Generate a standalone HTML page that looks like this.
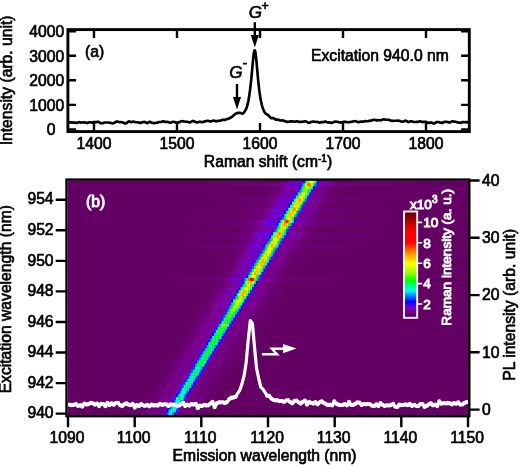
<!DOCTYPE html>
<html><head><meta charset="utf-8"><title>Raman figure</title>
<style>html,body{margin:0;padding:0;background:#fff}svg{display:block}</style></head>
<body><svg width="520" height="466" viewBox="0 0 520 466" font-family="Liberation Sans, Arial, sans-serif" font-size="15.7px">
<rect width="520" height="466" fill="#fff"/>
<polyline points="68.9,122.1 69.4,122.3 69.9,122.3 70.4,122.4 70.9,122.4 71.4,122.4 71.9,122.4 72.4,122.5 72.9,122.6 73.4,122.6 73.9,122.6 74.4,122.6 74.9,122.6 75.4,122.7 75.9,122.8 76.4,122.8 76.9,122.9 77.4,122.7 77.9,122.4 78.4,122.2 78.9,122.2 79.4,122.1 79.9,122.2 80.4,122.4 80.9,122.6 81.4,122.5 81.9,122.5 82.4,122.5 82.9,122.4 83.4,122.3 83.9,122.3 84.4,122.4 84.9,122.5 85.4,122.6 85.9,122.8 86.4,122.9 86.9,122.9 87.4,122.9 87.9,122.7 88.4,122.5 88.9,122.4 89.4,122.3 89.9,122.2 90.4,122.3 90.9,122.4 91.4,122.6 91.9,122.6 92.4,122.6 92.9,122.5 93.4,122.2 93.9,122.0 94.4,122.0 94.9,122.1 95.4,122.1 95.9,122.1 96.4,122.1 96.9,122.0 97.4,121.8 97.9,121.7 98.4,121.9 98.9,122.2 99.4,122.5 99.9,122.8 100.4,123.1 100.9,123.2 101.4,123.2 101.9,123.3 102.4,123.2 102.9,123.2 103.4,123.0 103.9,122.7 104.4,122.5 104.9,122.5 105.4,122.5 105.9,122.5 106.4,122.5 106.9,122.5 107.4,122.5 107.9,122.5 108.4,122.5 108.9,122.6 109.4,122.7 109.9,122.8 110.4,122.8 110.9,122.9 111.4,123.1 111.9,123.2 112.4,123.2 112.9,123.3 113.4,123.3 113.9,123.1 114.4,122.8 114.9,122.5 115.4,122.1 115.9,121.7 116.4,121.6 116.9,121.5 117.4,121.5 117.9,121.7 118.4,121.9 118.9,122.0 119.4,122.1 119.9,122.1 120.4,122.1 120.9,122.1 121.4,122.2 121.9,122.2 122.4,122.3 122.9,122.5 123.4,122.7 123.9,122.9 124.4,123.2 124.9,123.5 125.4,123.5 125.9,123.4 126.4,123.3 126.9,122.9 127.4,122.4 127.9,122.0 128.4,121.7 128.9,121.4 129.4,121.5 129.9,121.7 130.4,121.9 130.9,122.0 131.4,122.1 131.9,122.0 132.4,121.8 132.9,121.6 133.4,121.7 133.9,121.8 134.4,121.9 134.9,122.0 135.4,122.2 135.9,122.2 136.4,122.2 136.9,122.2 137.4,122.3 137.9,122.4 138.4,122.5 138.9,122.6 139.4,122.8 139.9,122.8 140.4,122.8 140.9,122.8 141.4,122.6 141.9,122.5 142.4,122.3 142.9,122.1 143.4,122.0 143.9,122.0 144.4,121.9 144.9,122.1 145.4,122.3 145.9,122.6 146.4,122.8 146.9,123.0 147.4,123.1 147.9,122.7 148.4,122.4 148.9,122.2 149.4,121.9 149.9,121.8 150.4,122.0 150.9,122.2 151.4,122.4 151.9,122.7 152.4,123.0 152.9,123.0 153.4,123.1 153.9,123.1 154.4,123.1 154.9,123.0 155.4,123.0 155.9,122.9 156.4,122.8 156.9,122.7 157.4,122.6 157.9,122.4 158.4,122.2 158.9,122.0 159.4,122.0 159.9,122.0 160.4,122.0 160.9,122.0 161.4,122.0 161.9,121.8 162.4,121.5 162.9,121.3 163.4,121.4 163.9,121.4 164.4,121.5 164.9,121.7 165.4,122.0 165.9,122.0 166.4,122.0 166.9,122.0 167.4,121.9 167.9,121.9 168.4,122.1 168.9,122.3 169.4,122.5 169.9,122.7 170.4,122.8 170.9,122.7 171.4,122.4 171.9,122.1 172.4,121.9 172.9,121.7 173.4,121.7 173.9,121.8 174.4,122.0 174.9,122.2 175.4,122.4 175.9,122.5 176.4,122.5 176.9,122.5 177.4,122.5 177.9,122.5 178.4,122.5 178.9,122.3 179.4,122.2 179.9,122.0 180.4,121.7 180.9,121.4 181.4,121.3 181.9,121.2 182.4,121.1 182.9,121.2 183.4,121.4 183.9,121.5 184.4,121.5 184.9,121.6 185.4,121.6 185.9,121.7 186.4,121.7 186.9,121.8 187.4,121.9 187.9,122.0 188.4,122.1 188.9,122.2 189.4,122.3 189.9,122.3 190.4,122.2 190.9,121.9 191.4,121.7 191.9,121.4 192.4,121.1 192.9,120.9 193.4,121.1 193.9,121.2 194.4,121.5 194.9,121.8 195.4,122.0 195.9,122.2 196.4,122.3 196.9,122.3 197.4,122.3 197.9,122.2 198.4,122.1 198.9,121.9 199.4,121.8 199.9,121.8 200.4,121.9 200.9,122.0 201.4,122.1 201.9,122.2 202.4,122.1 202.9,122.0 203.4,121.8 203.9,121.7 204.4,121.5 204.9,121.4 205.4,121.2 205.9,121.1 206.4,121.0 206.9,120.9 207.4,120.9 207.9,120.9 208.4,120.9 208.9,121.1 209.4,121.3 209.9,121.4 210.4,121.5 210.9,121.5 211.4,121.3 211.9,121.1 212.4,121.0 212.9,120.8 213.4,120.6 213.9,120.7 214.4,120.8 214.9,120.9 215.4,121.1 215.9,121.3 216.4,121.3 216.9,121.1 217.4,121.0 217.9,120.9 218.4,120.8 218.9,120.8 219.4,120.8 219.9,120.8 220.4,120.7 220.9,120.5 221.4,120.3 221.9,120.0 222.4,119.7 222.9,119.7 223.4,119.8 223.9,119.9 224.4,119.9 224.9,119.9 225.4,119.8 225.9,119.5 226.4,119.3 226.9,119.1 227.4,119.0 227.9,118.8 228.4,118.7 228.9,118.5 229.4,118.3 229.9,118.0 230.4,117.7 230.9,117.5 231.4,117.2 231.9,116.9 232.4,116.5 232.9,116.1 233.4,115.6 233.9,115.1 234.4,114.6 234.9,114.2 235.4,113.9 235.9,113.6 236.4,113.4 236.9,113.2 237.4,113.0 237.9,112.9 238.4,112.9 238.9,112.8 239.4,112.8 239.9,112.9 240.4,113.0 240.9,113.1 241.4,113.4 241.9,113.6 242.4,113.6 242.9,113.4 243.4,113.2 243.9,112.6 244.4,111.9 244.9,111.1 245.4,110.3 245.9,109.4 246.4,108.2 246.9,106.8 247.4,105.2 247.9,103.0 248.4,100.6 248.9,97.8 249.4,94.7 249.9,91.2 250.4,87.2 250.9,82.7 251.4,77.8 251.9,72.4 252.4,66.9 252.9,61.4 253.4,56.5 253.9,52.8 254.4,50.6 254.9,50.4 255.4,52.3 255.9,55.9 256.4,60.7 256.9,66.2 257.4,71.9 257.9,77.4 258.4,82.5 258.9,87.2 259.4,91.3 259.9,94.9 260.4,98.0 260.9,100.7 261.4,103.0 261.9,105.1 262.4,106.8 262.9,108.3 263.4,109.7 263.9,110.9 264.4,111.9 264.9,112.6 265.4,113.2 265.9,113.7 266.4,114.0 266.9,114.4 267.4,114.7 267.9,115.0 268.4,115.4 268.9,115.9 269.4,116.4 269.9,117.0 270.4,117.6 270.9,118.0 271.4,118.1 271.9,118.2 272.4,118.1 272.9,118.1 273.4,118.1 273.9,118.4 274.4,118.7 274.9,119.1 275.4,119.4 275.9,119.8 276.4,119.7 276.9,119.6 277.4,119.6 277.9,119.6 278.4,119.7 278.9,119.9 279.4,120.3 279.9,120.5 280.4,120.5 280.9,120.5 281.4,120.4 281.9,120.4 282.4,120.3 282.9,120.5 283.4,120.7 283.9,120.9 284.4,121.0 284.9,121.1 285.4,121.3 285.9,121.5 286.4,121.6 286.9,121.7 287.4,121.9 287.9,121.9 288.4,121.8 288.9,121.7 289.4,121.6 289.9,121.5 290.4,121.4 290.9,121.3 291.4,121.3 291.9,121.3 292.4,121.3 292.9,121.3 293.4,121.5 293.9,121.7 294.4,121.7 294.9,121.7 295.4,121.6 295.9,121.5 296.4,121.3 296.9,121.2 297.4,121.4 297.9,121.5 298.4,121.7 298.9,121.9 299.4,122.0 299.9,121.9 300.4,121.9 300.9,121.8 301.4,121.8 301.9,121.8 302.4,121.7 302.9,121.7 303.4,121.6 303.9,121.5 304.4,121.4 304.9,121.4 305.4,121.3 305.9,121.3 306.4,121.6 306.9,121.9 307.4,122.2 307.9,122.5 308.4,122.9 308.9,122.8 309.4,122.7 309.9,122.6 310.4,122.3 310.9,122.0 311.4,121.9 311.9,121.8 312.4,121.7 312.9,121.6 313.4,121.5 313.9,121.6 314.4,121.7 314.9,121.8 315.4,121.9 315.9,122.0 316.4,122.0 316.9,121.9 317.4,121.9 317.9,122.1 318.4,122.3 318.9,122.5 319.4,122.6 319.9,122.6 320.4,122.4 320.9,122.2 321.4,122.0 321.9,122.1 322.4,122.2 322.9,122.2 323.4,122.1 323.9,122.0 324.4,121.8 324.9,121.6 325.4,121.5 325.9,121.8 326.4,122.0 326.9,122.2 327.4,122.3 327.9,122.5 328.4,122.4 328.9,122.3 329.4,122.3 329.9,122.5 330.4,122.7 330.9,122.8 331.4,122.9 331.9,122.9 332.4,122.6 332.9,122.4 333.4,122.2 333.9,121.9 334.4,121.7 334.9,121.7 335.4,121.6 335.9,121.6 336.4,121.7 336.9,121.7 337.4,121.8 337.9,122.0 338.4,122.1 338.9,122.2 339.4,122.3 339.9,122.4 340.4,122.5 340.9,122.6 341.4,122.4 341.9,122.3 342.4,122.2 342.9,122.0 343.4,121.9 343.9,121.9 344.4,121.9 344.9,121.9 345.4,121.9 345.9,121.9 346.4,122.0 346.9,122.1 347.4,122.2 347.9,122.2 348.4,122.2 348.9,122.2 349.4,122.1 349.9,122.1 350.4,122.0 350.9,121.9 351.4,121.8 351.9,121.7 352.4,121.6 352.9,121.5 353.4,121.4 353.9,121.3 354.4,121.2 354.9,121.1 355.4,121.2 355.9,121.3 356.4,121.5 356.9,121.7 357.4,121.9 357.9,122.1 358.4,122.1 358.9,122.1 359.4,122.0 359.9,121.8 360.4,121.7 360.9,121.6 361.4,121.5 361.9,121.5 362.4,121.6 362.9,121.6 363.4,121.6 363.9,121.5 364.4,121.4 364.9,121.3 365.4,121.1 365.9,121.1 366.4,121.2 366.9,121.3 367.4,121.2 367.9,121.2 368.4,121.1 368.9,120.9 369.4,120.8 369.9,120.7 370.4,120.6 370.9,120.6 371.4,120.5 371.9,120.4 372.4,120.3 372.9,120.1 373.4,119.9 373.9,119.9 374.4,119.9 374.9,119.9 375.4,120.1 375.9,120.3 376.4,120.4 376.9,120.4 377.4,120.4 377.9,120.3 378.4,120.1 378.9,120.1 379.4,120.2 379.9,120.3 380.4,120.3 380.9,120.3 381.4,120.2 381.9,119.9 382.4,119.6 382.9,119.5 383.4,119.4 383.9,119.3 384.4,119.4 384.9,119.6 385.4,119.6 385.9,119.7 386.4,119.8 386.9,119.7 387.4,119.7 387.9,119.7 388.4,119.8 388.9,119.9 389.4,120.1 389.9,120.3 390.4,120.5 390.9,120.6 391.4,120.8 391.9,120.8 392.4,120.8 392.9,120.8 393.4,120.7 393.9,120.7 394.4,120.7 394.9,120.7 395.4,120.7 395.9,120.7 396.4,120.7 396.9,120.7 397.4,120.6 397.9,120.6 398.4,120.7 398.9,120.7 399.4,120.8 399.9,121.0 400.4,121.2 400.9,121.4 401.4,121.6 401.9,121.8 402.4,121.7 402.9,121.6 403.4,121.4 403.9,121.2 404.4,121.0 404.9,120.9 405.4,120.8 405.9,120.7 406.4,121.0 406.9,121.2 407.4,121.5 407.9,121.8 408.4,122.1 408.9,122.0 409.4,121.8 409.9,121.6 410.4,121.4 410.9,121.2 411.4,121.2 411.9,121.4 412.4,121.6 412.9,121.8 413.4,121.9 413.9,122.0 414.4,122.0 414.9,122.0 415.4,122.0 415.9,122.0 416.4,121.9 416.9,121.9 417.4,121.8 417.9,121.8 418.4,121.7 418.9,121.6 419.4,121.5 419.9,121.4 420.4,121.4 420.9,121.5 421.4,121.7 421.9,121.8 422.4,122.0 422.9,122.1 423.4,122.0 423.9,121.8 424.4,121.8 424.9,121.7 425.4,121.7 425.9,121.9 426.4,122.1 426.9,122.3 427.4,122.6 427.9,122.8 428.4,122.9 428.9,123.0 429.4,122.9 429.9,122.7 430.4,122.5 430.9,122.4 431.4,122.6 431.9,122.7 432.4,123.0 432.9,123.3 433.4,123.5 433.9,123.5 434.4,123.4 434.9,123.1 435.4,122.8 435.9,122.5 436.4,122.3 436.9,122.1 437.4,122.0 437.9,122.0 438.4,122.0 438.9,122.1 439.4,122.2 439.9,122.4 440.4,122.6 440.9,122.8 441.4,122.9 441.9,122.8 442.4,122.8 442.9,122.5 443.4,122.2 443.9,122.0 444.4,122.0 444.9,121.9 445.4,121.9 445.9,121.9 446.4,121.9 446.9,121.9 447.4,122.0 447.9,122.1 448.4,122.3 448.9,122.5 449.4,122.5 449.9,122.5 450.4,122.2 450.9,121.9 451.4,121.6 451.9,121.5 452.4,121.4 452.9,121.4 453.4,121.5 453.9,121.6 454.4,121.6 454.9,121.7 455.4,121.8 455.9,121.9 456.4,122.1 456.9,122.2 457.4,122.3 457.9,122.3 458.4,122.5 458.9,122.6 459.4,122.7 459.9,122.8 460.4,122.9 460.9,122.8 461.4,122.5 461.9,122.3 462.4,122.2 462.9,122.0 463.4,122.0 463.9,122.1 464.4,122.2 464.9,122.2 465.4,122.1 465.9,122.1 466.4,122.1 466.9,122.0 467.4,122.3 467.9,122.6 468.4,122.9" fill="none" stroke="#000" stroke-width="2.65" stroke-linejoin="round"/>
<rect x="67.9" y="29.6" width="401.4" height="102.0" fill="none" stroke="#000" stroke-width="2.9"/>
<path d="M94.0 29.6v8.5M94.0 131.6v-8.5M177.0 29.6v8.5M177.0 131.6v-8.5M260.0 29.6v8.5M260.0 131.6v-8.5M343.0 29.6v8.5M343.0 131.6v-8.5M426.0 29.6v8.5M426.0 131.6v-8.5M67.9 129.4h8.2M469.3 129.4h-8.2M67.9 104.9h8.2M469.3 104.9h-8.2M67.9 80.3h8.2M469.3 80.3h-8.2M67.9 55.8h8.2M469.3 55.8h-8.2M67.9 31.2h8.2M469.3 31.2h-8.2" stroke="#000" stroke-width="2.4" fill="none"/>
<text x="94.0" y="148.8" text-anchor="middle" fill="#000" stroke="#000" stroke-width="0.65">1400</text>
<text x="177.0" y="148.8" text-anchor="middle" fill="#000" stroke="#000" stroke-width="0.65">1500</text>
<text x="260.0" y="148.8" text-anchor="middle" fill="#000" stroke="#000" stroke-width="0.65">1600</text>
<text x="343.0" y="148.8" text-anchor="middle" fill="#000" stroke="#000" stroke-width="0.65">1700</text>
<text x="426.0" y="148.8" text-anchor="middle" fill="#000" stroke="#000" stroke-width="0.65">1800</text>
<text x="55.6" y="134.5" text-anchor="end" fill="#000" stroke="#000" stroke-width="0.65">0</text>
<text x="64.2" y="110.8" text-anchor="end" fill="#000" stroke="#000" stroke-width="0.65">1000</text>
<text x="64.2" y="86.2" text-anchor="end" fill="#000" stroke="#000" stroke-width="0.65">2000</text>
<text x="64.2" y="61.7" text-anchor="end" fill="#000" stroke="#000" stroke-width="0.65">3000</text>
<text x="64.2" y="37.1" text-anchor="end" fill="#000" stroke="#000" stroke-width="0.65">4000</text>
<text x="268" y="166.5" text-anchor="middle" fill="#000" stroke="#000" stroke-width="0.65">Raman shift (cm<tspan dy="-5" font-size="10px">-1</tspan><tspan dy="5">)</tspan></text>
<text transform="translate(12.4,80.4) rotate(-90)" text-anchor="middle" fill="#000" stroke="#000" stroke-width="0.65">Intensity (arb. unit)</text>
<text x="85" y="57" fill="#000" stroke="#000" stroke-width="0.65">(a)</text>
<text x="311" y="61" fill="#000" stroke="#000" stroke-width="0.65">Excitation 940.0 nm</text>
<text x="248.8" y="17.5" font-style="italic" font-size="17px" fill="#000" stroke="#000" stroke-width="0.65">G<tspan dx="-0.6" dy="-7.6" font-size="12.5px" font-style="normal">+</tspan></text>
<text x="229.2" y="77.6" font-style="italic" font-size="17px" fill="#000" stroke="#000" stroke-width="0.65">G<tspan dx="0.3" dy="-10.3" font-size="12.5px" font-style="normal">-</tspan></text>
<path d="M254.8 22.2V39.5" stroke="#000" stroke-width="2.4" fill="none"/>
<path d="M250.8 35.0L254.8 47.5L258.8 35.0Z" fill="#000"/>
<path d="M237 84V101.5" stroke="#000" stroke-width="2.4" fill="none"/>
<path d="M233 97.0L237 109.5L241 97.0Z" fill="#000"/>
<rect x="67.7" y="180.6" width="400.5" height="234.4" fill="rgb(100, 0, 100)"/>
<filter id="bl" x="-5%" y="-5%" width="110%" height="110%"><feGaussianBlur stdDeviation="0.55"/></filter><g filter="url(#bl)">
<g transform="translate(0 413.56)" stroke-width="3.28">
<path d="M139.9 0h2.35" stroke="#660069"/>
<path d="M141.8 0h2.35" stroke="#69006c"/>
<path d="M143.7 0h2.35" stroke="#69006f"/>
<path d="M145.6 0h2.35" stroke="#6c0072"/>
<path d="M147.5 0h2.35" stroke="#6f0078"/>
<path d="M149.4 0h2.35" stroke="#6f007e"/>
<path d="M151.3 0h2.35" stroke="#720081"/>
<path d="M153.2 0h4.25" stroke="#750084"/>
<path d="M157.0 0h4.25" stroke="#720081"/>
<path d="M160.8 0h2.35" stroke="#750087"/>
<path d="M162.7 0h2.35" stroke="#7800ab"/>
<path d="M164.6 0h2.35" stroke="#3c00f0"/>
<path d="M166.5 0h2.35" stroke="#005dff"/>
<path d="M168.4 0h2.35" stroke="#00dbff"/>
<path d="M170.3 0h2.35" stroke="#00eaff"/>
<path d="M172.2 0h2.35" stroke="#0084ff"/>
<path d="M174.1 0h2.35" stroke="#1500f9"/>
<path d="M176.0 0h2.35" stroke="#7500ba"/>
<path d="M177.9 0h2.35" stroke="#750087"/>
<path d="M179.8 0h2.35" stroke="#6f0078"/>
<path d="M181.7 0h2.35" stroke="#6c0078"/>
<path d="M183.6 0h2.35" stroke="#6f0078"/>
<path d="M185.5 0h2.35" stroke="#6f007b"/>
<path d="M187.4 0h2.35" stroke="#6f0078"/>
<path d="M189.3 0h2.35" stroke="#6c0075"/>
<path d="M191.2 0h2.35" stroke="#6c0072"/>
<path d="M193.1 0h2.35" stroke="#69006f"/>
<path d="M195.0 0h2.35" stroke="#69006c"/>
<path d="M196.9 0h4.25" stroke="#660069"/>
</g>
<g transform="translate(0 410.59)" stroke-width="3.46">
<path d="M139.9 0h2.35" stroke="#660069"/>
<path d="M141.8 0h2.35" stroke="#69006c"/>
<path d="M143.7 0h2.35" stroke="#69006f"/>
<path d="M145.6 0h2.35" stroke="#6c0072"/>
<path d="M147.5 0h2.35" stroke="#6c0075"/>
<path d="M149.4 0h2.35" stroke="#6f007b"/>
<path d="M151.3 0h2.35" stroke="#720081"/>
<path d="M153.2 0h2.35" stroke="#750087"/>
<path d="M155.1 0h4.25" stroke="#78008a"/>
<path d="M158.9 0h4.25" stroke="#750087"/>
<path d="M162.7 0h2.35" stroke="#7b0090"/>
<path d="M164.6 0h2.35" stroke="#7500c0"/>
<path d="M166.5 0h2.35" stroke="#0600fc"/>
<path d="M168.4 0h2.35" stroke="#00b4ff"/>
<path d="M170.3 0h2.35" stroke="#00ffab"/>
<path d="M172.2 0h2.35" stroke="#00ff99"/>
<path d="M174.1 0h2.35" stroke="#00e1ff"/>
<path d="M176.0 0h2.35" stroke="#001eff"/>
<path d="M177.9 0h2.35" stroke="#7200cc"/>
<path d="M179.8 0h2.35" stroke="#78008d"/>
<path d="M181.7 0h4.25" stroke="#6f007b"/>
<path d="M185.5 0h4.25" stroke="#72007e"/>
<path d="M189.3 0h2.35" stroke="#6f007e"/>
<path d="M191.2 0h2.35" stroke="#6f0078"/>
<path d="M193.1 0h2.35" stroke="#6c0075"/>
<path d="M195.0 0h2.35" stroke="#69006f"/>
<path d="M196.9 0h4.25" stroke="#69006c"/>
<path d="M200.7 0h4.25" stroke="#660069"/>
</g>
<g transform="translate(0 407.54)" stroke-width="3.46">
<path d="M141.8 0h2.35" stroke="#660069"/>
<path d="M143.7 0h4.25" stroke="#69006c"/>
<path d="M147.5 0h2.35" stroke="#690072"/>
<path d="M149.4 0h2.35" stroke="#6c0075"/>
<path d="M151.3 0h2.35" stroke="#6f007b"/>
<path d="M153.2 0h2.35" stroke="#720081"/>
<path d="M155.1 0h2.35" stroke="#750087"/>
<path d="M157.0 0h2.35" stroke="#75008a"/>
<path d="M158.9 0h4.25" stroke="#750087"/>
<path d="M162.7 0h2.35" stroke="#750084"/>
<path d="M164.6 0h2.35" stroke="#78008d"/>
<path d="M166.5 0h2.35" stroke="#7500bd"/>
<path d="M168.4 0h2.35" stroke="#1200f9"/>
<path d="M170.3 0h2.35" stroke="#009cff"/>
<path d="M172.2 0h2.35" stroke="#00ffd2"/>
<path d="M174.1 0h2.35" stroke="#00ffc0"/>
<path d="M176.0 0h2.35" stroke="#00c0ff"/>
<path d="M177.9 0h2.35" stroke="#0009ff"/>
<path d="M179.8 0h2.35" stroke="#7500c3"/>
<path d="M181.7 0h2.35" stroke="#78008a"/>
<path d="M183.6 0h6.15" stroke="#6f007b"/>
<path d="M189.3 0h2.35" stroke="#72007e"/>
<path d="M191.2 0h2.35" stroke="#6f007b"/>
<path d="M193.1 0h2.35" stroke="#6f0078"/>
<path d="M195.0 0h2.35" stroke="#6c0072"/>
<path d="M196.9 0h2.35" stroke="#69006f"/>
<path d="M198.8 0h2.35" stroke="#69006c"/>
<path d="M200.7 0h2.35" stroke="#66006c"/>
<path d="M202.6 0h4.25" stroke="#660069"/>
</g>
<g transform="translate(0 404.48)" stroke-width="3.46">
<path d="M143.7 0h2.35" stroke="#660069"/>
<path d="M145.6 0h2.35" stroke="#66006c"/>
<path d="M147.5 0h2.35" stroke="#69006c"/>
<path d="M149.4 0h2.35" stroke="#69006f"/>
<path d="M151.3 0h2.35" stroke="#6c0075"/>
<path d="M153.2 0h2.35" stroke="#6f0078"/>
<path d="M155.1 0h2.35" stroke="#72007e"/>
<path d="M157.0 0h2.35" stroke="#750084"/>
<path d="M158.9 0h4.25" stroke="#750087"/>
<path d="M162.7 0h2.35" stroke="#750084"/>
<path d="M164.6 0h2.35" stroke="#720084"/>
<path d="M166.5 0h2.35" stroke="#78008d"/>
<path d="M168.4 0h2.35" stroke="#7500b7"/>
<path d="M170.3 0h2.35" stroke="#2100f6"/>
<path d="M172.2 0h2.35" stroke="#0081ff"/>
<path d="M174.1 0h2.35" stroke="#00fff9"/>
<path d="M176.0 0h2.35" stroke="#00ffed"/>
<path d="M177.9 0h2.35" stroke="#0099ff"/>
<path d="M179.8 0h2.35" stroke="#0c00fc"/>
<path d="M181.7 0h2.35" stroke="#7500ba"/>
<path d="M183.6 0h2.35" stroke="#750087"/>
<path d="M185.5 0h4.25" stroke="#6f0078"/>
<path d="M189.3 0h6.15" stroke="#6f007b"/>
<path d="M195.0 0h2.35" stroke="#6c0075"/>
<path d="M196.9 0h2.35" stroke="#6c0072"/>
<path d="M198.8 0h2.35" stroke="#69006f"/>
<path d="M200.7 0h2.35" stroke="#69006c"/>
<path d="M202.6 0h4.25" stroke="#660069"/>
</g>
<g transform="translate(0 401.43)" stroke-width="3.46">
<path d="M145.6 0h2.35" stroke="#660069"/>
<path d="M147.5 0h2.35" stroke="#66006c"/>
<path d="M149.4 0h2.35" stroke="#69006c"/>
<path d="M151.3 0h2.35" stroke="#69006f"/>
<path d="M153.2 0h2.35" stroke="#6c0075"/>
<path d="M155.1 0h2.35" stroke="#6f007b"/>
<path d="M157.0 0h2.35" stroke="#720081"/>
<path d="M158.9 0h2.35" stroke="#750084"/>
<path d="M160.8 0h4.25" stroke="#750087"/>
<path d="M164.6 0h4.25" stroke="#750084"/>
<path d="M168.4 0h2.35" stroke="#78008d"/>
<path d="M170.3 0h2.35" stroke="#7500bd"/>
<path d="M172.2 0h2.35" stroke="#1200f9"/>
<path d="M174.1 0h2.35" stroke="#0096ff"/>
<path d="M176.0 0h2.35" stroke="#00ffe1"/>
<path d="M177.9 0h2.35" stroke="#00ffd8"/>
<path d="M179.8 0h2.35" stroke="#00a5ff"/>
<path d="M181.7 0h2.35" stroke="#0900fc"/>
<path d="M183.6 0h2.35" stroke="#7500ba"/>
<path d="M185.5 0h2.35" stroke="#750087"/>
<path d="M187.4 0h2.35" stroke="#6f007b"/>
<path d="M189.3 0h2.35" stroke="#6f0078"/>
<path d="M191.2 0h6.15" stroke="#6f007b"/>
<path d="M196.9 0h2.35" stroke="#6c0075"/>
<path d="M198.8 0h2.35" stroke="#6c0072"/>
<path d="M200.7 0h2.35" stroke="#69006f"/>
<path d="M202.6 0h2.35" stroke="#69006c"/>
<path d="M204.5 0h4.25" stroke="#660069"/>
</g>
<g transform="translate(0 398.37)" stroke-width="3.46">
<path d="M145.6 0h2.35" stroke="#660069"/>
<path d="M147.5 0h2.35" stroke="#66006c"/>
<path d="M149.4 0h2.35" stroke="#69006c"/>
<path d="M151.3 0h2.35" stroke="#69006f"/>
<path d="M153.2 0h2.35" stroke="#6c0075"/>
<path d="M155.1 0h2.35" stroke="#6f007b"/>
<path d="M157.0 0h2.35" stroke="#720081"/>
<path d="M158.9 0h2.35" stroke="#750087"/>
<path d="M160.8 0h2.35" stroke="#78008d"/>
<path d="M162.7 0h4.25" stroke="#7b0090"/>
<path d="M166.5 0h4.25" stroke="#78008d"/>
<path d="M170.3 0h2.35" stroke="#7b0099"/>
<path d="M172.2 0h2.35" stroke="#6f00db"/>
<path d="M174.1 0h2.35" stroke="#0039ff"/>
<path d="M176.0 0h2.35" stroke="#00ffde"/>
<path d="M177.9 0h2.35" stroke="#00ff33"/>
<path d="M179.8 0h2.35" stroke="#00ff2d"/>
<path d="M181.7 0h2.35" stroke="#00ffd8"/>
<path d="M183.6 0h2.35" stroke="#0039ff"/>
<path d="M185.5 0h2.35" stroke="#7200d5"/>
<path d="M187.4 0h2.35" stroke="#7b0090"/>
<path d="M189.3 0h2.35" stroke="#720081"/>
<path d="M191.2 0h2.35" stroke="#72007e"/>
<path d="M193.1 0h2.35" stroke="#720081"/>
<path d="M195.0 0h2.35" stroke="#720084"/>
<path d="M196.9 0h2.35" stroke="#720081"/>
<path d="M198.8 0h2.35" stroke="#6f007b"/>
<path d="M200.7 0h2.35" stroke="#6c0075"/>
<path d="M202.6 0h2.35" stroke="#6c0072"/>
<path d="M204.5 0h2.35" stroke="#69006f"/>
<path d="M206.4 0h4.25" stroke="#69006c"/>
<path d="M210.2 0h6.15" stroke="#660069"/>
</g>
<g transform="translate(0 395.32)" stroke-width="3.46">
<path d="M149.4 0h2.35" stroke="#660069"/>
<path d="M151.3 0h2.35" stroke="#69006c"/>
<path d="M153.2 0h2.35" stroke="#69006f"/>
<path d="M155.1 0h2.35" stroke="#6c0072"/>
<path d="M157.0 0h2.35" stroke="#6c0075"/>
<path d="M158.9 0h2.35" stroke="#6f007b"/>
<path d="M160.8 0h2.35" stroke="#720081"/>
<path d="M162.7 0h2.35" stroke="#750084"/>
<path d="M164.6 0h4.25" stroke="#750087"/>
<path d="M168.4 0h4.25" stroke="#750084"/>
<path d="M172.2 0h2.35" stroke="#7b0090"/>
<path d="M174.1 0h2.35" stroke="#7500c3"/>
<path d="M176.0 0h2.35" stroke="#0000ff"/>
<path d="M177.9 0h2.35" stroke="#00b1ff"/>
<path d="M179.8 0h4.25" stroke="#00ffc6"/>
<path d="M183.6 0h2.35" stroke="#00abff"/>
<path d="M185.5 0h2.35" stroke="#0900fc"/>
<path d="M187.4 0h2.35" stroke="#7500ba"/>
<path d="M189.3 0h2.35" stroke="#750087"/>
<path d="M191.2 0h6.15" stroke="#6f007b"/>
<path d="M196.9 0h2.35" stroke="#6f007e"/>
<path d="M198.8 0h2.35" stroke="#6f007b"/>
<path d="M200.7 0h2.35" stroke="#6c0078"/>
<path d="M202.6 0h2.35" stroke="#6c0072"/>
<path d="M204.5 0h2.35" stroke="#69006f"/>
<path d="M206.4 0h2.35" stroke="#69006c"/>
<path d="M208.3 0h2.35" stroke="#66006c"/>
<path d="M210.2 0h4.25" stroke="#660069"/>
</g>
<g transform="translate(0 392.26)" stroke-width="3.46">
<path d="M151.3 0h2.35" stroke="#660069"/>
<path d="M153.2 0h2.35" stroke="#69006c"/>
<path d="M155.1 0h2.35" stroke="#69006f"/>
<path d="M157.0 0h2.35" stroke="#6c0072"/>
<path d="M158.9 0h2.35" stroke="#6c0075"/>
<path d="M160.8 0h2.35" stroke="#6f007b"/>
<path d="M162.7 0h2.35" stroke="#720081"/>
<path d="M164.6 0h6.15" stroke="#750087"/>
<path d="M170.3 0h4.25" stroke="#750084"/>
<path d="M174.1 0h2.35" stroke="#7b0090"/>
<path d="M176.0 0h2.35" stroke="#7200c6"/>
<path d="M177.9 0h2.35" stroke="#0009ff"/>
<path d="M179.8 0h2.35" stroke="#00baff"/>
<path d="M181.7 0h2.35" stroke="#00ffc0"/>
<path d="M183.6 0h2.35" stroke="#00ffc6"/>
<path d="M185.5 0h2.35" stroke="#00a8ff"/>
<path d="M187.4 0h2.35" stroke="#0f00fc"/>
<path d="M189.3 0h2.35" stroke="#7500b7"/>
<path d="M191.2 0h2.35" stroke="#750087"/>
<path d="M193.1 0h6.15" stroke="#6f007b"/>
<path d="M198.8 0h2.35" stroke="#6f007e"/>
<path d="M200.7 0h2.35" stroke="#6f007b"/>
<path d="M202.6 0h2.35" stroke="#6c0078"/>
<path d="M204.5 0h2.35" stroke="#6c0072"/>
<path d="M206.4 0h2.35" stroke="#69006f"/>
<path d="M208.3 0h2.35" stroke="#69006c"/>
<path d="M210.2 0h2.35" stroke="#66006c"/>
<path d="M212.1 0h4.25" stroke="#660069"/>
</g>
<g transform="translate(0 389.21)" stroke-width="3.46">
<path d="M151.3 0h4.25" stroke="#660069"/>
<path d="M155.1 0h2.35" stroke="#69006c"/>
<path d="M157.0 0h2.35" stroke="#69006f"/>
<path d="M158.9 0h2.35" stroke="#6c0072"/>
<path d="M160.8 0h2.35" stroke="#6f0078"/>
<path d="M162.7 0h2.35" stroke="#72007e"/>
<path d="M164.6 0h2.35" stroke="#750084"/>
<path d="M166.5 0h2.35" stroke="#75008a"/>
<path d="M168.4 0h4.25" stroke="#78008a"/>
<path d="M172.2 0h4.25" stroke="#750087"/>
<path d="M176.0 0h2.35" stroke="#7e0096"/>
<path d="M177.9 0h2.35" stroke="#6f00d5"/>
<path d="M179.8 0h2.35" stroke="#0027ff"/>
<path d="M181.7 0h2.35" stroke="#00f0ff"/>
<path d="M183.6 0h2.35" stroke="#00ff7b"/>
<path d="M185.5 0h2.35" stroke="#00ff87"/>
<path d="M187.4 0h2.35" stroke="#00cfff"/>
<path d="M189.3 0h2.35" stroke="#0006ff"/>
<path d="M191.2 0h2.35" stroke="#7500bd"/>
<path d="M193.1 0h2.35" stroke="#75008a"/>
<path d="M195.0 0h4.25" stroke="#6f007b"/>
<path d="M198.8 0h4.25" stroke="#72007e"/>
<path d="M202.6 0h2.35" stroke="#6f007e"/>
<path d="M204.5 0h2.35" stroke="#6f0078"/>
<path d="M206.4 0h2.35" stroke="#6c0075"/>
<path d="M208.3 0h2.35" stroke="#69006f"/>
<path d="M210.2 0h4.25" stroke="#69006c"/>
<path d="M214.0 0h6.15" stroke="#660069"/>
</g>
<g transform="translate(0 386.15)" stroke-width="3.46">
<path d="M153.2 0h4.25" stroke="#660069"/>
<path d="M157.0 0h2.35" stroke="#69006c"/>
<path d="M158.9 0h2.35" stroke="#69006f"/>
<path d="M160.8 0h2.35" stroke="#6c0072"/>
<path d="M162.7 0h2.35" stroke="#6f0078"/>
<path d="M164.6 0h2.35" stroke="#72007e"/>
<path d="M166.5 0h2.35" stroke="#750084"/>
<path d="M168.4 0h2.35" stroke="#78008a"/>
<path d="M170.3 0h4.25" stroke="#78008d"/>
<path d="M174.1 0h4.25" stroke="#78008a"/>
<path d="M177.9 0h2.35" stroke="#7b0099"/>
<path d="M179.8 0h2.35" stroke="#6f00de"/>
<path d="M181.7 0h2.35" stroke="#0039ff"/>
<path d="M183.6 0h2.35" stroke="#00fff0"/>
<path d="M185.5 0h2.35" stroke="#00ff60"/>
<path d="M187.4 0h2.35" stroke="#00ff6c"/>
<path d="M189.3 0h2.35" stroke="#00deff"/>
<path d="M191.2 0h2.35" stroke="#000cff"/>
<path d="M193.1 0h2.35" stroke="#7500c0"/>
<path d="M195.0 0h2.35" stroke="#78008a"/>
<path d="M196.9 0h4.25" stroke="#72007e"/>
<path d="M200.7 0h4.25" stroke="#720081"/>
<path d="M204.5 0h2.35" stroke="#72007e"/>
<path d="M206.4 0h2.35" stroke="#6f0078"/>
<path d="M208.3 0h2.35" stroke="#6c0075"/>
<path d="M210.2 0h2.35" stroke="#69006f"/>
<path d="M212.1 0h4.25" stroke="#69006c"/>
<path d="M215.9 0h6.15" stroke="#660069"/>
</g>
<g transform="translate(0 383.10)" stroke-width="3.46">
<path d="M155.1 0h4.25" stroke="#660069"/>
<path d="M158.9 0h2.35" stroke="#69006c"/>
<path d="M160.8 0h2.35" stroke="#69006f"/>
<path d="M162.7 0h2.35" stroke="#6c0072"/>
<path d="M164.6 0h2.35" stroke="#6f0078"/>
<path d="M166.5 0h2.35" stroke="#72007e"/>
<path d="M168.4 0h2.35" stroke="#750084"/>
<path d="M170.3 0h2.35" stroke="#78008a"/>
<path d="M172.2 0h2.35" stroke="#78008d"/>
<path d="M174.1 0h2.35" stroke="#78008a"/>
<path d="M176.0 0h2.35" stroke="#75008a"/>
<path d="M177.9 0h2.35" stroke="#78008a"/>
<path d="M179.8 0h2.35" stroke="#7b0099"/>
<path d="M181.7 0h2.35" stroke="#6f00de"/>
<path d="M183.6 0h2.35" stroke="#003cff"/>
<path d="M185.5 0h2.35" stroke="#00fff3"/>
<path d="M187.4 0h2.35" stroke="#00ff66"/>
<path d="M189.3 0h2.35" stroke="#00ff78"/>
<path d="M191.2 0h2.35" stroke="#00d2ff"/>
<path d="M193.1 0h2.35" stroke="#0003ff"/>
<path d="M195.0 0h2.35" stroke="#7500bd"/>
<path d="M196.9 0h2.35" stroke="#750087"/>
<path d="M198.8 0h4.25" stroke="#6f007e"/>
<path d="M202.6 0h2.35" stroke="#72007e"/>
<path d="M204.5 0h2.35" stroke="#720081"/>
<path d="M206.4 0h2.35" stroke="#72007e"/>
<path d="M208.3 0h2.35" stroke="#6f0078"/>
<path d="M210.2 0h2.35" stroke="#6c0075"/>
<path d="M212.1 0h2.35" stroke="#69006f"/>
<path d="M214.0 0h4.25" stroke="#69006c"/>
<path d="M217.8 0h6.15" stroke="#660069"/>
</g>
<g transform="translate(0 380.04)" stroke-width="3.46">
<path d="M158.9 0h2.35" stroke="#660069"/>
<path d="M160.8 0h2.35" stroke="#69006c"/>
<path d="M162.7 0h2.35" stroke="#69006f"/>
<path d="M164.6 0h2.35" stroke="#6c0072"/>
<path d="M166.5 0h2.35" stroke="#6f0078"/>
<path d="M168.4 0h2.35" stroke="#6f007e"/>
<path d="M170.3 0h2.35" stroke="#720084"/>
<path d="M172.2 0h2.35" stroke="#750087"/>
<path d="M174.1 0h2.35" stroke="#78008a"/>
<path d="M176.0 0h2.35" stroke="#75008a"/>
<path d="M177.9 0h4.25" stroke="#750087"/>
<path d="M181.7 0h2.35" stroke="#7e0096"/>
<path d="M183.6 0h2.35" stroke="#6f00d8"/>
<path d="M185.5 0h2.35" stroke="#002dff"/>
<path d="M187.4 0h2.35" stroke="#00eaff"/>
<path d="M189.3 0h2.35" stroke="#00ff93"/>
<path d="M191.2 0h2.35" stroke="#00ffab"/>
<path d="M193.1 0h2.35" stroke="#00abff"/>
<path d="M195.0 0h2.35" stroke="#1500f9"/>
<path d="M196.9 0h2.35" stroke="#7800b4"/>
<path d="M198.8 0h2.35" stroke="#750084"/>
<path d="M200.7 0h4.25" stroke="#6f007b"/>
<path d="M204.5 0h4.25" stroke="#72007e"/>
<path d="M208.3 0h2.35" stroke="#6f007b"/>
<path d="M210.2 0h2.35" stroke="#6f0078"/>
<path d="M212.1 0h2.35" stroke="#6c0072"/>
<path d="M214.0 0h2.35" stroke="#69006f"/>
<path d="M215.9 0h2.35" stroke="#69006c"/>
<path d="M217.8 0h2.35" stroke="#66006c"/>
<path d="M219.7 0h4.25" stroke="#660069"/>
</g>
<g transform="translate(0 376.99)" stroke-width="3.46">
<path d="M160.8 0h2.35" stroke="#660069"/>
<path d="M162.7 0h2.35" stroke="#69006c"/>
<path d="M164.6 0h2.35" stroke="#69006f"/>
<path d="M166.5 0h2.35" stroke="#6c0072"/>
<path d="M168.4 0h2.35" stroke="#6f0078"/>
<path d="M170.3 0h2.35" stroke="#6f007e"/>
<path d="M172.2 0h2.35" stroke="#720081"/>
<path d="M174.1 0h2.35" stroke="#750087"/>
<path d="M176.0 0h2.35" stroke="#78008a"/>
<path d="M177.9 0h6.15" stroke="#750087"/>
<path d="M183.6 0h2.35" stroke="#7e0099"/>
<path d="M185.5 0h2.35" stroke="#6f00db"/>
<path d="M187.4 0h2.35" stroke="#0030ff"/>
<path d="M189.3 0h2.35" stroke="#00f0ff"/>
<path d="M191.2 0h2.35" stroke="#00ff96"/>
<path d="M193.1 0h2.35" stroke="#00ffb1"/>
<path d="M195.0 0h2.35" stroke="#00a2ff"/>
<path d="M196.9 0h2.35" stroke="#1b00f9"/>
<path d="M198.8 0h2.35" stroke="#7800b1"/>
<path d="M200.7 0h2.35" stroke="#750084"/>
<path d="M202.6 0h4.25" stroke="#6f007b"/>
<path d="M206.4 0h4.25" stroke="#72007e"/>
<path d="M210.2 0h2.35" stroke="#6f007b"/>
<path d="M212.1 0h2.35" stroke="#6c0078"/>
<path d="M214.0 0h2.35" stroke="#6c0072"/>
<path d="M215.9 0h2.35" stroke="#69006f"/>
<path d="M217.8 0h2.35" stroke="#69006c"/>
<path d="M219.7 0h2.35" stroke="#66006c"/>
<path d="M221.6 0h4.25" stroke="#660069"/>
</g>
<g transform="translate(0 373.93)" stroke-width="3.46">
<path d="M160.8 0h2.35" stroke="#660069"/>
<path d="M162.7 0h2.35" stroke="#66006c"/>
<path d="M164.6 0h2.35" stroke="#69006c"/>
<path d="M166.5 0h2.35" stroke="#69006f"/>
<path d="M168.4 0h2.35" stroke="#6c0075"/>
<path d="M170.3 0h2.35" stroke="#6f007b"/>
<path d="M172.2 0h2.35" stroke="#720081"/>
<path d="M174.1 0h2.35" stroke="#750087"/>
<path d="M176.0 0h2.35" stroke="#78008d"/>
<path d="M177.9 0h2.35" stroke="#780090"/>
<path d="M179.8 0h6.15" stroke="#78008d"/>
<path d="M185.5 0h2.35" stroke="#7b00a2"/>
<path d="M187.4 0h2.35" stroke="#5400e7"/>
<path d="M189.3 0h2.35" stroke="#0066ff"/>
<path d="M191.2 0h2.35" stroke="#00ffae"/>
<path d="M193.1 0h2.35" stroke="#00ff30"/>
<path d="M195.0 0h2.35" stroke="#00ff51"/>
<path d="M196.9 0h2.35" stroke="#00e4ff"/>
<path d="M198.8 0h2.35" stroke="#0006ff"/>
<path d="M200.7 0h2.35" stroke="#7500bd"/>
<path d="M202.6 0h2.35" stroke="#75008a"/>
<path d="M204.5 0h4.25" stroke="#72007e"/>
<path d="M208.3 0h4.25" stroke="#720081"/>
<path d="M212.1 0h2.35" stroke="#72007e"/>
<path d="M214.0 0h2.35" stroke="#6f007b"/>
<path d="M215.9 0h2.35" stroke="#6c0075"/>
<path d="M217.8 0h2.35" stroke="#69006f"/>
<path d="M219.7 0h4.25" stroke="#69006c"/>
<path d="M223.5 0h2.35" stroke="#66006c"/>
<path d="M225.4 0h6.15" stroke="#660069"/>
</g>
<g transform="translate(0 370.88)" stroke-width="3.46">
<path d="M162.7 0h2.35" stroke="#660069"/>
<path d="M164.6 0h2.35" stroke="#66006c"/>
<path d="M166.5 0h2.35" stroke="#69006c"/>
<path d="M168.4 0h2.35" stroke="#69006f"/>
<path d="M170.3 0h2.35" stroke="#6c0075"/>
<path d="M172.2 0h2.35" stroke="#6f007b"/>
<path d="M174.1 0h2.35" stroke="#720081"/>
<path d="M176.0 0h2.35" stroke="#750087"/>
<path d="M177.9 0h6.15" stroke="#78008d"/>
<path d="M183.6 0h2.35" stroke="#78008a"/>
<path d="M185.5 0h2.35" stroke="#78008d"/>
<path d="M187.4 0h2.35" stroke="#7b00a2"/>
<path d="M189.3 0h2.35" stroke="#5700e7"/>
<path d="M191.2 0h2.35" stroke="#0060ff"/>
<path d="M193.1 0h2.35" stroke="#00ffbd"/>
<path d="M195.0 0h2.35" stroke="#00ff45"/>
<path d="M196.9 0h2.35" stroke="#00ff69"/>
<path d="M198.8 0h2.35" stroke="#00ccff"/>
<path d="M200.7 0h2.35" stroke="#0900fc"/>
<path d="M202.6 0h2.35" stroke="#7500b7"/>
<path d="M204.5 0h2.35" stroke="#750087"/>
<path d="M206.4 0h4.25" stroke="#72007e"/>
<path d="M210.2 0h4.25" stroke="#720081"/>
<path d="M214.0 0h2.35" stroke="#72007e"/>
<path d="M215.9 0h2.35" stroke="#6f0078"/>
<path d="M217.8 0h2.35" stroke="#6c0075"/>
<path d="M219.7 0h2.35" stroke="#69006f"/>
<path d="M221.6 0h4.25" stroke="#69006c"/>
<path d="M225.4 0h2.35" stroke="#66006c"/>
<path d="M227.3 0h6.15" stroke="#660069"/>
</g>
<g transform="translate(0 367.82)" stroke-width="3.46">
<path d="M166.5 0h2.35" stroke="#660069"/>
<path d="M168.4 0h2.35" stroke="#69006c"/>
<path d="M170.3 0h2.35" stroke="#69006f"/>
<path d="M172.2 0h2.35" stroke="#6c0072"/>
<path d="M174.1 0h2.35" stroke="#6f0078"/>
<path d="M176.0 0h2.35" stroke="#72007e"/>
<path d="M177.9 0h2.35" stroke="#750084"/>
<path d="M179.8 0h2.35" stroke="#750087"/>
<path d="M181.7 0h2.35" stroke="#78008a"/>
<path d="M183.6 0h2.35" stroke="#75008a"/>
<path d="M185.5 0h4.25" stroke="#750087"/>
<path d="M189.3 0h2.35" stroke="#7b009c"/>
<path d="M191.2 0h2.35" stroke="#6600e4"/>
<path d="M193.1 0h2.35" stroke="#0042ff"/>
<path d="M195.0 0h2.35" stroke="#00fffc"/>
<path d="M196.9 0h2.35" stroke="#00ff8d"/>
<path d="M198.8 0h2.35" stroke="#00ffb7"/>
<path d="M200.7 0h2.35" stroke="#0093ff"/>
<path d="M202.6 0h2.35" stroke="#2a00f3"/>
<path d="M204.5 0h2.35" stroke="#7800ab"/>
<path d="M206.4 0h2.35" stroke="#750084"/>
<path d="M208.3 0h4.25" stroke="#6f007b"/>
<path d="M212.1 0h4.25" stroke="#72007e"/>
<path d="M215.9 0h2.35" stroke="#6f007b"/>
<path d="M217.8 0h2.35" stroke="#6c0078"/>
<path d="M219.7 0h2.35" stroke="#6c0072"/>
<path d="M221.6 0h2.35" stroke="#69006f"/>
<path d="M223.5 0h2.35" stroke="#69006c"/>
<path d="M225.4 0h2.35" stroke="#66006c"/>
<path d="M227.3 0h6.15" stroke="#660069"/>
</g>
<g transform="translate(0 364.77)" stroke-width="3.46">
<path d="M164.6 0h4.25" stroke="#660069"/>
<path d="M168.4 0h2.35" stroke="#69006c"/>
<path d="M170.3 0h2.35" stroke="#69006f"/>
<path d="M172.2 0h2.35" stroke="#6c0072"/>
<path d="M174.1 0h2.35" stroke="#6c0075"/>
<path d="M176.0 0h2.35" stroke="#6f007e"/>
<path d="M177.9 0h2.35" stroke="#750084"/>
<path d="M179.8 0h2.35" stroke="#78008a"/>
<path d="M181.7 0h2.35" stroke="#7b0090"/>
<path d="M183.6 0h2.35" stroke="#7b0093"/>
<path d="M185.5 0h2.35" stroke="#7b0090"/>
<path d="M187.4 0h2.35" stroke="#780090"/>
<path d="M189.3 0h2.35" stroke="#7b0090"/>
<path d="M191.2 0h2.35" stroke="#7800ae"/>
<path d="M193.1 0h2.35" stroke="#3300f0"/>
<path d="M195.0 0h2.35" stroke="#009cff"/>
<path d="M196.9 0h2.35" stroke="#00ff63"/>
<path d="M198.8 0h2.35" stroke="#0fff00"/>
<path d="M200.7 0h2.35" stroke="#00ff21"/>
<path d="M202.6 0h2.35" stroke="#00fcff"/>
<path d="M204.5 0h2.35" stroke="#000cff"/>
<path d="M206.4 0h2.35" stroke="#7500bd"/>
<path d="M208.3 0h2.35" stroke="#78008a"/>
<path d="M210.2 0h4.25" stroke="#720081"/>
<path d="M214.0 0h4.25" stroke="#750084"/>
<path d="M217.8 0h2.35" stroke="#720081"/>
<path d="M219.7 0h2.35" stroke="#6f007b"/>
<path d="M221.6 0h2.35" stroke="#6c0075"/>
<path d="M223.5 0h2.35" stroke="#6c0072"/>
<path d="M225.4 0h2.35" stroke="#69006f"/>
<path d="M227.3 0h4.25" stroke="#69006c"/>
<path d="M231.1 0h2.35" stroke="#66006c"/>
<path d="M233.0 0h8.05" stroke="#660069"/>
</g>
<g transform="translate(0 361.71)" stroke-width="3.46">
<path d="M166.5 0h4.25" stroke="#660069"/>
<path d="M170.3 0h2.35" stroke="#69006c"/>
<path d="M172.2 0h2.35" stroke="#69006f"/>
<path d="M174.1 0h2.35" stroke="#6c0072"/>
<path d="M176.0 0h2.35" stroke="#6c0075"/>
<path d="M177.9 0h2.35" stroke="#6f007e"/>
<path d="M179.8 0h2.35" stroke="#750084"/>
<path d="M181.7 0h2.35" stroke="#78008a"/>
<path d="M183.6 0h2.35" stroke="#7b0090"/>
<path d="M185.5 0h2.35" stroke="#7b0093"/>
<path d="M187.4 0h2.35" stroke="#7b0090"/>
<path d="M189.3 0h2.35" stroke="#78008d"/>
<path d="M191.2 0h2.35" stroke="#7b0090"/>
<path d="M193.1 0h2.35" stroke="#7800b1"/>
<path d="M195.0 0h2.35" stroke="#3000f3"/>
<path d="M196.9 0h2.35" stroke="#009fff"/>
<path d="M198.8 0h2.35" stroke="#00ff66"/>
<path d="M200.7 0h2.35" stroke="#09ff00"/>
<path d="M202.6 0h2.35" stroke="#00ff2d"/>
<path d="M204.5 0h2.35" stroke="#00f0ff"/>
<path d="M206.4 0h2.35" stroke="#0003ff"/>
<path d="M208.3 0h2.35" stroke="#7500ba"/>
<path d="M210.2 0h2.35" stroke="#78008a"/>
<path d="M212.1 0h4.25" stroke="#720081"/>
<path d="M215.9 0h4.25" stroke="#750084"/>
<path d="M219.7 0h2.35" stroke="#720081"/>
<path d="M221.6 0h2.35" stroke="#6f007b"/>
<path d="M223.5 0h2.35" stroke="#6c0075"/>
<path d="M225.4 0h2.35" stroke="#6c0072"/>
<path d="M227.3 0h2.35" stroke="#69006f"/>
<path d="M229.2 0h4.25" stroke="#69006c"/>
<path d="M233.0 0h2.35" stroke="#66006c"/>
<path d="M234.9 0h8.05" stroke="#660069"/>
</g>
<g transform="translate(0 358.66)" stroke-width="3.46">
<path d="M170.3 0h2.35" stroke="#660069"/>
<path d="M172.2 0h4.25" stroke="#69006c"/>
<path d="M176.0 0h2.35" stroke="#690072"/>
<path d="M177.9 0h2.35" stroke="#6c0075"/>
<path d="M179.8 0h2.35" stroke="#6f007b"/>
<path d="M181.7 0h2.35" stroke="#720084"/>
<path d="M183.6 0h2.35" stroke="#78008a"/>
<path d="M185.5 0h2.35" stroke="#78008d"/>
<path d="M187.4 0h2.35" stroke="#7b0090"/>
<path d="M189.3 0h4.25" stroke="#78008d"/>
<path d="M193.1 0h2.35" stroke="#7b0090"/>
<path d="M195.0 0h2.35" stroke="#7800ae"/>
<path d="M196.9 0h2.35" stroke="#3900f0"/>
<path d="M198.8 0h2.35" stroke="#008aff"/>
<path d="M200.7 0h2.35" stroke="#00ff87"/>
<path d="M202.6 0h2.35" stroke="#00ff21"/>
<path d="M204.5 0h2.35" stroke="#00ff5a"/>
<path d="M206.4 0h2.35" stroke="#00c9ff"/>
<path d="M208.3 0h2.35" stroke="#1200f9"/>
<path d="M210.2 0h2.35" stroke="#7800b4"/>
<path d="M212.1 0h2.35" stroke="#750087"/>
<path d="M214.0 0h2.35" stroke="#72007e"/>
<path d="M215.9 0h6.15" stroke="#720081"/>
<path d="M221.6 0h2.35" stroke="#72007e"/>
<path d="M223.5 0h2.35" stroke="#6f007b"/>
<path d="M225.4 0h2.35" stroke="#6c0075"/>
<path d="M227.3 0h2.35" stroke="#690072"/>
<path d="M229.2 0h2.35" stroke="#69006f"/>
<path d="M231.1 0h4.25" stroke="#69006c"/>
<path d="M234.9 0h8.05" stroke="#660069"/>
</g>
<g transform="translate(0 355.60)" stroke-width="3.46">
<path d="M172.2 0h2.35" stroke="#660069"/>
<path d="M174.1 0h2.35" stroke="#69006c"/>
<path d="M176.0 0h2.35" stroke="#69006f"/>
<path d="M177.9 0h2.35" stroke="#6c0072"/>
<path d="M179.8 0h2.35" stroke="#6c0075"/>
<path d="M181.7 0h2.35" stroke="#6f007b"/>
<path d="M183.6 0h2.35" stroke="#750084"/>
<path d="M185.5 0h2.35" stroke="#78008a"/>
<path d="M187.4 0h2.35" stroke="#780090"/>
<path d="M189.3 0h2.35" stroke="#7b0090"/>
<path d="M191.2 0h2.35" stroke="#780090"/>
<path d="M193.1 0h2.35" stroke="#78008d"/>
<path d="M195.0 0h2.35" stroke="#7b0090"/>
<path d="M196.9 0h2.35" stroke="#7800b1"/>
<path d="M198.8 0h2.35" stroke="#3000f3"/>
<path d="M200.7 0h2.35" stroke="#0099ff"/>
<path d="M202.6 0h2.35" stroke="#00ff78"/>
<path d="M204.5 0h2.35" stroke="#00ff15"/>
<path d="M206.4 0h2.35" stroke="#00ff54"/>
<path d="M208.3 0h2.35" stroke="#00c9ff"/>
<path d="M210.2 0h2.35" stroke="#1200f9"/>
<path d="M212.1 0h2.35" stroke="#7800b1"/>
<path d="M214.0 0h2.35" stroke="#750087"/>
<path d="M215.9 0h2.35" stroke="#72007e"/>
<path d="M217.8 0h6.15" stroke="#720081"/>
<path d="M223.5 0h2.35" stroke="#72007e"/>
<path d="M225.4 0h2.35" stroke="#6f007b"/>
<path d="M227.3 0h2.35" stroke="#6c0075"/>
<path d="M229.2 0h2.35" stroke="#690072"/>
<path d="M231.1 0h2.35" stroke="#69006f"/>
<path d="M233.0 0h4.25" stroke="#69006c"/>
<path d="M236.8 0h2.35" stroke="#66006c"/>
<path d="M238.7 0h8.05" stroke="#660069"/>
</g>
<g transform="translate(0 352.55)" stroke-width="3.46">
<path d="M172.2 0h4.25" stroke="#660069"/>
<path d="M176.0 0h2.35" stroke="#69006c"/>
<path d="M177.9 0h2.35" stroke="#69006f"/>
<path d="M179.8 0h2.35" stroke="#6c0072"/>
<path d="M181.7 0h2.35" stroke="#6f0078"/>
<path d="M183.6 0h2.35" stroke="#72007e"/>
<path d="M185.5 0h2.35" stroke="#750084"/>
<path d="M187.4 0h2.35" stroke="#78008d"/>
<path d="M189.3 0h2.35" stroke="#7b0090"/>
<path d="M191.2 0h2.35" stroke="#7b0093"/>
<path d="M193.1 0h2.35" stroke="#7b0090"/>
<path d="M195.0 0h2.35" stroke="#780090"/>
<path d="M196.9 0h2.35" stroke="#7b0093"/>
<path d="M198.8 0h2.35" stroke="#7800b7"/>
<path d="M200.7 0h2.35" stroke="#1e00f6"/>
<path d="M202.6 0h2.35" stroke="#00b7ff"/>
<path d="M204.5 0h2.35" stroke="#00ff4e"/>
<path d="M206.4 0h2.35" stroke="#0fff00"/>
<path d="M208.3 0h2.35" stroke="#00ff33"/>
<path d="M210.2 0h2.35" stroke="#00deff"/>
<path d="M212.1 0h2.35" stroke="#0c00fc"/>
<path d="M214.0 0h2.35" stroke="#7800b4"/>
<path d="M215.9 0h2.35" stroke="#750087"/>
<path d="M217.8 0h4.25" stroke="#720081"/>
<path d="M221.6 0h4.25" stroke="#750084"/>
<path d="M225.4 0h2.35" stroke="#720081"/>
<path d="M227.3 0h2.35" stroke="#6f007b"/>
<path d="M229.2 0h2.35" stroke="#6c0075"/>
<path d="M231.1 0h2.35" stroke="#6c0072"/>
<path d="M233.0 0h2.35" stroke="#69006f"/>
<path d="M234.9 0h4.25" stroke="#69006c"/>
<path d="M238.7 0h4.25" stroke="#66006c"/>
<path d="M242.5 0h9.95" stroke="#660069"/>
</g>
<g transform="translate(0 349.49)" stroke-width="3.46">
<path d="M176.0 0h2.35" stroke="#660069"/>
<path d="M177.9 0h2.35" stroke="#69006c"/>
<path d="M179.8 0h2.35" stroke="#69006f"/>
<path d="M181.7 0h2.35" stroke="#6c0072"/>
<path d="M183.6 0h2.35" stroke="#6c0075"/>
<path d="M185.5 0h2.35" stroke="#6f007e"/>
<path d="M187.4 0h2.35" stroke="#750084"/>
<path d="M189.3 0h2.35" stroke="#78008a"/>
<path d="M191.2 0h4.25" stroke="#7b0090"/>
<path d="M195.0 0h2.35" stroke="#780090"/>
<path d="M196.9 0h2.35" stroke="#78008d"/>
<path d="M198.8 0h2.35" stroke="#7b0090"/>
<path d="M200.7 0h2.35" stroke="#7800b4"/>
<path d="M202.6 0h2.35" stroke="#2700f6"/>
<path d="M204.5 0h2.35" stroke="#00a8ff"/>
<path d="M206.4 0h2.35" stroke="#00ff6f"/>
<path d="M208.3 0h2.35" stroke="#00ff15"/>
<path d="M210.2 0h2.35" stroke="#00ff5d"/>
<path d="M212.1 0h2.35" stroke="#00baff"/>
<path d="M214.0 0h2.35" stroke="#1e00f6"/>
<path d="M215.9 0h2.35" stroke="#7800ae"/>
<path d="M217.8 0h2.35" stroke="#750087"/>
<path d="M219.7 0h2.35" stroke="#72007e"/>
<path d="M221.6 0h2.35" stroke="#720081"/>
<path d="M223.5 0h4.25" stroke="#720084"/>
<path d="M227.3 0h2.35" stroke="#72007e"/>
<path d="M229.2 0h2.35" stroke="#6f007b"/>
<path d="M231.1 0h2.35" stroke="#6c0075"/>
<path d="M233.0 0h2.35" stroke="#690072"/>
<path d="M234.9 0h2.35" stroke="#69006f"/>
<path d="M236.8 0h4.25" stroke="#69006c"/>
<path d="M240.6 0h2.35" stroke="#66006c"/>
<path d="M242.5 0h9.95" stroke="#660069"/>
</g>
<g transform="translate(0 346.44)" stroke-width="3.46">
<path d="M177.9 0h2.35" stroke="#660069"/>
<path d="M179.8 0h2.35" stroke="#69006c"/>
<path d="M181.7 0h2.35" stroke="#69006f"/>
<path d="M183.6 0h2.35" stroke="#6c0072"/>
<path d="M185.5 0h2.35" stroke="#6c0075"/>
<path d="M187.4 0h2.35" stroke="#6f007b"/>
<path d="M189.3 0h2.35" stroke="#720084"/>
<path d="M191.2 0h2.35" stroke="#78008a"/>
<path d="M193.1 0h2.35" stroke="#78008d"/>
<path d="M195.0 0h2.35" stroke="#780090"/>
<path d="M196.9 0h2.35" stroke="#78008d"/>
<path d="M198.8 0h2.35" stroke="#78008a"/>
<path d="M200.7 0h2.35" stroke="#7b0090"/>
<path d="M202.6 0h2.35" stroke="#7800b1"/>
<path d="M204.5 0h2.35" stroke="#2a00f3"/>
<path d="M206.4 0h2.35" stroke="#009cff"/>
<path d="M208.3 0h2.35" stroke="#00ff81"/>
<path d="M210.2 0h2.35" stroke="#00ff30"/>
<path d="M212.1 0h2.35" stroke="#00ff7b"/>
<path d="M214.0 0h2.35" stroke="#00a2ff"/>
<path d="M215.9 0h2.35" stroke="#2d00f3"/>
<path d="M217.8 0h2.35" stroke="#7800a8"/>
<path d="M219.7 0h2.35" stroke="#750084"/>
<path d="M221.6 0h2.35" stroke="#72007e"/>
<path d="M223.5 0h6.15" stroke="#720081"/>
<path d="M229.2 0h2.35" stroke="#72007e"/>
<path d="M231.1 0h2.35" stroke="#6f0078"/>
<path d="M233.0 0h2.35" stroke="#6c0075"/>
<path d="M234.9 0h4.25" stroke="#69006f"/>
<path d="M238.7 0h4.25" stroke="#69006c"/>
<path d="M242.5 0h2.35" stroke="#66006c"/>
<path d="M244.4 0h9.95" stroke="#660069"/>
</g>
<g transform="translate(0 343.38)" stroke-width="3.46">
<path d="M177.9 0h2.35" stroke="#660069"/>
<path d="M179.8 0h2.35" stroke="#66006c"/>
<path d="M181.7 0h2.35" stroke="#69006c"/>
<path d="M183.6 0h2.35" stroke="#69006f"/>
<path d="M185.5 0h2.35" stroke="#6c0072"/>
<path d="M187.4 0h2.35" stroke="#6f0078"/>
<path d="M189.3 0h2.35" stroke="#720081"/>
<path d="M191.2 0h2.35" stroke="#750087"/>
<path d="M193.1 0h2.35" stroke="#780090"/>
<path d="M195.0 0h2.35" stroke="#7b0093"/>
<path d="M196.9 0h2.35" stroke="#7e0096"/>
<path d="M198.8 0h2.35" stroke="#7b0093"/>
<path d="M200.7 0h2.35" stroke="#7b0090"/>
<path d="M202.6 0h2.35" stroke="#7e0096"/>
<path d="M204.5 0h2.35" stroke="#7500c3"/>
<path d="M206.4 0h2.35" stroke="#0000ff"/>
<path d="M208.3 0h2.35" stroke="#00eaff"/>
<path d="M210.2 0h2.35" stroke="#00ff1b"/>
<path d="M212.1 0h2.35" stroke="#33ff00"/>
<path d="M214.0 0h2.35" stroke="#00ff1e"/>
<path d="M215.9 0h2.35" stroke="#00e1ff"/>
<path d="M217.8 0h2.35" stroke="#0f00fc"/>
<path d="M219.7 0h2.35" stroke="#7800b4"/>
<path d="M221.6 0h2.35" stroke="#75008a"/>
<path d="M223.5 0h2.35" stroke="#720081"/>
<path d="M225.4 0h2.35" stroke="#750084"/>
<path d="M227.3 0h4.25" stroke="#750087"/>
<path d="M231.1 0h2.35" stroke="#720084"/>
<path d="M233.0 0h2.35" stroke="#6f007e"/>
<path d="M234.9 0h2.35" stroke="#6c0078"/>
<path d="M236.8 0h2.35" stroke="#6c0072"/>
<path d="M238.7 0h2.35" stroke="#69006f"/>
<path d="M240.6 0h8.05" stroke="#69006c"/>
<path d="M248.2 0h4.25" stroke="#66006c"/>
<path d="M252.0 0h4.25" stroke="#660069"/>
</g>
<g transform="translate(0 340.33)" stroke-width="3.46">
<path d="M181.7 0h2.35" stroke="#660069"/>
<path d="M183.6 0h2.35" stroke="#69006c"/>
<path d="M185.5 0h2.35" stroke="#69006f"/>
<path d="M187.4 0h2.35" stroke="#6c0072"/>
<path d="M189.3 0h2.35" stroke="#6c0078"/>
<path d="M191.2 0h2.35" stroke="#72007e"/>
<path d="M193.1 0h2.35" stroke="#750084"/>
<path d="M195.0 0h2.35" stroke="#78008a"/>
<path d="M196.9 0h2.35" stroke="#780090"/>
<path d="M198.8 0h2.35" stroke="#7b0090"/>
<path d="M200.7 0h4.25" stroke="#78008d"/>
<path d="M204.5 0h2.35" stroke="#7b0090"/>
<path d="M206.4 0h2.35" stroke="#7500b7"/>
<path d="M208.3 0h2.35" stroke="#1800f9"/>
<path d="M210.2 0h2.35" stroke="#00b4ff"/>
<path d="M212.1 0h2.35" stroke="#00ff69"/>
<path d="M214.0 0h2.35" stroke="#00ff21"/>
<path d="M215.9 0h2.35" stroke="#00ff75"/>
<path d="M217.8 0h2.35" stroke="#009fff"/>
<path d="M219.7 0h2.35" stroke="#3000f3"/>
<path d="M221.6 0h2.35" stroke="#7b00a8"/>
<path d="M223.5 0h2.35" stroke="#750084"/>
<path d="M225.4 0h2.35" stroke="#72007e"/>
<path d="M227.3 0h2.35" stroke="#720081"/>
<path d="M229.2 0h4.25" stroke="#750084"/>
<path d="M233.0 0h2.35" stroke="#72007e"/>
<path d="M234.9 0h2.35" stroke="#6f007b"/>
<path d="M236.8 0h2.35" stroke="#6c0075"/>
<path d="M238.7 0h2.35" stroke="#690072"/>
<path d="M240.6 0h2.35" stroke="#69006f"/>
<path d="M242.5 0h6.15" stroke="#69006c"/>
<path d="M248.2 0h2.35" stroke="#66006c"/>
<path d="M250.1 0h6.15" stroke="#660069"/>
</g>
<g transform="translate(0 337.27)" stroke-width="3.46">
<path d="M181.7 0h2.35" stroke="#660069"/>
<path d="M183.6 0h4.25" stroke="#69006c"/>
<path d="M187.4 0h2.35" stroke="#69006f"/>
<path d="M189.3 0h2.35" stroke="#6c0075"/>
<path d="M191.2 0h2.35" stroke="#6f007b"/>
<path d="M193.1 0h2.35" stroke="#720081"/>
<path d="M195.0 0h2.35" stroke="#78008a"/>
<path d="M196.9 0h2.35" stroke="#7b0090"/>
<path d="M198.8 0h4.25" stroke="#7e0096"/>
<path d="M202.6 0h4.25" stroke="#7b0093"/>
<path d="M206.4 0h2.35" stroke="#7b0099"/>
<path d="M208.3 0h2.35" stroke="#7200c9"/>
<path d="M210.2 0h2.35" stroke="#0015ff"/>
<path d="M212.1 0h2.35" stroke="#00fff0"/>
<path d="M214.0 0h2.35" stroke="#06ff00"/>
<path d="M215.9 0h2.35" stroke="#48ff00"/>
<path d="M217.8 0h2.35" stroke="#00ff0f"/>
<path d="M219.7 0h2.35" stroke="#00e1ff"/>
<path d="M221.6 0h2.35" stroke="#0f00fc"/>
<path d="M223.5 0h2.35" stroke="#7800b4"/>
<path d="M225.4 0h2.35" stroke="#78008a"/>
<path d="M227.3 0h2.35" stroke="#750084"/>
<path d="M229.2 0h2.35" stroke="#750087"/>
<path d="M231.1 0h2.35" stroke="#75008a"/>
<path d="M233.0 0h2.35" stroke="#750087"/>
<path d="M234.9 0h2.35" stroke="#750084"/>
<path d="M236.8 0h2.35" stroke="#72007e"/>
<path d="M238.7 0h2.35" stroke="#6f0078"/>
<path d="M240.6 0h2.35" stroke="#6c0072"/>
<path d="M242.5 0h4.25" stroke="#69006f"/>
<path d="M246.3 0h8.05" stroke="#69006c"/>
<path d="M253.9 0h2.35" stroke="#66006c"/>
<path d="M255.8 0h4.25" stroke="#660069"/>
</g>
<g transform="translate(0 334.22)" stroke-width="3.46">
<path d="M183.6 0h4.25" stroke="#660069"/>
<path d="M187.4 0h2.35" stroke="#69006c"/>
<path d="M189.3 0h2.35" stroke="#69006f"/>
<path d="M191.2 0h2.35" stroke="#6c0072"/>
<path d="M193.1 0h2.35" stroke="#6f0078"/>
<path d="M195.0 0h2.35" stroke="#72007e"/>
<path d="M196.9 0h2.35" stroke="#750087"/>
<path d="M198.8 0h2.35" stroke="#78008d"/>
<path d="M200.7 0h4.25" stroke="#7b0090"/>
<path d="M204.5 0h2.35" stroke="#780090"/>
<path d="M206.4 0h2.35" stroke="#78008d"/>
<path d="M208.3 0h2.35" stroke="#7b0093"/>
<path d="M210.2 0h2.35" stroke="#7500c0"/>
<path d="M212.1 0h2.35" stroke="#0600fc"/>
<path d="M214.0 0h2.35" stroke="#00d2ff"/>
<path d="M215.9 0h2.35" stroke="#00ff4e"/>
<path d="M217.8 0h2.35" stroke="#00ff0c"/>
<path d="M219.7 0h2.35" stroke="#00ff6c"/>
<path d="M221.6 0h2.35" stroke="#00a2ff"/>
<path d="M223.5 0h2.35" stroke="#3000f3"/>
<path d="M225.4 0h2.35" stroke="#7800a8"/>
<path d="M227.3 0h2.35" stroke="#750084"/>
<path d="M229.2 0h4.25" stroke="#720081"/>
<path d="M233.0 0h4.25" stroke="#750084"/>
<path d="M236.8 0h2.35" stroke="#720081"/>
<path d="M238.7 0h2.35" stroke="#6f007b"/>
<path d="M240.6 0h2.35" stroke="#6c0075"/>
<path d="M242.5 0h2.35" stroke="#6c0072"/>
<path d="M244.4 0h2.35" stroke="#69006f"/>
<path d="M246.3 0h6.15" stroke="#69006c"/>
<path d="M252.0 0h2.35" stroke="#66006c"/>
<path d="M253.9 0h6.15" stroke="#660069"/>
</g>
<g transform="translate(0 331.16)" stroke-width="3.46">
<path d="M185.5 0h2.35" stroke="#660069"/>
<path d="M187.4 0h4.25" stroke="#69006c"/>
<path d="M191.2 0h2.35" stroke="#69006f"/>
<path d="M193.1 0h2.35" stroke="#6c0075"/>
<path d="M195.0 0h2.35" stroke="#6f007b"/>
<path d="M196.9 0h2.35" stroke="#720081"/>
<path d="M198.8 0h2.35" stroke="#78008a"/>
<path d="M200.7 0h2.35" stroke="#7b0090"/>
<path d="M202.6 0h4.25" stroke="#7e0096"/>
<path d="M206.4 0h4.25" stroke="#7b0093"/>
<path d="M210.2 0h2.35" stroke="#7b009c"/>
<path d="M212.1 0h2.35" stroke="#7200cf"/>
<path d="M214.0 0h2.35" stroke="#001eff"/>
<path d="M215.9 0h2.35" stroke="#00ffe4"/>
<path d="M217.8 0h2.35" stroke="#09ff00"/>
<path d="M219.7 0h2.35" stroke="#45ff00"/>
<path d="M221.6 0h2.35" stroke="#00ff1b"/>
<path d="M223.5 0h2.35" stroke="#00d8ff"/>
<path d="M225.4 0h2.35" stroke="#1500f9"/>
<path d="M227.3 0h2.35" stroke="#7800b1"/>
<path d="M229.2 0h2.35" stroke="#78008a"/>
<path d="M231.1 0h2.35" stroke="#750084"/>
<path d="M233.0 0h2.35" stroke="#750087"/>
<path d="M234.9 0h2.35" stroke="#78008a"/>
<path d="M236.8 0h2.35" stroke="#750087"/>
<path d="M238.7 0h2.35" stroke="#750084"/>
<path d="M240.6 0h2.35" stroke="#72007e"/>
<path d="M242.5 0h2.35" stroke="#6f0078"/>
<path d="M244.4 0h2.35" stroke="#6c0072"/>
<path d="M246.3 0h6.15" stroke="#69006f"/>
<path d="M252.0 0h4.25" stroke="#69006c"/>
<path d="M255.8 0h2.35" stroke="#66006c"/>
<path d="M257.7 0h6.15" stroke="#660069"/>
</g>
<g transform="translate(0 328.11)" stroke-width="3.46">
<path d="M185.5 0h4.25" stroke="#660069"/>
<path d="M189.3 0h4.25" stroke="#69006c"/>
<path d="M193.1 0h2.35" stroke="#69006f"/>
<path d="M195.0 0h2.35" stroke="#6c0075"/>
<path d="M196.9 0h2.35" stroke="#6f007b"/>
<path d="M198.8 0h2.35" stroke="#720081"/>
<path d="M200.7 0h2.35" stroke="#78008a"/>
<path d="M202.6 0h2.35" stroke="#7b0093"/>
<path d="M204.5 0h4.25" stroke="#7e0096"/>
<path d="M208.3 0h2.35" stroke="#7b0096"/>
<path d="M210.2 0h2.35" stroke="#7b0093"/>
<path d="M212.1 0h2.35" stroke="#7b009c"/>
<path d="M214.0 0h2.35" stroke="#7200d2"/>
<path d="M215.9 0h2.35" stroke="#0027ff"/>
<path d="M217.8 0h2.35" stroke="#00ffd2"/>
<path d="M219.7 0h2.35" stroke="#15ff00"/>
<path d="M221.6 0h2.35" stroke="#51ff00"/>
<path d="M223.5 0h2.35" stroke="#00ff0f"/>
<path d="M225.4 0h2.35" stroke="#00deff"/>
<path d="M227.3 0h2.35" stroke="#1500f9"/>
<path d="M229.2 0h2.35" stroke="#7800b1"/>
<path d="M231.1 0h2.35" stroke="#78008a"/>
<path d="M233.0 0h2.35" stroke="#750084"/>
<path d="M234.9 0h2.35" stroke="#750087"/>
<path d="M236.8 0h4.25" stroke="#78008a"/>
<path d="M240.6 0h2.35" stroke="#750084"/>
<path d="M242.5 0h2.35" stroke="#72007e"/>
<path d="M244.4 0h2.35" stroke="#6f0078"/>
<path d="M246.3 0h2.35" stroke="#6c0075"/>
<path d="M248.2 0h2.35" stroke="#690072"/>
<path d="M250.1 0h4.25" stroke="#69006f"/>
<path d="M253.9 0h4.25" stroke="#69006c"/>
<path d="M257.7 0h2.35" stroke="#66006c"/>
<path d="M259.6 0h4.25" stroke="#660069"/>
</g>
<g transform="translate(0 325.05)" stroke-width="3.46">
<path d="M185.5 0h4.25" stroke="#660069"/>
<path d="M189.3 0h2.35" stroke="#66006c"/>
<path d="M191.2 0h2.35" stroke="#69006c"/>
<path d="M193.1 0h2.35" stroke="#69006f"/>
<path d="M195.0 0h2.35" stroke="#6c0072"/>
<path d="M196.9 0h2.35" stroke="#6f0078"/>
<path d="M198.8 0h2.35" stroke="#72007e"/>
<path d="M200.7 0h2.35" stroke="#750087"/>
<path d="M202.6 0h2.35" stroke="#7b0090"/>
<path d="M204.5 0h2.35" stroke="#7b0099"/>
<path d="M206.4 0h4.25" stroke="#7b00a2"/>
<path d="M210.2 0h2.35" stroke="#7b009f"/>
<path d="M212.1 0h2.35" stroke="#7b009c"/>
<path d="M214.0 0h2.35" stroke="#7800a8"/>
<path d="M215.9 0h2.35" stroke="#6300e4"/>
<path d="M217.8 0h2.35" stroke="#005dff"/>
<path d="M219.7 0h2.35" stroke="#00ff66"/>
<path d="M221.6 0h2.35" stroke="#87ff00"/>
<path d="M223.5 0h2.35" stroke="#b7ff00"/>
<path d="M225.4 0h2.35" stroke="#57ff00"/>
<path d="M227.3 0h2.35" stroke="#00ffcf"/>
<path d="M229.2 0h2.35" stroke="#000fff"/>
<path d="M231.1 0h2.35" stroke="#7500bd"/>
<path d="M233.0 0h2.35" stroke="#7b0090"/>
<path d="M234.9 0h2.35" stroke="#78008a"/>
<path d="M236.8 0h2.35" stroke="#78008d"/>
<path d="M238.7 0h4.25" stroke="#7b0090"/>
<path d="M242.5 0h2.35" stroke="#78008a"/>
<path d="M244.4 0h2.35" stroke="#750084"/>
<path d="M246.3 0h2.35" stroke="#6f007b"/>
<path d="M248.2 0h2.35" stroke="#6c0078"/>
<path d="M250.1 0h2.35" stroke="#6c0072"/>
<path d="M252.0 0h2.35" stroke="#690072"/>
<path d="M253.9 0h2.35" stroke="#69006f"/>
<path d="M255.8 0h6.15" stroke="#69006c"/>
<path d="M261.5 0h2.35" stroke="#66006c"/>
<path d="M263.4 0h6.15" stroke="#660069"/>
</g>
<g transform="translate(0 322.00)" stroke-width="3.46">
<path d="M191.2 0h2.35" stroke="#660069"/>
<path d="M193.1 0h4.25" stroke="#69006c"/>
<path d="M196.9 0h2.35" stroke="#69006f"/>
<path d="M198.8 0h2.35" stroke="#6c0075"/>
<path d="M200.7 0h2.35" stroke="#6f007b"/>
<path d="M202.6 0h2.35" stroke="#720081"/>
<path d="M204.5 0h2.35" stroke="#78008a"/>
<path d="M206.4 0h2.35" stroke="#7b0090"/>
<path d="M208.3 0h4.25" stroke="#7b0096"/>
<path d="M212.1 0h2.35" stroke="#7b0093"/>
<path d="M214.0 0h2.35" stroke="#7b0090"/>
<path d="M215.9 0h2.35" stroke="#7b009c"/>
<path d="M217.8 0h2.35" stroke="#7200d2"/>
<path d="M219.7 0h2.35" stroke="#0027ff"/>
<path d="M221.6 0h2.35" stroke="#00ffd8"/>
<path d="M223.5 0h2.35" stroke="#0cff00"/>
<path d="M225.4 0h2.35" stroke="#42ff00"/>
<path d="M227.3 0h2.35" stroke="#00ff2a"/>
<path d="M229.2 0h2.35" stroke="#00c3ff"/>
<path d="M231.1 0h2.35" stroke="#2700f6"/>
<path d="M233.0 0h2.35" stroke="#7800ab"/>
<path d="M234.9 0h2.35" stroke="#750087"/>
<path d="M236.8 0h2.35" stroke="#750084"/>
<path d="M238.7 0h2.35" stroke="#750087"/>
<path d="M240.6 0h4.25" stroke="#78008a"/>
<path d="M244.4 0h2.35" stroke="#750084"/>
<path d="M246.3 0h2.35" stroke="#72007e"/>
<path d="M248.2 0h2.35" stroke="#6f0078"/>
<path d="M250.1 0h2.35" stroke="#6c0075"/>
<path d="M252.0 0h4.25" stroke="#69006f"/>
<path d="M255.8 0h4.25" stroke="#69006c"/>
<path d="M259.6 0h2.35" stroke="#66006c"/>
<path d="M261.5 0h6.15" stroke="#660069"/>
</g>
<g transform="translate(0 318.94)" stroke-width="3.46">
<path d="M193.1 0h2.35" stroke="#660069"/>
<path d="M195.0 0h4.25" stroke="#69006c"/>
<path d="M198.8 0h2.35" stroke="#69006f"/>
<path d="M200.7 0h2.35" stroke="#6c0075"/>
<path d="M202.6 0h2.35" stroke="#6f007b"/>
<path d="M204.5 0h2.35" stroke="#720081"/>
<path d="M206.4 0h2.35" stroke="#78008a"/>
<path d="M208.3 0h2.35" stroke="#7b0090"/>
<path d="M210.2 0h6.15" stroke="#7b0093"/>
<path d="M215.9 0h2.35" stroke="#7b0090"/>
<path d="M217.8 0h2.35" stroke="#7b009c"/>
<path d="M219.7 0h2.35" stroke="#7200d5"/>
<path d="M221.6 0h2.35" stroke="#002aff"/>
<path d="M223.5 0h2.35" stroke="#00ffd2"/>
<path d="M225.4 0h2.35" stroke="#0fff00"/>
<path d="M227.3 0h2.35" stroke="#3fff00"/>
<path d="M229.2 0h2.35" stroke="#00ff33"/>
<path d="M231.1 0h2.35" stroke="#00baff"/>
<path d="M233.0 0h2.35" stroke="#2d00f3"/>
<path d="M234.9 0h2.35" stroke="#7800a8"/>
<path d="M236.8 0h2.35" stroke="#750087"/>
<path d="M238.7 0h2.35" stroke="#750084"/>
<path d="M240.6 0h2.35" stroke="#750087"/>
<path d="M242.5 0h4.25" stroke="#78008a"/>
<path d="M246.3 0h2.35" stroke="#750084"/>
<path d="M248.2 0h2.35" stroke="#72007e"/>
<path d="M250.1 0h2.35" stroke="#6f0078"/>
<path d="M252.0 0h2.35" stroke="#6c0075"/>
<path d="M253.9 0h2.35" stroke="#69006f"/>
<path d="M255.8 0h6.15" stroke="#69006c"/>
<path d="M261.5 0h6.15" stroke="#660069"/>
</g>
<g transform="translate(0 315.89)" stroke-width="3.46">
<path d="M193.1 0h4.25" stroke="#660069"/>
<path d="M196.9 0h2.35" stroke="#69006c"/>
<path d="M198.8 0h2.35" stroke="#69006f"/>
<path d="M200.7 0h2.35" stroke="#6c0072"/>
<path d="M202.6 0h2.35" stroke="#6c0075"/>
<path d="M204.5 0h2.35" stroke="#6f007b"/>
<path d="M206.4 0h2.35" stroke="#750084"/>
<path d="M208.3 0h2.35" stroke="#78008d"/>
<path d="M210.2 0h2.35" stroke="#7b0093"/>
<path d="M212.1 0h4.25" stroke="#7e0099"/>
<path d="M215.9 0h2.35" stroke="#7e0096"/>
<path d="M217.8 0h2.35" stroke="#7b0093"/>
<path d="M219.7 0h2.35" stroke="#7b00a2"/>
<path d="M221.6 0h2.35" stroke="#6f00e1"/>
<path d="M223.5 0h2.35" stroke="#004bff"/>
<path d="M225.4 0h2.35" stroke="#00ff90"/>
<path d="M227.3 0h2.35" stroke="#4bff00"/>
<path d="M229.2 0h2.35" stroke="#7bff00"/>
<path d="M231.1 0h2.35" stroke="#06ff00"/>
<path d="M233.0 0h2.35" stroke="#00dbff"/>
<path d="M234.9 0h2.35" stroke="#1e00f6"/>
<path d="M236.8 0h2.35" stroke="#7800ae"/>
<path d="M238.7 0h2.35" stroke="#78008a"/>
<path d="M240.6 0h2.35" stroke="#750087"/>
<path d="M242.5 0h2.35" stroke="#78008a"/>
<path d="M244.4 0h4.25" stroke="#78008d"/>
<path d="M248.2 0h2.35" stroke="#750087"/>
<path d="M250.1 0h2.35" stroke="#720081"/>
<path d="M252.0 0h2.35" stroke="#6f007b"/>
<path d="M253.9 0h2.35" stroke="#6c0075"/>
<path d="M255.8 0h4.25" stroke="#69006f"/>
<path d="M259.6 0h4.25" stroke="#69006c"/>
<path d="M263.4 0h2.35" stroke="#66006c"/>
<path d="M265.3 0h6.15" stroke="#660069"/>
</g>
<g transform="translate(0 312.83)" stroke-width="3.46">
<path d="M195.0 0h4.25" stroke="#660069"/>
<path d="M198.8 0h2.35" stroke="#69006c"/>
<path d="M200.7 0h2.35" stroke="#69006f"/>
<path d="M202.6 0h2.35" stroke="#6c0072"/>
<path d="M204.5 0h2.35" stroke="#6c0075"/>
<path d="M206.4 0h2.35" stroke="#6f007b"/>
<path d="M208.3 0h2.35" stroke="#750084"/>
<path d="M210.2 0h2.35" stroke="#78008d"/>
<path d="M212.1 0h2.35" stroke="#7b0093"/>
<path d="M214.0 0h4.25" stroke="#7e0096"/>
<path d="M217.8 0h4.25" stroke="#7b0093"/>
<path d="M221.6 0h2.35" stroke="#7b00a2"/>
<path d="M223.5 0h2.35" stroke="#6c00e1"/>
<path d="M225.4 0h2.35" stroke="#004eff"/>
<path d="M227.3 0h2.35" stroke="#00ff90"/>
<path d="M229.2 0h2.35" stroke="#45ff00"/>
<path d="M231.1 0h2.35" stroke="#6fff00"/>
<path d="M233.0 0h2.35" stroke="#00ff0c"/>
<path d="M234.9 0h2.35" stroke="#00ccff"/>
<path d="M236.8 0h2.35" stroke="#2700f6"/>
<path d="M238.7 0h2.35" stroke="#7800ab"/>
<path d="M240.6 0h2.35" stroke="#78008a"/>
<path d="M242.5 0h2.35" stroke="#750087"/>
<path d="M244.4 0h2.35" stroke="#78008a"/>
<path d="M246.3 0h4.25" stroke="#78008d"/>
<path d="M250.1 0h2.35" stroke="#750087"/>
<path d="M252.0 0h2.35" stroke="#720081"/>
<path d="M253.9 0h2.35" stroke="#6f0078"/>
<path d="M255.8 0h2.35" stroke="#6c0072"/>
<path d="M257.7 0h2.35" stroke="#69006f"/>
<path d="M259.6 0h6.15" stroke="#69006c"/>
<path d="M265.3 0h6.15" stroke="#660069"/>
</g>
<g transform="translate(0 309.78)" stroke-width="3.46">
<path d="M196.9 0h2.35" stroke="#660069"/>
<path d="M198.8 0h2.35" stroke="#66006c"/>
<path d="M200.7 0h2.35" stroke="#69006c"/>
<path d="M202.6 0h2.35" stroke="#69006f"/>
<path d="M204.5 0h2.35" stroke="#6c0072"/>
<path d="M206.4 0h2.35" stroke="#6c0078"/>
<path d="M208.3 0h2.35" stroke="#72007e"/>
<path d="M210.2 0h2.35" stroke="#750087"/>
<path d="M212.1 0h2.35" stroke="#78008d"/>
<path d="M214.0 0h2.35" stroke="#7e0096"/>
<path d="M215.9 0h2.35" stroke="#7b009c"/>
<path d="M217.8 0h2.35" stroke="#7b0099"/>
<path d="M219.7 0h4.25" stroke="#7e0096"/>
<path d="M223.5 0h2.35" stroke="#7b00a8"/>
<path d="M225.4 0h2.35" stroke="#5d00e7"/>
<path d="M227.3 0h2.35" stroke="#006cff"/>
<path d="M229.2 0h2.35" stroke="#00ff5a"/>
<path d="M231.1 0h2.35" stroke="#78ff00"/>
<path d="M233.0 0h2.35" stroke="#9fff00"/>
<path d="M234.9 0h2.35" stroke="#1bff00"/>
<path d="M236.8 0h2.35" stroke="#00e4ff"/>
<path d="M238.7 0h2.35" stroke="#1800f9"/>
<path d="M240.6 0h2.35" stroke="#7800b1"/>
<path d="M242.5 0h2.35" stroke="#78008d"/>
<path d="M244.4 0h2.35" stroke="#78008a"/>
<path d="M246.3 0h2.35" stroke="#78008d"/>
<path d="M248.2 0h2.35" stroke="#7b0093"/>
<path d="M250.1 0h2.35" stroke="#7b0090"/>
<path d="M252.0 0h2.35" stroke="#78008a"/>
<path d="M253.9 0h2.35" stroke="#720081"/>
<path d="M255.8 0h2.35" stroke="#6f0078"/>
<path d="M257.7 0h2.35" stroke="#6c0072"/>
<path d="M259.6 0h4.25" stroke="#69006f"/>
<path d="M263.4 0h4.25" stroke="#69006c"/>
<path d="M267.2 0h2.35" stroke="#66006c"/>
<path d="M269.1 0h6.15" stroke="#660069"/>
</g>
<g transform="translate(0 306.72)" stroke-width="3.46">
<path d="M196.9 0h4.25" stroke="#660069"/>
<path d="M200.7 0h4.25" stroke="#69006c"/>
<path d="M204.5 0h2.35" stroke="#69006f"/>
<path d="M206.4 0h2.35" stroke="#6c0072"/>
<path d="M208.3 0h2.35" stroke="#6f0078"/>
<path d="M210.2 0h2.35" stroke="#720081"/>
<path d="M212.1 0h2.35" stroke="#78008a"/>
<path d="M214.0 0h2.35" stroke="#7b0093"/>
<path d="M215.9 0h2.35" stroke="#7b009c"/>
<path d="M217.8 0h4.25" stroke="#7b00a2"/>
<path d="M221.6 0h4.25" stroke="#7b009c"/>
<path d="M225.4 0h2.35" stroke="#7800b1"/>
<path d="M227.3 0h2.35" stroke="#4200ed"/>
<path d="M229.2 0h2.35" stroke="#009cff"/>
<path d="M231.1 0h2.35" stroke="#00ff0c"/>
<path d="M233.0 0h2.35" stroke="#b4ff00"/>
<path d="M234.9 0h2.35" stroke="#c9ff00"/>
<path d="M236.8 0h2.35" stroke="#57ff00"/>
<path d="M238.7 0h2.35" stroke="#00ffe4"/>
<path d="M240.6 0h2.35" stroke="#0000ff"/>
<path d="M242.5 0h2.35" stroke="#7500ba"/>
<path d="M244.4 0h2.35" stroke="#7b0090"/>
<path d="M246.3 0h2.35" stroke="#78008d"/>
<path d="M248.2 0h2.35" stroke="#7b0093"/>
<path d="M250.1 0h2.35" stroke="#7e0099"/>
<path d="M252.0 0h2.35" stroke="#7b0096"/>
<path d="M253.9 0h2.35" stroke="#78008d"/>
<path d="M255.8 0h2.35" stroke="#720081"/>
<path d="M257.7 0h2.35" stroke="#6f007b"/>
<path d="M259.6 0h2.35" stroke="#6c0075"/>
<path d="M261.5 0h2.35" stroke="#690072"/>
<path d="M263.4 0h2.35" stroke="#69006f"/>
<path d="M265.3 0h6.15" stroke="#69006c"/>
<path d="M271.0 0h6.15" stroke="#660069"/>
</g>
<g transform="translate(0 303.67)" stroke-width="3.46">
<path d="M198.8 0h4.25" stroke="#660069"/>
<path d="M202.6 0h4.25" stroke="#69006c"/>
<path d="M206.4 0h2.35" stroke="#69006f"/>
<path d="M208.3 0h2.35" stroke="#6c0075"/>
<path d="M210.2 0h2.35" stroke="#6f007b"/>
<path d="M212.1 0h2.35" stroke="#720081"/>
<path d="M214.0 0h2.35" stroke="#78008a"/>
<path d="M215.9 0h2.35" stroke="#7b0093"/>
<path d="M217.8 0h2.35" stroke="#7b009f"/>
<path d="M219.7 0h4.25" stroke="#7b00a5"/>
<path d="M223.5 0h4.25" stroke="#7b009f"/>
<path d="M227.3 0h2.35" stroke="#7800b7"/>
<path d="M229.2 0h2.35" stroke="#3300f0"/>
<path d="M231.1 0h2.35" stroke="#00baff"/>
<path d="M233.0 0h2.35" stroke="#1bff00"/>
<path d="M234.9 0h2.35" stroke="#ccff00"/>
<path d="M236.8 0h2.35" stroke="#deff00"/>
<path d="M238.7 0h2.35" stroke="#7bff00"/>
<path d="M240.6 0h2.35" stroke="#00ffc9"/>
<path d="M242.5 0h2.35" stroke="#0009ff"/>
<path d="M244.4 0h2.35" stroke="#7500bd"/>
<path d="M246.3 0h2.35" stroke="#7b0093"/>
<path d="M248.2 0h2.35" stroke="#7b0090"/>
<path d="M250.1 0h2.35" stroke="#7e0096"/>
<path d="M252.0 0h2.35" stroke="#7b0099"/>
<path d="M253.9 0h2.35" stroke="#7b0093"/>
<path d="M255.8 0h2.35" stroke="#78008a"/>
<path d="M257.7 0h2.35" stroke="#720081"/>
<path d="M259.6 0h2.35" stroke="#6f007b"/>
<path d="M261.5 0h2.35" stroke="#6c0075"/>
<path d="M263.4 0h2.35" stroke="#690072"/>
<path d="M265.3 0h2.35" stroke="#69006f"/>
<path d="M267.2 0h6.15" stroke="#69006c"/>
<path d="M272.9 0h2.35" stroke="#66006c"/>
<path d="M274.8 0h6.15" stroke="#660069"/>
</g>
<g transform="translate(0 300.61)" stroke-width="3.46">
<path d="M198.8 0h4.25" stroke="#660069"/>
<path d="M202.6 0h2.35" stroke="#66006c"/>
<path d="M204.5 0h2.35" stroke="#69006c"/>
<path d="M206.4 0h2.35" stroke="#69006f"/>
<path d="M208.3 0h2.35" stroke="#6c0072"/>
<path d="M210.2 0h2.35" stroke="#6c0075"/>
<path d="M212.1 0h2.35" stroke="#6f007b"/>
<path d="M214.0 0h2.35" stroke="#750084"/>
<path d="M215.9 0h2.35" stroke="#78008d"/>
<path d="M217.8 0h2.35" stroke="#7b0099"/>
<path d="M219.7 0h2.35" stroke="#7b00a5"/>
<path d="M221.6 0h4.25" stroke="#7800ab"/>
<path d="M225.4 0h2.35" stroke="#7b00a8"/>
<path d="M227.3 0h2.35" stroke="#7b00a5"/>
<path d="M229.2 0h2.35" stroke="#7500c0"/>
<path d="M231.1 0h2.35" stroke="#1800f9"/>
<path d="M233.0 0h2.35" stroke="#00edff"/>
<path d="M234.9 0h2.35" stroke="#5dff00"/>
<path d="M236.8 0h2.35" stroke="#f6ff00"/>
<path d="M238.7 0h2.35" stroke="#fff300"/>
<path d="M240.6 0h2.35" stroke="#b1ff00"/>
<path d="M242.5 0h2.35" stroke="#00ff96"/>
<path d="M244.4 0h2.35" stroke="#001bff"/>
<path d="M246.3 0h2.35" stroke="#7500c6"/>
<path d="M248.2 0h2.35" stroke="#7b0099"/>
<path d="M250.1 0h2.35" stroke="#7e0096"/>
<path d="M252.0 0h4.25" stroke="#7b009c"/>
<path d="M255.8 0h2.35" stroke="#7e0096"/>
<path d="M257.7 0h2.35" stroke="#78008d"/>
<path d="M259.6 0h2.35" stroke="#750084"/>
<path d="M261.5 0h2.35" stroke="#6f007b"/>
<path d="M263.4 0h2.35" stroke="#6c0075"/>
<path d="M265.3 0h2.35" stroke="#6c0072"/>
<path d="M267.2 0h4.25" stroke="#69006f"/>
<path d="M271.0 0h4.25" stroke="#69006c"/>
<path d="M274.8 0h2.35" stroke="#66006c"/>
<path d="M276.7 0h6.15" stroke="#660069"/>
</g>
<g transform="translate(0 297.56)" stroke-width="3.46">
<path d="M202.6 0h4.25" stroke="#660069"/>
<path d="M206.4 0h4.25" stroke="#69006c"/>
<path d="M210.2 0h2.35" stroke="#69006f"/>
<path d="M212.1 0h2.35" stroke="#6c0072"/>
<path d="M214.0 0h2.35" stroke="#6f0078"/>
<path d="M215.9 0h2.35" stroke="#720081"/>
<path d="M217.8 0h2.35" stroke="#75008a"/>
<path d="M219.7 0h2.35" stroke="#7b0090"/>
<path d="M221.6 0h2.35" stroke="#7b0099"/>
<path d="M223.5 0h4.25" stroke="#7b009f"/>
<path d="M227.3 0h4.25" stroke="#7b009c"/>
<path d="M231.1 0h2.35" stroke="#7800b4"/>
<path d="M233.0 0h2.35" stroke="#3900f0"/>
<path d="M234.9 0h2.35" stroke="#00aeff"/>
<path d="M236.8 0h2.35" stroke="#00ff00"/>
<path d="M238.7 0h2.35" stroke="#b7ff00"/>
<path d="M240.6 0h2.35" stroke="#c9ff00"/>
<path d="M242.5 0h2.35" stroke="#4eff00"/>
<path d="M244.4 0h2.35" stroke="#00fff9"/>
<path d="M246.3 0h2.35" stroke="#0c00fc"/>
<path d="M248.2 0h2.35" stroke="#7500b7"/>
<path d="M250.1 0h2.35" stroke="#7b0093"/>
<path d="M252.0 0h2.35" stroke="#780090"/>
<path d="M253.9 0h4.25" stroke="#7b0090"/>
<path d="M257.7 0h2.35" stroke="#78008d"/>
<path d="M259.6 0h2.35" stroke="#750087"/>
<path d="M261.5 0h2.35" stroke="#72007e"/>
<path d="M263.4 0h2.35" stroke="#6f0078"/>
<path d="M265.3 0h2.35" stroke="#6c0072"/>
<path d="M267.2 0h2.35" stroke="#69006f"/>
<path d="M269.1 0h6.15" stroke="#69006c"/>
<path d="M274.8 0h6.15" stroke="#660069"/>
</g>
<g transform="translate(0 294.50)" stroke-width="3.46">
<path d="M200.7 0h4.25" stroke="#660069"/>
<path d="M204.5 0h2.35" stroke="#66006c"/>
<path d="M206.4 0h4.25" stroke="#69006c"/>
<path d="M210.2 0h2.35" stroke="#69006f"/>
<path d="M212.1 0h2.35" stroke="#6c0072"/>
<path d="M214.0 0h2.35" stroke="#6f0078"/>
<path d="M215.9 0h2.35" stroke="#72007e"/>
<path d="M217.8 0h2.35" stroke="#750087"/>
<path d="M219.7 0h2.35" stroke="#7b0093"/>
<path d="M221.6 0h2.35" stroke="#7b00a2"/>
<path d="M223.5 0h2.35" stroke="#7800ae"/>
<path d="M225.4 0h4.25" stroke="#7800b4"/>
<path d="M229.2 0h2.35" stroke="#7800ae"/>
<path d="M231.1 0h2.35" stroke="#7800b1"/>
<path d="M233.0 0h2.35" stroke="#7200cf"/>
<path d="M234.9 0h2.35" stroke="#000fff"/>
<path d="M236.8 0h2.35" stroke="#00ffba"/>
<path d="M238.7 0h2.35" stroke="#b4ff00"/>
<path d="M240.6 0h2.35" stroke="#ffba00"/>
<path d="M242.5 0h2.35" stroke="#ffa500"/>
<path d="M244.4 0h2.35" stroke="#e1ff00"/>
<path d="M246.3 0h2.35" stroke="#00ff51"/>
<path d="M248.2 0h2.35" stroke="#003cff"/>
<path d="M250.1 0h2.35" stroke="#7200d2"/>
<path d="M252.0 0h2.35" stroke="#7b009f"/>
<path d="M253.9 0h2.35" stroke="#7b0099"/>
<path d="M255.8 0h2.35" stroke="#7b009c"/>
<path d="M257.7 0h2.35" stroke="#7b009f"/>
<path d="M259.6 0h2.35" stroke="#7e0099"/>
<path d="M261.5 0h2.35" stroke="#780090"/>
<path d="M263.4 0h2.35" stroke="#750084"/>
<path d="M265.3 0h2.35" stroke="#6f007b"/>
<path d="M267.2 0h2.35" stroke="#6c0075"/>
<path d="M269.1 0h2.35" stroke="#6c0072"/>
<path d="M271.0 0h4.25" stroke="#69006f"/>
<path d="M274.8 0h6.15" stroke="#69006c"/>
<path d="M280.5 0h2.35" stroke="#66006c"/>
<path d="M282.4 0h6.15" stroke="#660069"/>
</g>
<g transform="translate(0 291.45)" stroke-width="3.46">
<path d="M202.6 0h6.15" stroke="#660069"/>
<path d="M208.3 0h4.25" stroke="#69006c"/>
<path d="M212.1 0h2.35" stroke="#69006f"/>
<path d="M214.0 0h2.35" stroke="#6c0072"/>
<path d="M215.9 0h2.35" stroke="#6f0078"/>
<path d="M217.8 0h2.35" stroke="#72007e"/>
<path d="M219.7 0h2.35" stroke="#750087"/>
<path d="M221.6 0h2.35" stroke="#7b0093"/>
<path d="M223.5 0h2.35" stroke="#7b009f"/>
<path d="M225.4 0h2.35" stroke="#7800ab"/>
<path d="M227.3 0h2.35" stroke="#7800b4"/>
<path d="M229.2 0h2.35" stroke="#7800b1"/>
<path d="M231.1 0h4.25" stroke="#7800ae"/>
<path d="M234.9 0h2.35" stroke="#7200cf"/>
<path d="M236.8 0h2.35" stroke="#000fff"/>
<path d="M238.7 0h2.35" stroke="#00ffb1"/>
<path d="M240.6 0h2.35" stroke="#b7ff00"/>
<path d="M242.5 0h2.35" stroke="#ffbd00"/>
<path d="M244.4 0h2.35" stroke="#ffae00"/>
<path d="M246.3 0h2.35" stroke="#dbff00"/>
<path d="M248.2 0h2.35" stroke="#00ff57"/>
<path d="M250.1 0h2.35" stroke="#0036ff"/>
<path d="M252.0 0h2.35" stroke="#7200cc"/>
<path d="M253.9 0h2.35" stroke="#7b009c"/>
<path d="M255.8 0h2.35" stroke="#7b0096"/>
<path d="M257.7 0h2.35" stroke="#7e0099"/>
<path d="M259.6 0h2.35" stroke="#7b0099"/>
<path d="M261.5 0h2.35" stroke="#7e0096"/>
<path d="M263.4 0h2.35" stroke="#78008d"/>
<path d="M265.3 0h2.35" stroke="#720084"/>
<path d="M267.2 0h2.35" stroke="#6f007b"/>
<path d="M269.1 0h2.35" stroke="#6c0075"/>
<path d="M271.0 0h2.35" stroke="#6c0072"/>
<path d="M272.9 0h4.25" stroke="#69006f"/>
<path d="M276.7 0h4.25" stroke="#69006c"/>
<path d="M280.5 0h2.35" stroke="#66006c"/>
<path d="M282.4 0h6.15" stroke="#660069"/>
</g>
<g transform="translate(0 288.39)" stroke-width="3.46">
<path d="M208.3 0h2.35" stroke="#660069"/>
<path d="M210.2 0h2.35" stroke="#66006c"/>
<path d="M212.1 0h2.35" stroke="#69006c"/>
<path d="M214.0 0h2.35" stroke="#69006f"/>
<path d="M215.9 0h2.35" stroke="#690072"/>
<path d="M217.8 0h2.35" stroke="#6c0075"/>
<path d="M219.7 0h2.35" stroke="#6f007b"/>
<path d="M221.6 0h2.35" stroke="#750084"/>
<path d="M223.5 0h2.35" stroke="#78008d"/>
<path d="M225.4 0h2.35" stroke="#7e0099"/>
<path d="M227.3 0h2.35" stroke="#7b00a2"/>
<path d="M229.2 0h4.25" stroke="#7800a8"/>
<path d="M233.0 0h2.35" stroke="#7b00a2"/>
<path d="M234.9 0h2.35" stroke="#7b00a5"/>
<path d="M236.8 0h2.35" stroke="#7500c3"/>
<path d="M238.7 0h2.35" stroke="#0900fc"/>
<path d="M240.6 0h2.35" stroke="#00fff0"/>
<path d="M242.5 0h2.35" stroke="#78ff00"/>
<path d="M244.4 0h2.35" stroke="#ffff00"/>
<path d="M246.3 0h2.35" stroke="#fff300"/>
<path d="M248.2 0h2.35" stroke="#abff00"/>
<path d="M250.1 0h2.35" stroke="#00ffa8"/>
<path d="M252.0 0h2.35" stroke="#0009ff"/>
<path d="M253.9 0h2.35" stroke="#7500b7"/>
<path d="M255.8 0h2.35" stroke="#7b0090"/>
<path d="M257.7 0h2.35" stroke="#78008d"/>
<path d="M259.6 0h2.35" stroke="#7b0090"/>
<path d="M261.5 0h2.35" stroke="#7b0093"/>
<path d="M263.4 0h2.35" stroke="#78008d"/>
<path d="M265.3 0h2.35" stroke="#750087"/>
<path d="M267.2 0h2.35" stroke="#72007e"/>
<path d="M269.1 0h2.35" stroke="#6f0078"/>
<path d="M271.0 0h2.35" stroke="#6c0072"/>
<path d="M272.9 0h2.35" stroke="#69006f"/>
<path d="M274.8 0h6.15" stroke="#69006c"/>
<path d="M280.5 0h2.35" stroke="#66006c"/>
<path d="M282.4 0h6.15" stroke="#660069"/>
</g>
<g transform="translate(0 285.34)" stroke-width="3.46">
<path d="M212.1 0h2.35" stroke="#660069"/>
<path d="M214.0 0h2.35" stroke="#66006c"/>
<path d="M215.9 0h2.35" stroke="#69006c"/>
<path d="M217.8 0h2.35" stroke="#69006f"/>
<path d="M219.7 0h2.35" stroke="#6c0072"/>
<path d="M221.6 0h2.35" stroke="#6f0078"/>
<path d="M223.5 0h2.35" stroke="#720081"/>
<path d="M225.4 0h2.35" stroke="#750087"/>
<path d="M227.3 0h2.35" stroke="#7b0090"/>
<path d="M229.2 0h2.35" stroke="#7b0099"/>
<path d="M231.1 0h4.25" stroke="#7b009c"/>
<path d="M234.9 0h4.25" stroke="#7b0099"/>
<path d="M238.7 0h2.35" stroke="#7500b7"/>
<path d="M240.6 0h2.35" stroke="#2700f6"/>
<path d="M242.5 0h2.35" stroke="#00cfff"/>
<path d="M244.4 0h2.35" stroke="#21ff00"/>
<path d="M246.3 0h2.35" stroke="#c3ff00"/>
<path d="M248.2 0h2.35" stroke="#cfff00"/>
<path d="M250.1 0h2.35" stroke="#51ff00"/>
<path d="M252.0 0h2.35" stroke="#00eaff"/>
<path d="M253.9 0h2.35" stroke="#3000f3"/>
<path d="M255.8 0h2.35" stroke="#7b00a5"/>
<path d="M257.7 0h2.35" stroke="#78008a"/>
<path d="M259.6 0h2.35" stroke="#750087"/>
<path d="M261.5 0h4.25" stroke="#78008a"/>
<path d="M265.3 0h2.35" stroke="#750087"/>
<path d="M267.2 0h2.35" stroke="#720081"/>
<path d="M269.1 0h2.35" stroke="#6f007b"/>
<path d="M271.0 0h2.35" stroke="#6c0075"/>
<path d="M272.9 0h4.25" stroke="#69006f"/>
<path d="M276.7 0h2.35" stroke="#69006c"/>
<path d="M278.6 0h2.35" stroke="#66006c"/>
<path d="M280.5 0h6.15" stroke="#660069"/>
</g>
<g transform="translate(0 282.28)" stroke-width="3.46">
<path d="M210.2 0h4.25" stroke="#660069"/>
<path d="M214.0 0h2.35" stroke="#66006c"/>
<path d="M215.9 0h2.35" stroke="#69006c"/>
<path d="M217.8 0h2.35" stroke="#69006f"/>
<path d="M219.7 0h2.35" stroke="#6c0072"/>
<path d="M221.6 0h2.35" stroke="#6c0075"/>
<path d="M223.5 0h2.35" stroke="#6f007e"/>
<path d="M225.4 0h2.35" stroke="#750087"/>
<path d="M227.3 0h2.35" stroke="#7b0090"/>
<path d="M229.2 0h2.35" stroke="#7b009c"/>
<path d="M231.1 0h2.35" stroke="#7800a8"/>
<path d="M233.0 0h2.35" stroke="#7800ae"/>
<path d="M234.9 0h2.35" stroke="#7800ab"/>
<path d="M236.8 0h2.35" stroke="#7b00a8"/>
<path d="M238.7 0h2.35" stroke="#7800ab"/>
<path d="M240.6 0h2.35" stroke="#7200cf"/>
<path d="M242.5 0h2.35" stroke="#0015ff"/>
<path d="M244.4 0h2.35" stroke="#00ffa8"/>
<path d="M246.3 0h2.35" stroke="#b4ff00"/>
<path d="M248.2 0h2.35" stroke="#ffc600"/>
<path d="M250.1 0h2.35" stroke="#ffb700"/>
<path d="M252.0 0h2.35" stroke="#bdff00"/>
<path d="M253.9 0h2.35" stroke="#00ffc6"/>
<path d="M255.8 0h2.35" stroke="#0f00fc"/>
<path d="M257.7 0h2.35" stroke="#7800b1"/>
<path d="M259.6 0h2.35" stroke="#7b0090"/>
<path d="M261.5 0h2.35" stroke="#78008d"/>
<path d="M263.4 0h4.25" stroke="#7b0090"/>
<path d="M267.2 0h2.35" stroke="#78008d"/>
<path d="M269.1 0h2.35" stroke="#750087"/>
<path d="M271.0 0h2.35" stroke="#72007e"/>
<path d="M272.9 0h2.35" stroke="#6f0078"/>
<path d="M274.8 0h2.35" stroke="#6c0072"/>
<path d="M276.7 0h2.35" stroke="#69006f"/>
<path d="M278.6 0h6.15" stroke="#69006c"/>
<path d="M284.3 0h2.35" stroke="#66006c"/>
<path d="M286.2 0h6.15" stroke="#660069"/>
</g>
<g transform="translate(0 279.23)" stroke-width="3.46">
<path d="M164.6 0h13.75" stroke="#660069"/>
<path d="M177.9 0h4.25" stroke="#66006c"/>
<path d="M181.7 0h13.75" stroke="#69006c"/>
<path d="M195.0 0h9.95" stroke="#69006f"/>
<path d="M204.5 0h2.35" stroke="#690072"/>
<path d="M206.4 0h6.15" stroke="#6c0072"/>
<path d="M212.1 0h4.25" stroke="#6c0075"/>
<path d="M215.9 0h4.25" stroke="#6f0078"/>
<path d="M219.7 0h2.35" stroke="#6f007b"/>
<path d="M221.6 0h2.35" stroke="#720081"/>
<path d="M223.5 0h2.35" stroke="#750087"/>
<path d="M225.4 0h2.35" stroke="#7b0090"/>
<path d="M227.3 0h2.35" stroke="#7b009f"/>
<path d="M229.2 0h2.35" stroke="#7800b4"/>
<path d="M231.1 0h2.35" stroke="#7200c6"/>
<path d="M233.0 0h2.35" stroke="#6f00d5"/>
<path d="M234.9 0h2.35" stroke="#6f00de"/>
<path d="M236.8 0h2.35" stroke="#6f00db"/>
<path d="M238.7 0h2.35" stroke="#6f00d8"/>
<path d="M240.6 0h2.35" stroke="#6f00db"/>
<path d="M242.5 0h2.35" stroke="#3000f3"/>
<path d="M244.4 0h2.35" stroke="#00a2ff"/>
<path d="M246.3 0h2.35" stroke="#60ff00"/>
<path d="M248.2 0h2.35" stroke="#ff7500"/>
<path d="M250.1 0h4.25" stroke="#ff0000"/>
<path d="M253.9 0h2.35" stroke="#ffa800"/>
<path d="M255.8 0h2.35" stroke="#03ff00"/>
<path d="M257.7 0h2.35" stroke="#004eff"/>
<path d="M259.6 0h2.35" stroke="#6f00de"/>
<path d="M261.5 0h2.35" stroke="#7800b1"/>
<path d="M263.4 0h2.35" stroke="#7800ae"/>
<path d="M265.3 0h2.35" stroke="#7800b1"/>
<path d="M267.2 0h2.35" stroke="#7800b4"/>
<path d="M269.1 0h2.35" stroke="#7800ab"/>
<path d="M271.0 0h2.35" stroke="#7b009f"/>
<path d="M272.9 0h2.35" stroke="#7b0093"/>
<path d="M274.8 0h2.35" stroke="#75008a"/>
<path d="M276.7 0h2.35" stroke="#720081"/>
<path d="M278.6 0h2.35" stroke="#72007e"/>
<path d="M280.5 0h2.35" stroke="#6f007b"/>
<path d="M282.4 0h4.25" stroke="#6f0078"/>
<path d="M286.2 0h8.05" stroke="#6c0075"/>
<path d="M293.8 0h6.15" stroke="#6c0072"/>
<path d="M299.5 0h2.35" stroke="#690072"/>
<path d="M301.4 0h13.75" stroke="#69006f"/>
<path d="M314.7 0h15.65" stroke="#69006c"/>
<path d="M329.9 0h4.25" stroke="#66006c"/>
<path d="M333.7 0h15.65" stroke="#660069"/>
</g>
<g transform="translate(0 276.17)" stroke-width="3.46">
<path d="M215.9 0h4.25" stroke="#660069"/>
<path d="M219.7 0h4.25" stroke="#69006c"/>
<path d="M223.5 0h2.35" stroke="#69006f"/>
<path d="M225.4 0h2.35" stroke="#6c0075"/>
<path d="M227.3 0h2.35" stroke="#6f007b"/>
<path d="M229.2 0h2.35" stroke="#720081"/>
<path d="M231.1 0h2.35" stroke="#78008d"/>
<path d="M233.0 0h2.35" stroke="#7b0096"/>
<path d="M234.9 0h2.35" stroke="#7b009f"/>
<path d="M236.8 0h4.25" stroke="#7b00a2"/>
<path d="M240.6 0h2.35" stroke="#7b009f"/>
<path d="M242.5 0h2.35" stroke="#7b00a2"/>
<path d="M244.4 0h2.35" stroke="#7200c6"/>
<path d="M246.3 0h2.35" stroke="#0006ff"/>
<path d="M248.2 0h2.35" stroke="#00ffcf"/>
<path d="M250.1 0h2.35" stroke="#96ff00"/>
<path d="M252.0 0h2.35" stroke="#f9ff00"/>
<path d="M253.9 0h2.35" stroke="#d8ff00"/>
<path d="M255.8 0h2.35" stroke="#1bff00"/>
<path d="M257.7 0h2.35" stroke="#00aeff"/>
<path d="M259.6 0h2.35" stroke="#4800ea"/>
<path d="M261.5 0h2.35" stroke="#7b009f"/>
<path d="M263.4 0h4.25" stroke="#750087"/>
<path d="M267.2 0h4.25" stroke="#78008a"/>
<path d="M271.0 0h2.35" stroke="#750087"/>
<path d="M272.9 0h2.35" stroke="#720081"/>
<path d="M274.8 0h2.35" stroke="#6f007b"/>
<path d="M276.7 0h2.35" stroke="#6c0075"/>
<path d="M278.6 0h2.35" stroke="#69006f"/>
<path d="M280.5 0h4.25" stroke="#69006c"/>
<path d="M284.3 0h2.35" stroke="#66006c"/>
<path d="M286.2 0h6.15" stroke="#660069"/>
</g>
<g transform="translate(0 273.12)" stroke-width="3.46">
<path d="M215.9 0h4.25" stroke="#660069"/>
<path d="M219.7 0h4.25" stroke="#69006c"/>
<path d="M223.5 0h2.35" stroke="#69006f"/>
<path d="M225.4 0h2.35" stroke="#6c0072"/>
<path d="M227.3 0h2.35" stroke="#6f0078"/>
<path d="M229.2 0h2.35" stroke="#720081"/>
<path d="M231.1 0h2.35" stroke="#78008a"/>
<path d="M233.0 0h2.35" stroke="#7b0096"/>
<path d="M234.9 0h2.35" stroke="#7b00a2"/>
<path d="M236.8 0h2.35" stroke="#7800ae"/>
<path d="M238.7 0h4.25" stroke="#7800b4"/>
<path d="M242.5 0h2.35" stroke="#7800b1"/>
<path d="M244.4 0h2.35" stroke="#7800b4"/>
<path d="M246.3 0h2.35" stroke="#6900e1"/>
<path d="M248.2 0h2.35" stroke="#0051ff"/>
<path d="M250.1 0h2.35" stroke="#00ff21"/>
<path d="M252.0 0h2.35" stroke="#f9ff00"/>
<path d="M253.9 0h2.35" stroke="#ffa800"/>
<path d="M255.8 0h2.35" stroke="#ffd200"/>
<path d="M257.7 0h2.35" stroke="#90ff00"/>
<path d="M259.6 0h2.35" stroke="#00fffc"/>
<path d="M261.5 0h2.35" stroke="#2400f6"/>
<path d="M263.4 0h2.35" stroke="#7800ae"/>
<path d="M265.3 0h2.35" stroke="#7b0090"/>
<path d="M267.2 0h2.35" stroke="#78008d"/>
<path d="M269.1 0h4.25" stroke="#7b0090"/>
<path d="M272.9 0h2.35" stroke="#78008d"/>
<path d="M274.8 0h2.35" stroke="#750087"/>
<path d="M276.7 0h2.35" stroke="#72007e"/>
<path d="M278.6 0h2.35" stroke="#6c0078"/>
<path d="M280.5 0h2.35" stroke="#6c0072"/>
<path d="M282.4 0h2.35" stroke="#69006f"/>
<path d="M284.3 0h6.15" stroke="#69006c"/>
<path d="M290.0 0h2.35" stroke="#66006c"/>
<path d="M291.9 0h6.15" stroke="#660069"/>
</g>
<g transform="translate(0 270.06)" stroke-width="3.46">
<path d="M217.8 0h4.25" stroke="#660069"/>
<path d="M221.6 0h4.25" stroke="#69006c"/>
<path d="M225.4 0h2.35" stroke="#69006f"/>
<path d="M227.3 0h2.35" stroke="#6c0072"/>
<path d="M229.2 0h2.35" stroke="#6f0078"/>
<path d="M231.1 0h2.35" stroke="#720081"/>
<path d="M233.0 0h2.35" stroke="#78008a"/>
<path d="M234.9 0h2.35" stroke="#7e0096"/>
<path d="M236.8 0h2.35" stroke="#7b00a5"/>
<path d="M238.7 0h2.35" stroke="#7800b1"/>
<path d="M240.6 0h2.35" stroke="#7800b7"/>
<path d="M242.5 0h2.35" stroke="#7800b4"/>
<path d="M244.4 0h2.35" stroke="#7800b1"/>
<path d="M246.3 0h2.35" stroke="#7500b7"/>
<path d="M248.2 0h2.35" stroke="#6300e4"/>
<path d="M250.1 0h2.35" stroke="#0060ff"/>
<path d="M252.0 0h2.35" stroke="#00ff1e"/>
<path d="M253.9 0h2.35" stroke="#e7ff00"/>
<path d="M255.8 0h2.35" stroke="#ffc300"/>
<path d="M257.7 0h2.35" stroke="#ffe700"/>
<path d="M259.6 0h2.35" stroke="#75ff00"/>
<path d="M261.5 0h2.35" stroke="#00eaff"/>
<path d="M263.4 0h2.35" stroke="#3000f3"/>
<path d="M265.3 0h2.35" stroke="#7800a8"/>
<path d="M267.2 0h4.25" stroke="#78008d"/>
<path d="M271.0 0h4.25" stroke="#7b0090"/>
<path d="M274.8 0h2.35" stroke="#78008d"/>
<path d="M276.7 0h2.35" stroke="#750084"/>
<path d="M278.6 0h2.35" stroke="#6f007e"/>
<path d="M280.5 0h2.35" stroke="#6c0075"/>
<path d="M282.4 0h2.35" stroke="#6c0072"/>
<path d="M284.3 0h2.35" stroke="#69006f"/>
<path d="M286.2 0h6.15" stroke="#69006c"/>
<path d="M291.9 0h8.05" stroke="#660069"/>
</g>
<g transform="translate(0 267.01)" stroke-width="3.46">
<path d="M219.7 0h4.25" stroke="#660069"/>
<path d="M223.5 0h4.25" stroke="#69006c"/>
<path d="M227.3 0h2.35" stroke="#69006f"/>
<path d="M229.2 0h2.35" stroke="#6c0072"/>
<path d="M231.1 0h2.35" stroke="#6f0078"/>
<path d="M233.0 0h2.35" stroke="#720081"/>
<path d="M234.9 0h2.35" stroke="#78008a"/>
<path d="M236.8 0h2.35" stroke="#7b0096"/>
<path d="M238.7 0h2.35" stroke="#7b00a5"/>
<path d="M240.6 0h2.35" stroke="#7800b1"/>
<path d="M242.5 0h4.25" stroke="#7800b4"/>
<path d="M246.3 0h2.35" stroke="#7800b1"/>
<path d="M248.2 0h2.35" stroke="#7500b7"/>
<path d="M250.1 0h2.35" stroke="#5d00e4"/>
<path d="M252.0 0h2.35" stroke="#005dff"/>
<path d="M253.9 0h2.35" stroke="#00ff45"/>
<path d="M255.8 0h2.35" stroke="#c9ff00"/>
<path d="M257.7 0h2.35" stroke="#ffe400"/>
<path d="M259.6 0h2.35" stroke="#f9ff00"/>
<path d="M261.5 0h2.35" stroke="#48ff00"/>
<path d="M263.4 0h2.35" stroke="#00c6ff"/>
<path d="M265.3 0h2.35" stroke="#3f00ed"/>
<path d="M267.2 0h2.35" stroke="#7b00a5"/>
<path d="M269.1 0h2.35" stroke="#78008d"/>
<path d="M271.0 0h2.35" stroke="#78008a"/>
<path d="M272.9 0h4.25" stroke="#78008d"/>
<path d="M276.7 0h2.35" stroke="#78008a"/>
<path d="M278.6 0h2.35" stroke="#750084"/>
<path d="M280.5 0h2.35" stroke="#6f007b"/>
<path d="M282.4 0h2.35" stroke="#6c0075"/>
<path d="M284.3 0h2.35" stroke="#6c0072"/>
<path d="M286.2 0h2.35" stroke="#69006f"/>
<path d="M288.1 0h4.25" stroke="#69006c"/>
<path d="M291.9 0h2.35" stroke="#66006c"/>
<path d="M293.8 0h6.15" stroke="#660069"/>
</g>
<g transform="translate(0 263.95)" stroke-width="3.46">
<path d="M219.7 0h4.25" stroke="#660069"/>
<path d="M223.5 0h4.25" stroke="#69006c"/>
<path d="M227.3 0h2.35" stroke="#69006f"/>
<path d="M229.2 0h2.35" stroke="#690072"/>
<path d="M231.1 0h2.35" stroke="#6c0075"/>
<path d="M233.0 0h2.35" stroke="#6f007b"/>
<path d="M234.9 0h2.35" stroke="#750084"/>
<path d="M236.8 0h2.35" stroke="#780090"/>
<path d="M238.7 0h2.35" stroke="#7b009f"/>
<path d="M240.6 0h2.35" stroke="#7800ae"/>
<path d="M242.5 0h2.35" stroke="#7500bd"/>
<path d="M244.4 0h4.25" stroke="#7500c3"/>
<path d="M248.2 0h2.35" stroke="#7500c0"/>
<path d="M250.1 0h2.35" stroke="#7200c9"/>
<path d="M252.0 0h2.35" stroke="#4200ed"/>
<path d="M253.9 0h2.35" stroke="#007eff"/>
<path d="M255.8 0h2.35" stroke="#00ff03"/>
<path d="M257.7 0h2.35" stroke="#f6ff00"/>
<path d="M259.6 0h2.35" stroke="#ffa800"/>
<path d="M261.5 0h2.35" stroke="#ffd200"/>
<path d="M263.4 0h2.35" stroke="#84ff00"/>
<path d="M265.3 0h2.35" stroke="#00edff"/>
<path d="M267.2 0h2.35" stroke="#3000f3"/>
<path d="M269.1 0h2.35" stroke="#7800ab"/>
<path d="M271.0 0h2.35" stroke="#7b0090"/>
<path d="M272.9 0h2.35" stroke="#780090"/>
<path d="M274.8 0h4.25" stroke="#7b0093"/>
<path d="M278.6 0h2.35" stroke="#78008d"/>
<path d="M280.5 0h2.35" stroke="#750087"/>
<path d="M282.4 0h2.35" stroke="#72007e"/>
<path d="M284.3 0h2.35" stroke="#6f0078"/>
<path d="M286.2 0h2.35" stroke="#6c0072"/>
<path d="M288.1 0h4.25" stroke="#69006f"/>
<path d="M291.9 0h4.25" stroke="#69006c"/>
<path d="M295.7 0h2.35" stroke="#66006c"/>
<path d="M297.6 0h6.15" stroke="#660069"/>
</g>
<g transform="translate(0 260.90)" stroke-width="3.46">
<path d="M219.7 0h4.25" stroke="#660069"/>
<path d="M223.5 0h2.35" stroke="#66006c"/>
<path d="M225.4 0h4.25" stroke="#69006c"/>
<path d="M229.2 0h2.35" stroke="#69006f"/>
<path d="M231.1 0h2.35" stroke="#6c0072"/>
<path d="M233.0 0h2.35" stroke="#6c0075"/>
<path d="M234.9 0h2.35" stroke="#6f007e"/>
<path d="M236.8 0h2.35" stroke="#750087"/>
<path d="M238.7 0h2.35" stroke="#7b0093"/>
<path d="M240.6 0h2.35" stroke="#7b00a2"/>
<path d="M242.5 0h2.35" stroke="#7800b4"/>
<path d="M244.4 0h2.35" stroke="#7500c3"/>
<path d="M246.3 0h4.25" stroke="#7200c9"/>
<path d="M250.1 0h2.35" stroke="#7200c6"/>
<path d="M252.0 0h2.35" stroke="#7200cc"/>
<path d="M253.9 0h2.35" stroke="#3f00ed"/>
<path d="M255.8 0h2.35" stroke="#0087ff"/>
<path d="M257.7 0h2.35" stroke="#0fff00"/>
<path d="M259.6 0h2.35" stroke="#fff900"/>
<path d="M261.5 0h2.35" stroke="#ff9c00"/>
<path d="M263.4 0h2.35" stroke="#ffc900"/>
<path d="M265.3 0h2.35" stroke="#8aff00"/>
<path d="M267.2 0h2.35" stroke="#00f0ff"/>
<path d="M269.1 0h2.35" stroke="#2d00f3"/>
<path d="M271.0 0h2.35" stroke="#7800ab"/>
<path d="M272.9 0h4.25" stroke="#7b0090"/>
<path d="M276.7 0h4.25" stroke="#7b0093"/>
<path d="M280.5 0h2.35" stroke="#780090"/>
<path d="M282.4 0h2.35" stroke="#750087"/>
<path d="M284.3 0h2.35" stroke="#72007e"/>
<path d="M286.2 0h2.35" stroke="#6f0078"/>
<path d="M288.1 0h2.35" stroke="#6c0072"/>
<path d="M290.0 0h4.25" stroke="#69006f"/>
<path d="M293.8 0h6.15" stroke="#69006c"/>
<path d="M299.5 0h8.05" stroke="#660069"/>
</g>
<g transform="translate(0 257.84)" stroke-width="3.46">
<path d="M223.5 0h4.25" stroke="#660069"/>
<path d="M227.3 0h2.35" stroke="#66006c"/>
<path d="M229.2 0h2.35" stroke="#69006c"/>
<path d="M231.1 0h2.35" stroke="#69006f"/>
<path d="M233.0 0h2.35" stroke="#690072"/>
<path d="M234.9 0h2.35" stroke="#6c0075"/>
<path d="M236.8 0h2.35" stroke="#6f007b"/>
<path d="M238.7 0h2.35" stroke="#750084"/>
<path d="M240.6 0h2.35" stroke="#7b0090"/>
<path d="M242.5 0h2.35" stroke="#7b009f"/>
<path d="M244.4 0h2.35" stroke="#7800ae"/>
<path d="M246.3 0h2.35" stroke="#7500bd"/>
<path d="M248.2 0h4.25" stroke="#7500c3"/>
<path d="M252.0 0h2.35" stroke="#7500bd"/>
<path d="M253.9 0h2.35" stroke="#7500c0"/>
<path d="M255.8 0h2.35" stroke="#5700e7"/>
<path d="M257.7 0h2.35" stroke="#0063ff"/>
<path d="M259.6 0h2.35" stroke="#00ff36"/>
<path d="M261.5 0h2.35" stroke="#d2ff00"/>
<path d="M263.4 0h2.35" stroke="#ffe100"/>
<path d="M265.3 0h2.35" stroke="#f3ff00"/>
<path d="M267.2 0h2.35" stroke="#30ff00"/>
<path d="M269.1 0h2.35" stroke="#00aeff"/>
<path d="M271.0 0h2.35" stroke="#4b00ea"/>
<path d="M272.9 0h2.35" stroke="#7b00a2"/>
<path d="M274.8 0h2.35" stroke="#78008d"/>
<path d="M276.7 0h2.35" stroke="#78008a"/>
<path d="M278.6 0h4.25" stroke="#78008d"/>
<path d="M282.4 0h2.35" stroke="#78008a"/>
<path d="M284.3 0h2.35" stroke="#720084"/>
<path d="M286.2 0h2.35" stroke="#6f007b"/>
<path d="M288.1 0h2.35" stroke="#6c0075"/>
<path d="M290.0 0h2.35" stroke="#6c0072"/>
<path d="M291.9 0h2.35" stroke="#69006f"/>
<path d="M293.8 0h4.25" stroke="#69006c"/>
<path d="M297.6 0h2.35" stroke="#66006c"/>
<path d="M299.5 0h6.15" stroke="#660069"/>
</g>
<g transform="translate(0 254.79)" stroke-width="3.46">
<path d="M223.5 0h4.25" stroke="#660069"/>
<path d="M227.3 0h2.35" stroke="#66006c"/>
<path d="M229.2 0h4.25" stroke="#69006c"/>
<path d="M233.0 0h2.35" stroke="#69006f"/>
<path d="M234.9 0h2.35" stroke="#6c0072"/>
<path d="M236.8 0h2.35" stroke="#6c0075"/>
<path d="M238.7 0h2.35" stroke="#72007e"/>
<path d="M240.6 0h2.35" stroke="#750087"/>
<path d="M242.5 0h2.35" stroke="#7b0093"/>
<path d="M244.4 0h2.35" stroke="#7b00a5"/>
<path d="M246.3 0h2.35" stroke="#7500b7"/>
<path d="M248.2 0h2.35" stroke="#7200c6"/>
<path d="M250.1 0h2.35" stroke="#7200cf"/>
<path d="M252.0 0h2.35" stroke="#7200c9"/>
<path d="M253.9 0h2.35" stroke="#7500c0"/>
<path d="M255.8 0h2.35" stroke="#7500c3"/>
<path d="M257.7 0h2.35" stroke="#4b00ea"/>
<path d="M259.6 0h2.35" stroke="#0078ff"/>
<path d="M261.5 0h2.35" stroke="#00ff09"/>
<path d="M263.4 0h2.35" stroke="#eaff00"/>
<path d="M265.3 0h2.35" stroke="#ffc600"/>
<path d="M267.2 0h2.35" stroke="#fff600"/>
<path d="M269.1 0h2.35" stroke="#4bff00"/>
<path d="M271.0 0h2.35" stroke="#00bdff"/>
<path d="M272.9 0h2.35" stroke="#4500ed"/>
<path d="M274.8 0h2.35" stroke="#7b00a2"/>
<path d="M276.7 0h4.25" stroke="#78008d"/>
<path d="M280.5 0h4.25" stroke="#7b0090"/>
<path d="M284.3 0h2.35" stroke="#78008d"/>
<path d="M286.2 0h2.35" stroke="#750084"/>
<path d="M288.1 0h2.35" stroke="#6f007b"/>
<path d="M290.0 0h2.35" stroke="#6c0075"/>
<path d="M291.9 0h2.35" stroke="#6c0072"/>
<path d="M293.8 0h2.35" stroke="#69006f"/>
<path d="M295.7 0h6.15" stroke="#69006c"/>
<path d="M301.4 0h2.35" stroke="#66006c"/>
<path d="M303.3 0h6.15" stroke="#660069"/>
</g>
<g transform="translate(0 251.73)" stroke-width="3.46">
<path d="M227.3 0h4.25" stroke="#660069"/>
<path d="M231.1 0h4.25" stroke="#69006c"/>
<path d="M234.9 0h2.35" stroke="#69006f"/>
<path d="M236.8 0h2.35" stroke="#6c0072"/>
<path d="M238.7 0h2.35" stroke="#6c0075"/>
<path d="M240.6 0h2.35" stroke="#6f007e"/>
<path d="M242.5 0h2.35" stroke="#750087"/>
<path d="M244.4 0h2.35" stroke="#7b0093"/>
<path d="M246.3 0h2.35" stroke="#7b00a2"/>
<path d="M248.2 0h2.35" stroke="#7500b7"/>
<path d="M250.1 0h2.35" stroke="#7200c6"/>
<path d="M252.0 0h2.35" stroke="#7200c9"/>
<path d="M253.9 0h2.35" stroke="#7500c0"/>
<path d="M255.8 0h2.35" stroke="#7800b7"/>
<path d="M257.7 0h2.35" stroke="#7500ba"/>
<path d="M259.6 0h2.35" stroke="#5700e7"/>
<path d="M261.5 0h2.35" stroke="#0066ff"/>
<path d="M263.4 0h2.35" stroke="#00ff36"/>
<path d="M265.3 0h2.35" stroke="#ccff00"/>
<path d="M267.2 0h2.35" stroke="#fff000"/>
<path d="M269.1 0h2.35" stroke="#e1ff00"/>
<path d="M271.0 0h2.35" stroke="#12ff00"/>
<path d="M272.9 0h2.35" stroke="#0093ff"/>
<path d="M274.8 0h2.35" stroke="#5700e7"/>
<path d="M276.7 0h2.35" stroke="#7b009c"/>
<path d="M278.6 0h4.25" stroke="#78008a"/>
<path d="M282.4 0h4.25" stroke="#78008d"/>
<path d="M286.2 0h2.35" stroke="#78008a"/>
<path d="M288.1 0h2.35" stroke="#720081"/>
<path d="M290.0 0h2.35" stroke="#6f007b"/>
<path d="M291.9 0h2.35" stroke="#6c0075"/>
<path d="M293.8 0h2.35" stroke="#690072"/>
<path d="M295.7 0h2.35" stroke="#69006f"/>
<path d="M297.6 0h4.25" stroke="#69006c"/>
<path d="M301.4 0h2.35" stroke="#66006c"/>
<path d="M303.3 0h6.15" stroke="#660069"/>
</g>
<g transform="translate(0 248.68)" stroke-width="3.46">
<path d="M229.2 0h4.25" stroke="#660069"/>
<path d="M233.0 0h4.25" stroke="#69006c"/>
<path d="M236.8 0h2.35" stroke="#69006f"/>
<path d="M238.7 0h2.35" stroke="#6c0072"/>
<path d="M240.6 0h2.35" stroke="#6c0075"/>
<path d="M242.5 0h2.35" stroke="#72007e"/>
<path d="M244.4 0h2.35" stroke="#750087"/>
<path d="M246.3 0h2.35" stroke="#7b0093"/>
<path d="M248.2 0h2.35" stroke="#7b00a8"/>
<path d="M250.1 0h2.35" stroke="#7500ba"/>
<path d="M252.0 0h2.35" stroke="#7200c6"/>
<path d="M253.9 0h2.35" stroke="#7500c3"/>
<path d="M255.8 0h2.35" stroke="#7500bd"/>
<path d="M257.7 0h2.35" stroke="#7800b4"/>
<path d="M259.6 0h2.35" stroke="#7500ba"/>
<path d="M261.5 0h2.35" stroke="#5700e7"/>
<path d="M263.4 0h2.35" stroke="#0066ff"/>
<path d="M265.3 0h2.35" stroke="#00ff36"/>
<path d="M267.2 0h2.35" stroke="#c6ff00"/>
<path d="M269.1 0h2.35" stroke="#fff900"/>
<path d="M271.0 0h2.35" stroke="#d8ff00"/>
<path d="M272.9 0h2.35" stroke="#03ff00"/>
<path d="M274.8 0h2.35" stroke="#0084ff"/>
<path d="M276.7 0h2.35" stroke="#6000e4"/>
<path d="M278.6 0h2.35" stroke="#7b009c"/>
<path d="M280.5 0h4.25" stroke="#78008a"/>
<path d="M284.3 0h4.25" stroke="#78008d"/>
<path d="M288.1 0h2.35" stroke="#75008a"/>
<path d="M290.0 0h2.35" stroke="#720081"/>
<path d="M291.9 0h2.35" stroke="#6f007b"/>
<path d="M293.8 0h2.35" stroke="#6c0075"/>
<path d="M295.7 0h2.35" stroke="#690072"/>
<path d="M297.6 0h2.35" stroke="#69006f"/>
<path d="M299.5 0h4.25" stroke="#69006c"/>
<path d="M303.3 0h2.35" stroke="#66006c"/>
<path d="M305.2 0h6.15" stroke="#660069"/>
</g>
<g transform="translate(0 245.62)" stroke-width="3.46">
<path d="M181.7 0h13.75" stroke="#660069"/>
<path d="M195.0 0h4.25" stroke="#66006c"/>
<path d="M198.8 0h15.65" stroke="#69006c"/>
<path d="M214.0 0h9.95" stroke="#69006f"/>
<path d="M223.5 0h2.35" stroke="#690072"/>
<path d="M225.4 0h6.15" stroke="#6c0072"/>
<path d="M231.1 0h4.25" stroke="#6c0075"/>
<path d="M234.9 0h2.35" stroke="#6c0078"/>
<path d="M236.8 0h2.35" stroke="#6f0078"/>
<path d="M238.7 0h2.35" stroke="#6f007b"/>
<path d="M240.6 0h2.35" stroke="#72007e"/>
<path d="M242.5 0h2.35" stroke="#750084"/>
<path d="M244.4 0h2.35" stroke="#78008d"/>
<path d="M246.3 0h2.35" stroke="#7b009c"/>
<path d="M248.2 0h2.35" stroke="#7800b1"/>
<path d="M250.1 0h2.35" stroke="#7200c9"/>
<path d="M252.0 0h2.35" stroke="#6f00db"/>
<path d="M253.9 0h2.35" stroke="#6900e1"/>
<path d="M255.8 0h2.35" stroke="#6c00e1"/>
<path d="M257.7 0h2.35" stroke="#6f00db"/>
<path d="M259.6 0h2.35" stroke="#7200d2"/>
<path d="M261.5 0h2.35" stroke="#6f00db"/>
<path d="M263.4 0h2.35" stroke="#2100f6"/>
<path d="M265.3 0h2.35" stroke="#00bdff"/>
<path d="M267.2 0h2.35" stroke="#42ff00"/>
<path d="M269.1 0h2.35" stroke="#ffe700"/>
<path d="M271.0 0h2.35" stroke="#ff9c00"/>
<path d="M272.9 0h2.35" stroke="#ffd800"/>
<path d="M274.8 0h2.35" stroke="#69ff00"/>
<path d="M276.7 0h2.35" stroke="#00d2ff"/>
<path d="M278.6 0h2.35" stroke="#3000f3"/>
<path d="M280.5 0h2.35" stroke="#7800b7"/>
<path d="M282.4 0h4.25" stroke="#7b009f"/>
<path d="M286.2 0h4.25" stroke="#7b00a2"/>
<path d="M290.0 0h2.35" stroke="#7b009c"/>
<path d="M291.9 0h2.35" stroke="#7b0093"/>
<path d="M293.8 0h2.35" stroke="#78008a"/>
<path d="M295.7 0h2.35" stroke="#720084"/>
<path d="M297.6 0h2.35" stroke="#72007e"/>
<path d="M299.5 0h2.35" stroke="#6f007b"/>
<path d="M301.4 0h4.25" stroke="#6f0078"/>
<path d="M305.2 0h8.05" stroke="#6c0075"/>
<path d="M312.8 0h6.15" stroke="#6c0072"/>
<path d="M318.5 0h2.35" stroke="#690072"/>
<path d="M320.4 0h13.75" stroke="#69006f"/>
<path d="M333.7 0h15.65" stroke="#69006c"/>
<path d="M348.9 0h6.15" stroke="#66006c"/>
<path d="M354.6 0h15.65" stroke="#660069"/>
</g>
<g transform="translate(0 242.57)" stroke-width="3.46">
<path d="M229.2 0h4.25" stroke="#660069"/>
<path d="M233.0 0h2.35" stroke="#66006c"/>
<path d="M234.9 0h4.25" stroke="#69006c"/>
<path d="M238.7 0h2.35" stroke="#69006f"/>
<path d="M240.6 0h2.35" stroke="#690072"/>
<path d="M242.5 0h2.35" stroke="#6c0075"/>
<path d="M244.4 0h2.35" stroke="#6f007b"/>
<path d="M246.3 0h2.35" stroke="#720084"/>
<path d="M248.2 0h2.35" stroke="#780090"/>
<path d="M250.1 0h2.35" stroke="#7b00a2"/>
<path d="M252.0 0h2.35" stroke="#7800b4"/>
<path d="M253.9 0h2.35" stroke="#7500c3"/>
<path d="M255.8 0h2.35" stroke="#7200cc"/>
<path d="M257.7 0h2.35" stroke="#7200c9"/>
<path d="M259.6 0h2.35" stroke="#7500c3"/>
<path d="M261.5 0h2.35" stroke="#7500ba"/>
<path d="M263.4 0h2.35" stroke="#7500c3"/>
<path d="M265.3 0h2.35" stroke="#3f00ed"/>
<path d="M267.2 0h2.35" stroke="#0096ff"/>
<path d="M269.1 0h2.35" stroke="#18ff00"/>
<path d="M271.0 0h2.35" stroke="#f6ff00"/>
<path d="M272.9 0h2.35" stroke="#ffc300"/>
<path d="M274.8 0h2.35" stroke="#ffff00"/>
<path d="M276.7 0h2.35" stroke="#2dff00"/>
<path d="M278.6 0h2.35" stroke="#009cff"/>
<path d="M280.5 0h2.35" stroke="#5700e7"/>
<path d="M282.4 0h2.35" stroke="#7b009f"/>
<path d="M284.3 0h4.25" stroke="#78008d"/>
<path d="M288.1 0h4.25" stroke="#7b0090"/>
<path d="M291.9 0h2.35" stroke="#78008d"/>
<path d="M293.8 0h2.35" stroke="#750084"/>
<path d="M295.7 0h2.35" stroke="#6f007b"/>
<path d="M297.6 0h2.35" stroke="#6c0075"/>
<path d="M299.5 0h2.35" stroke="#6c0072"/>
<path d="M301.4 0h2.35" stroke="#69006f"/>
<path d="M303.3 0h6.15" stroke="#69006c"/>
<path d="M309.0 0h2.35" stroke="#66006c"/>
<path d="M310.9 0h6.15" stroke="#660069"/>
</g>
<g transform="translate(0 239.51)" stroke-width="3.46">
<path d="M233.0 0h4.25" stroke="#660069"/>
<path d="M236.8 0h4.25" stroke="#69006c"/>
<path d="M240.6 0h4.25" stroke="#69006f"/>
<path d="M244.4 0h2.35" stroke="#6c0075"/>
<path d="M246.3 0h2.35" stroke="#6f0078"/>
<path d="M248.2 0h2.35" stroke="#720081"/>
<path d="M250.1 0h2.35" stroke="#78008d"/>
<path d="M252.0 0h2.35" stroke="#7b009c"/>
<path d="M253.9 0h2.35" stroke="#7800ae"/>
<path d="M255.8 0h2.35" stroke="#7500ba"/>
<path d="M257.7 0h4.25" stroke="#7500c0"/>
<path d="M261.5 0h2.35" stroke="#7500ba"/>
<path d="M263.4 0h2.35" stroke="#7800b4"/>
<path d="M265.3 0h2.35" stroke="#7500bd"/>
<path d="M267.2 0h2.35" stroke="#4e00ea"/>
<path d="M269.1 0h2.35" stroke="#007bff"/>
<path d="M271.0 0h2.35" stroke="#00ff18"/>
<path d="M272.9 0h2.35" stroke="#d2ff00"/>
<path d="M274.8 0h2.35" stroke="#fff600"/>
<path d="M276.7 0h2.35" stroke="#d2ff00"/>
<path d="M278.6 0h2.35" stroke="#00ff15"/>
<path d="M280.5 0h2.35" stroke="#0072ff"/>
<path d="M282.4 0h2.35" stroke="#6900e1"/>
<path d="M284.3 0h2.35" stroke="#7b0099"/>
<path d="M286.2 0h4.25" stroke="#78008a"/>
<path d="M290.0 0h4.25" stroke="#78008d"/>
<path d="M293.8 0h2.35" stroke="#78008a"/>
<path d="M295.7 0h2.35" stroke="#720081"/>
<path d="M297.6 0h2.35" stroke="#6f007b"/>
<path d="M299.5 0h2.35" stroke="#6c0075"/>
<path d="M301.4 0h2.35" stroke="#690072"/>
<path d="M303.3 0h2.35" stroke="#69006f"/>
<path d="M305.2 0h4.25" stroke="#69006c"/>
<path d="M309.0 0h2.35" stroke="#66006c"/>
<path d="M310.9 0h6.15" stroke="#660069"/>
</g>
<g transform="translate(0 236.46)" stroke-width="3.46">
<path d="M185.5 0h13.75" stroke="#660069"/>
<path d="M198.8 0h4.25" stroke="#66006c"/>
<path d="M202.6 0h15.65" stroke="#69006c"/>
<path d="M217.8 0h9.95" stroke="#69006f"/>
<path d="M227.3 0h2.35" stroke="#690072"/>
<path d="M229.2 0h6.15" stroke="#6c0072"/>
<path d="M234.9 0h6.15" stroke="#6c0075"/>
<path d="M240.6 0h2.35" stroke="#6f0078"/>
<path d="M242.5 0h2.35" stroke="#6f007b"/>
<path d="M244.4 0h2.35" stroke="#72007e"/>
<path d="M246.3 0h2.35" stroke="#720081"/>
<path d="M248.2 0h2.35" stroke="#78008a"/>
<path d="M250.1 0h2.35" stroke="#7b0093"/>
<path d="M252.0 0h2.35" stroke="#7b00a5"/>
<path d="M253.9 0h2.35" stroke="#7800b7"/>
<path d="M255.8 0h2.35" stroke="#7200c9"/>
<path d="M257.7 0h2.35" stroke="#6f00d8"/>
<path d="M259.6 0h4.25" stroke="#6f00e1"/>
<path d="M263.4 0h2.35" stroke="#6f00d8"/>
<path d="M265.3 0h2.35" stroke="#7200d2"/>
<path d="M267.2 0h2.35" stroke="#6f00de"/>
<path d="M269.1 0h2.35" stroke="#1200f9"/>
<path d="M271.0 0h2.35" stroke="#00dbff"/>
<path d="M272.9 0h2.35" stroke="#63ff00"/>
<path d="M274.8 0h2.35" stroke="#ffd800"/>
<path d="M276.7 0h2.35" stroke="#ff9600"/>
<path d="M278.6 0h2.35" stroke="#ffdb00"/>
<path d="M280.5 0h2.35" stroke="#54ff00"/>
<path d="M282.4 0h2.35" stroke="#00bdff"/>
<path d="M284.3 0h2.35" stroke="#3c00f0"/>
<path d="M286.2 0h2.35" stroke="#7800b4"/>
<path d="M288.1 0h4.25" stroke="#7b009f"/>
<path d="M291.9 0h4.25" stroke="#7b00a5"/>
<path d="M295.7 0h2.35" stroke="#7b009c"/>
<path d="M297.6 0h2.35" stroke="#7b0093"/>
<path d="M299.5 0h2.35" stroke="#78008a"/>
<path d="M301.4 0h2.35" stroke="#750084"/>
<path d="M303.3 0h2.35" stroke="#72007e"/>
<path d="M305.2 0h2.35" stroke="#6f007b"/>
<path d="M307.1 0h4.25" stroke="#6f0078"/>
<path d="M310.9 0h2.35" stroke="#6c0078"/>
<path d="M312.8 0h6.15" stroke="#6c0075"/>
<path d="M318.5 0h8.05" stroke="#6c0072"/>
<path d="M326.1 0h2.35" stroke="#690072"/>
<path d="M328.0 0h11.85" stroke="#69006f"/>
<path d="M339.4 0h17.55" stroke="#69006c"/>
<path d="M356.5 0h4.25" stroke="#66006c"/>
<path d="M360.3 0h15.65" stroke="#660069"/>
</g>
<g transform="translate(0 233.40)" stroke-width="3.46">
<path d="M185.5 0h13.75" stroke="#660069"/>
<path d="M198.8 0h4.25" stroke="#66006c"/>
<path d="M202.6 0h15.65" stroke="#69006c"/>
<path d="M217.8 0h9.95" stroke="#69006f"/>
<path d="M227.3 0h2.35" stroke="#690072"/>
<path d="M229.2 0h6.15" stroke="#6c0072"/>
<path d="M234.9 0h6.15" stroke="#6c0075"/>
<path d="M240.6 0h2.35" stroke="#6f0078"/>
<path d="M242.5 0h4.25" stroke="#6f007b"/>
<path d="M246.3 0h2.35" stroke="#72007e"/>
<path d="M248.2 0h2.35" stroke="#750084"/>
<path d="M250.1 0h2.35" stroke="#78008d"/>
<path d="M252.0 0h2.35" stroke="#7e0096"/>
<path d="M253.9 0h2.35" stroke="#7b00a8"/>
<path d="M255.8 0h2.35" stroke="#7500ba"/>
<path d="M257.7 0h2.35" stroke="#7200cc"/>
<path d="M259.6 0h2.35" stroke="#6f00de"/>
<path d="M261.5 0h4.25" stroke="#6600e4"/>
<path d="M265.3 0h2.35" stroke="#6f00de"/>
<path d="M267.2 0h2.35" stroke="#6f00d8"/>
<path d="M269.1 0h2.35" stroke="#6900e1"/>
<path d="M271.0 0h2.35" stroke="#0300ff"/>
<path d="M272.9 0h2.35" stroke="#00fcff"/>
<path d="M274.8 0h2.35" stroke="#8dff00"/>
<path d="M276.7 0h2.35" stroke="#ffba00"/>
<path d="M278.6 0h2.35" stroke="#ff7800"/>
<path d="M280.5 0h2.35" stroke="#ffc600"/>
<path d="M282.4 0h2.35" stroke="#69ff00"/>
<path d="M284.3 0h2.35" stroke="#00c9ff"/>
<path d="M286.2 0h2.35" stroke="#3600f0"/>
<path d="M288.1 0h2.35" stroke="#7500b7"/>
<path d="M290.0 0h2.35" stroke="#7b00a2"/>
<path d="M291.9 0h2.35" stroke="#7b00a5"/>
<path d="M293.8 0h4.25" stroke="#7800a8"/>
<path d="M297.6 0h2.35" stroke="#7b009f"/>
<path d="M299.5 0h2.35" stroke="#7b0096"/>
<path d="M301.4 0h2.35" stroke="#78008d"/>
<path d="M303.3 0h2.35" stroke="#750084"/>
<path d="M305.2 0h2.35" stroke="#720081"/>
<path d="M307.1 0h4.25" stroke="#6f007b"/>
<path d="M310.9 0h4.25" stroke="#6f0078"/>
<path d="M314.7 0h8.05" stroke="#6c0075"/>
<path d="M322.3 0h8.05" stroke="#6c0072"/>
<path d="M329.9 0h2.35" stroke="#690072"/>
<path d="M331.8 0h13.75" stroke="#69006f"/>
<path d="M345.1 0h15.65" stroke="#69006c"/>
<path d="M360.3 0h4.25" stroke="#66006c"/>
<path d="M364.1 0h17.55" stroke="#660069"/>
</g>
<g transform="translate(0 230.35)" stroke-width="3.46">
<path d="M238.7 0h4.25" stroke="#660069"/>
<path d="M242.5 0h4.25" stroke="#69006c"/>
<path d="M246.3 0h2.35" stroke="#69006f"/>
<path d="M248.2 0h2.35" stroke="#690072"/>
<path d="M250.1 0h2.35" stroke="#6c0075"/>
<path d="M252.0 0h2.35" stroke="#6f007b"/>
<path d="M253.9 0h2.35" stroke="#720081"/>
<path d="M255.8 0h2.35" stroke="#78008a"/>
<path d="M257.7 0h2.35" stroke="#7b0096"/>
<path d="M259.6 0h2.35" stroke="#7b00a5"/>
<path d="M261.5 0h2.35" stroke="#7800b1"/>
<path d="M263.4 0h2.35" stroke="#7500b7"/>
<path d="M265.3 0h2.35" stroke="#7800b7"/>
<path d="M267.2 0h2.35" stroke="#7800b1"/>
<path d="M269.1 0h2.35" stroke="#7800ab"/>
<path d="M271.0 0h2.35" stroke="#7800b4"/>
<path d="M272.9 0h2.35" stroke="#5400e7"/>
<path d="M274.8 0h2.35" stroke="#006fff"/>
<path d="M276.7 0h2.35" stroke="#00ff3f"/>
<path d="M278.6 0h2.35" stroke="#b1ff00"/>
<path d="M280.5 0h2.35" stroke="#dbff00"/>
<path d="M282.4 0h2.35" stroke="#a2ff00"/>
<path d="M284.3 0h2.35" stroke="#00ff72"/>
<path d="M286.2 0h2.35" stroke="#0042ff"/>
<path d="M288.1 0h2.35" stroke="#7200d2"/>
<path d="M290.0 0h2.35" stroke="#7b0093"/>
<path d="M291.9 0h4.25" stroke="#750087"/>
<path d="M295.7 0h4.25" stroke="#78008a"/>
<path d="M299.5 0h2.35" stroke="#750087"/>
<path d="M301.4 0h2.35" stroke="#72007e"/>
<path d="M303.3 0h2.35" stroke="#6f0078"/>
<path d="M305.2 0h2.35" stroke="#6c0072"/>
<path d="M307.1 0h2.35" stroke="#69006f"/>
<path d="M309.0 0h6.15" stroke="#69006c"/>
<path d="M314.7 0h6.15" stroke="#660069"/>
</g>
<g transform="translate(0 227.29)" stroke-width="3.46">
<path d="M236.8 0h4.25" stroke="#660069"/>
<path d="M240.6 0h2.35" stroke="#66006c"/>
<path d="M242.5 0h4.25" stroke="#69006c"/>
<path d="M246.3 0h4.25" stroke="#69006f"/>
<path d="M250.1 0h2.35" stroke="#6c0075"/>
<path d="M252.0 0h2.35" stroke="#6f0078"/>
<path d="M253.9 0h2.35" stroke="#72007e"/>
<path d="M255.8 0h2.35" stroke="#750084"/>
<path d="M257.7 0h2.35" stroke="#7b0090"/>
<path d="M259.6 0h2.35" stroke="#7b009c"/>
<path d="M261.5 0h2.35" stroke="#7800ae"/>
<path d="M263.4 0h2.35" stroke="#7500bd"/>
<path d="M265.3 0h4.25" stroke="#7500c3"/>
<path d="M269.1 0h2.35" stroke="#7500bd"/>
<path d="M271.0 0h2.35" stroke="#7800b4"/>
<path d="M272.9 0h2.35" stroke="#7500c3"/>
<path d="M274.8 0h2.35" stroke="#3600f0"/>
<path d="M276.7 0h2.35" stroke="#00abff"/>
<path d="M278.6 0h2.35" stroke="#24ff00"/>
<path d="M280.5 0h2.35" stroke="#edff00"/>
<path d="M282.4 0h2.35" stroke="#ffe100"/>
<path d="M284.3 0h2.35" stroke="#d8ff00"/>
<path d="M286.2 0h2.35" stroke="#00ff21"/>
<path d="M288.1 0h2.35" stroke="#0066ff"/>
<path d="M290.0 0h2.35" stroke="#6f00de"/>
<path d="M291.9 0h2.35" stroke="#7b0099"/>
<path d="M293.8 0h4.25" stroke="#78008d"/>
<path d="M297.6 0h4.25" stroke="#7b0090"/>
<path d="M301.4 0h2.35" stroke="#78008a"/>
<path d="M303.3 0h2.35" stroke="#720084"/>
<path d="M305.2 0h2.35" stroke="#6f007b"/>
<path d="M307.1 0h2.35" stroke="#6c0075"/>
<path d="M309.0 0h2.35" stroke="#6c0072"/>
<path d="M310.9 0h2.35" stroke="#69006f"/>
<path d="M312.8 0h6.15" stroke="#69006c"/>
<path d="M318.5 0h2.35" stroke="#66006c"/>
<path d="M320.4 0h6.15" stroke="#660069"/>
</g>
<g transform="translate(0 224.24)" stroke-width="3.46">
<path d="M191.2 0h15.65" stroke="#660069"/>
<path d="M206.4 0h4.25" stroke="#66006c"/>
<path d="M210.2 0h13.75" stroke="#69006c"/>
<path d="M223.5 0h11.85" stroke="#69006f"/>
<path d="M234.9 0h6.15" stroke="#6c0072"/>
<path d="M240.6 0h6.15" stroke="#6c0075"/>
<path d="M246.3 0h2.35" stroke="#6f0078"/>
<path d="M248.2 0h2.35" stroke="#6f007b"/>
<path d="M250.1 0h2.35" stroke="#72007e"/>
<path d="M252.0 0h2.35" stroke="#720081"/>
<path d="M253.9 0h2.35" stroke="#750084"/>
<path d="M255.8 0h2.35" stroke="#78008a"/>
<path d="M257.7 0h2.35" stroke="#7b0093"/>
<path d="M259.6 0h2.35" stroke="#7b00a2"/>
<path d="M261.5 0h2.35" stroke="#7800b7"/>
<path d="M263.4 0h2.35" stroke="#7200c9"/>
<path d="M265.3 0h2.35" stroke="#6f00d8"/>
<path d="M267.2 0h4.25" stroke="#6f00e1"/>
<path d="M271.0 0h2.35" stroke="#6f00d8"/>
<path d="M272.9 0h2.35" stroke="#7200d2"/>
<path d="M274.8 0h2.35" stroke="#6c00e1"/>
<path d="M276.7 0h2.35" stroke="#0003ff"/>
<path d="M278.6 0h2.35" stroke="#00fff9"/>
<path d="M280.5 0h2.35" stroke="#8dff00"/>
<path d="M282.4 0h2.35" stroke="#ffc600"/>
<path d="M284.3 0h2.35" stroke="#ff9300"/>
<path d="M286.2 0h2.35" stroke="#ffe700"/>
<path d="M288.1 0h2.35" stroke="#39ff00"/>
<path d="M290.0 0h2.35" stroke="#00a2ff"/>
<path d="M291.9 0h2.35" stroke="#4800ed"/>
<path d="M293.8 0h2.35" stroke="#7800b1"/>
<path d="M295.7 0h4.25" stroke="#7b00a2"/>
<path d="M299.5 0h2.35" stroke="#7b00a8"/>
<path d="M301.4 0h2.35" stroke="#7b00a5"/>
<path d="M303.3 0h2.35" stroke="#7b009c"/>
<path d="M305.2 0h2.35" stroke="#7b0093"/>
<path d="M307.1 0h2.35" stroke="#78008a"/>
<path d="M309.0 0h2.35" stroke="#750084"/>
<path d="M310.9 0h2.35" stroke="#72007e"/>
<path d="M312.8 0h2.35" stroke="#6f007b"/>
<path d="M314.7 0h4.25" stroke="#6f0078"/>
<path d="M318.5 0h2.35" stroke="#6c0078"/>
<path d="M320.4 0h6.15" stroke="#6c0075"/>
<path d="M326.1 0h8.05" stroke="#6c0072"/>
<path d="M333.7 0h2.35" stroke="#690072"/>
<path d="M335.6 0h13.75" stroke="#69006f"/>
<path d="M348.9 0h15.65" stroke="#69006c"/>
<path d="M364.1 0h4.25" stroke="#66006c"/>
<path d="M367.9 0h17.55" stroke="#660069"/>
</g>
<g transform="translate(0 221.18)" stroke-width="3.46">
<path d="M183.6 0h15.65" stroke="#660069"/>
<path d="M198.8 0h4.25" stroke="#66006c"/>
<path d="M202.6 0h15.65" stroke="#69006c"/>
<path d="M217.8 0h11.85" stroke="#69006f"/>
<path d="M229.2 0h2.35" stroke="#690072"/>
<path d="M231.1 0h6.15" stroke="#6c0072"/>
<path d="M236.8 0h6.15" stroke="#6c0075"/>
<path d="M242.5 0h2.35" stroke="#6c0078"/>
<path d="M244.4 0h2.35" stroke="#6f0078"/>
<path d="M246.3 0h4.25" stroke="#6f007b"/>
<path d="M250.1 0h2.35" stroke="#72007e"/>
<path d="M252.0 0h2.35" stroke="#720081"/>
<path d="M253.9 0h2.35" stroke="#750084"/>
<path d="M255.8 0h2.35" stroke="#78008a"/>
<path d="M257.7 0h2.35" stroke="#7b0090"/>
<path d="M259.6 0h2.35" stroke="#7b009f"/>
<path d="M261.5 0h2.35" stroke="#7800b1"/>
<path d="M263.4 0h2.35" stroke="#7200c6"/>
<path d="M265.3 0h2.35" stroke="#6f00db"/>
<path d="M267.2 0h2.35" stroke="#5d00e4"/>
<path d="M269.1 0h2.35" stroke="#5100ea"/>
<path d="M271.0 0h2.35" stroke="#5400e7"/>
<path d="M272.9 0h2.35" stroke="#6000e4"/>
<path d="M274.8 0h2.35" stroke="#6900e4"/>
<path d="M276.7 0h2.35" stroke="#4e00ea"/>
<path d="M278.6 0h2.35" stroke="#0030ff"/>
<path d="M280.5 0h2.35" stroke="#00ff8d"/>
<path d="M282.4 0h2.35" stroke="#deff00"/>
<path d="M284.3 0h2.35" stroke="#ff5a00"/>
<path d="M286.2 0h2.35" stroke="#ff1800"/>
<path d="M288.1 0h2.35" stroke="#ff8d00"/>
<path d="M290.0 0h2.35" stroke="#9fff00"/>
<path d="M291.9 0h2.35" stroke="#00e7ff"/>
<path d="M293.8 0h2.35" stroke="#2700f3"/>
<path d="M295.7 0h2.35" stroke="#7500c0"/>
<path d="M297.6 0h4.25" stroke="#7800ae"/>
<path d="M301.4 0h4.25" stroke="#7800b4"/>
<path d="M305.2 0h2.35" stroke="#7800a8"/>
<path d="M307.1 0h2.35" stroke="#7b009c"/>
<path d="M309.0 0h2.35" stroke="#7b0090"/>
<path d="M310.9 0h2.35" stroke="#750087"/>
<path d="M312.8 0h2.35" stroke="#720084"/>
<path d="M314.7 0h2.35" stroke="#72007e"/>
<path d="M316.6 0h2.35" stroke="#6f007e"/>
<path d="M318.5 0h4.25" stroke="#6f007b"/>
<path d="M322.3 0h4.25" stroke="#6f0078"/>
<path d="M326.1 0h2.35" stroke="#6c0078"/>
<path d="M328.0 0h8.05" stroke="#6c0075"/>
<path d="M335.6 0h8.05" stroke="#6c0072"/>
<path d="M343.2 0h2.35" stroke="#690072"/>
<path d="M345.1 0h13.75" stroke="#69006f"/>
<path d="M358.4 0h17.55" stroke="#69006c"/>
<path d="M375.5 0h4.25" stroke="#66006c"/>
<path d="M379.3 0h17.55" stroke="#660069"/>
</g>
<g transform="translate(0 218.13)" stroke-width="3.46">
<path d="M242.5 0h4.25" stroke="#660069"/>
<path d="M246.3 0h2.35" stroke="#66006c"/>
<path d="M248.2 0h4.25" stroke="#69006c"/>
<path d="M252.0 0h4.25" stroke="#69006f"/>
<path d="M255.8 0h2.35" stroke="#6c0072"/>
<path d="M257.7 0h2.35" stroke="#6c0075"/>
<path d="M259.6 0h2.35" stroke="#6f007b"/>
<path d="M261.5 0h2.35" stroke="#720081"/>
<path d="M263.4 0h2.35" stroke="#78008a"/>
<path d="M265.3 0h2.35" stroke="#7e0096"/>
<path d="M267.2 0h2.35" stroke="#7b00a5"/>
<path d="M269.1 0h2.35" stroke="#7800b1"/>
<path d="M271.0 0h4.25" stroke="#7500b7"/>
<path d="M274.8 0h2.35" stroke="#7800b1"/>
<path d="M276.7 0h2.35" stroke="#7800ab"/>
<path d="M278.6 0h2.35" stroke="#7500ba"/>
<path d="M280.5 0h2.35" stroke="#4200ed"/>
<path d="M282.4 0h2.35" stroke="#0093ff"/>
<path d="M284.3 0h2.35" stroke="#00ff0f"/>
<path d="M286.2 0h2.35" stroke="#c0ff00"/>
<path d="M288.1 0h2.35" stroke="#e4ff00"/>
<path d="M290.0 0h2.35" stroke="#a2ff00"/>
<path d="M291.9 0h2.35" stroke="#00ff7e"/>
<path d="M293.8 0h2.35" stroke="#0036ff"/>
<path d="M295.7 0h2.35" stroke="#7200cc"/>
<path d="M297.6 0h2.35" stroke="#7b0093"/>
<path d="M299.5 0h2.35" stroke="#750087"/>
<path d="M301.4 0h2.35" stroke="#78008a"/>
<path d="M303.3 0h4.25" stroke="#78008d"/>
<path d="M307.1 0h2.35" stroke="#750087"/>
<path d="M309.0 0h2.35" stroke="#720081"/>
<path d="M310.9 0h2.35" stroke="#6f0078"/>
<path d="M312.8 0h2.35" stroke="#6c0075"/>
<path d="M314.7 0h4.25" stroke="#69006f"/>
<path d="M318.5 0h4.25" stroke="#69006c"/>
<path d="M322.3 0h2.35" stroke="#66006c"/>
<path d="M324.2 0h6.15" stroke="#660069"/>
</g>
<g transform="translate(0 215.07)" stroke-width="3.46">
<path d="M196.9 0h15.65" stroke="#660069"/>
<path d="M212.1 0h4.25" stroke="#66006c"/>
<path d="M215.9 0h13.75" stroke="#69006c"/>
<path d="M229.2 0h9.95" stroke="#69006f"/>
<path d="M238.7 0h2.35" stroke="#690072"/>
<path d="M240.6 0h6.15" stroke="#6c0072"/>
<path d="M246.3 0h4.25" stroke="#6c0075"/>
<path d="M250.1 0h4.25" stroke="#6f0078"/>
<path d="M253.9 0h4.25" stroke="#6f007b"/>
<path d="M257.7 0h2.35" stroke="#72007e"/>
<path d="M259.6 0h2.35" stroke="#750084"/>
<path d="M261.5 0h2.35" stroke="#78008a"/>
<path d="M263.4 0h2.35" stroke="#7b0093"/>
<path d="M265.3 0h2.35" stroke="#7b00a2"/>
<path d="M267.2 0h2.35" stroke="#7800b4"/>
<path d="M269.1 0h2.35" stroke="#7200c6"/>
<path d="M271.0 0h2.35" stroke="#6f00d5"/>
<path d="M272.9 0h2.35" stroke="#6f00de"/>
<path d="M274.8 0h2.35" stroke="#6f00db"/>
<path d="M276.7 0h2.35" stroke="#7200d5"/>
<path d="M278.6 0h2.35" stroke="#7200cf"/>
<path d="M280.5 0h2.35" stroke="#6c00e1"/>
<path d="M282.4 0h2.35" stroke="#0009ff"/>
<path d="M284.3 0h2.35" stroke="#00ffed"/>
<path d="M286.2 0h2.35" stroke="#90ff00"/>
<path d="M288.1 0h2.35" stroke="#ffcf00"/>
<path d="M290.0 0h2.35" stroke="#ffa500"/>
<path d="M291.9 0h2.35" stroke="#fffc00"/>
<path d="M293.8 0h2.35" stroke="#12ff00"/>
<path d="M295.7 0h2.35" stroke="#0084ff"/>
<path d="M297.6 0h2.35" stroke="#5700e7"/>
<path d="M299.5 0h2.35" stroke="#7800ae"/>
<path d="M301.4 0h2.35" stroke="#7b009f"/>
<path d="M303.3 0h2.35" stroke="#7b00a2"/>
<path d="M305.2 0h4.25" stroke="#7b00a5"/>
<path d="M309.0 0h2.35" stroke="#7b009c"/>
<path d="M310.9 0h2.35" stroke="#7b0093"/>
<path d="M312.8 0h2.35" stroke="#78008a"/>
<path d="M314.7 0h2.35" stroke="#720084"/>
<path d="M316.6 0h2.35" stroke="#72007e"/>
<path d="M318.5 0h2.35" stroke="#6f007b"/>
<path d="M320.4 0h4.25" stroke="#6f0078"/>
<path d="M324.2 0h8.05" stroke="#6c0075"/>
<path d="M331.8 0h8.05" stroke="#6c0072"/>
<path d="M339.4 0h2.35" stroke="#690072"/>
<path d="M341.3 0h11.85" stroke="#69006f"/>
<path d="M352.7 0h17.55" stroke="#69006c"/>
<path d="M369.8 0h4.25" stroke="#66006c"/>
<path d="M373.6 0h15.65" stroke="#660069"/>
</g>
<g transform="translate(0 212.02)" stroke-width="3.46">
<path d="M242.5 0h4.25" stroke="#660069"/>
<path d="M246.3 0h2.35" stroke="#66006c"/>
<path d="M248.2 0h4.25" stroke="#69006c"/>
<path d="M252.0 0h6.15" stroke="#69006f"/>
<path d="M257.7 0h2.35" stroke="#6c0072"/>
<path d="M259.6 0h2.35" stroke="#6c0075"/>
<path d="M261.5 0h2.35" stroke="#6f0078"/>
<path d="M263.4 0h2.35" stroke="#72007e"/>
<path d="M265.3 0h2.35" stroke="#750087"/>
<path d="M267.2 0h2.35" stroke="#7b0093"/>
<path d="M269.1 0h2.35" stroke="#7b00a2"/>
<path d="M271.0 0h2.35" stroke="#7800b4"/>
<path d="M272.9 0h2.35" stroke="#7500c3"/>
<path d="M274.8 0h4.25" stroke="#7200c9"/>
<path d="M278.6 0h2.35" stroke="#7500c0"/>
<path d="M280.5 0h2.35" stroke="#7500ba"/>
<path d="M282.4 0h2.35" stroke="#7200cf"/>
<path d="M284.3 0h2.35" stroke="#0f00fc"/>
<path d="M286.2 0h2.35" stroke="#00f6ff"/>
<path d="M288.1 0h2.35" stroke="#75ff00"/>
<path d="M290.0 0h2.35" stroke="#ffe100"/>
<path d="M291.9 0h2.35" stroke="#ffba00"/>
<path d="M293.8 0h2.35" stroke="#eaff00"/>
<path d="M295.7 0h2.35" stroke="#00ff18"/>
<path d="M297.6 0h2.35" stroke="#0063ff"/>
<path d="M299.5 0h2.35" stroke="#6f00de"/>
<path d="M301.4 0h2.35" stroke="#7b0099"/>
<path d="M303.3 0h2.35" stroke="#780090"/>
<path d="M305.2 0h2.35" stroke="#7b0090"/>
<path d="M307.1 0h4.25" stroke="#7b0093"/>
<path d="M310.9 0h2.35" stroke="#78008d"/>
<path d="M312.8 0h2.35" stroke="#750084"/>
<path d="M314.7 0h2.35" stroke="#6f007b"/>
<path d="M316.6 0h2.35" stroke="#6c0075"/>
<path d="M318.5 0h2.35" stroke="#6c0072"/>
<path d="M320.4 0h4.25" stroke="#69006f"/>
<path d="M324.2 0h6.15" stroke="#69006c"/>
<path d="M329.9 0h8.05" stroke="#660069"/>
</g>
<g transform="translate(0 208.96)" stroke-width="3.46">
<path d="M198.8 0h13.75" stroke="#660069"/>
<path d="M212.1 0h4.25" stroke="#66006c"/>
<path d="M215.9 0h13.75" stroke="#69006c"/>
<path d="M229.2 0h11.85" stroke="#69006f"/>
<path d="M240.6 0h2.35" stroke="#690072"/>
<path d="M242.5 0h4.25" stroke="#6c0072"/>
<path d="M246.3 0h6.15" stroke="#6c0075"/>
<path d="M252.0 0h4.25" stroke="#6f0078"/>
<path d="M255.8 0h4.25" stroke="#6f007b"/>
<path d="M259.6 0h2.35" stroke="#72007e"/>
<path d="M261.5 0h2.35" stroke="#720081"/>
<path d="M263.4 0h2.35" stroke="#750087"/>
<path d="M265.3 0h2.35" stroke="#78008d"/>
<path d="M267.2 0h2.35" stroke="#7e0096"/>
<path d="M269.1 0h2.35" stroke="#7b00a5"/>
<path d="M271.0 0h2.35" stroke="#7500ba"/>
<path d="M272.9 0h2.35" stroke="#7200cc"/>
<path d="M274.8 0h2.35" stroke="#6f00db"/>
<path d="M276.7 0h2.35" stroke="#6c00e1"/>
<path d="M278.6 0h2.35" stroke="#6f00e1"/>
<path d="M280.5 0h2.35" stroke="#6f00d8"/>
<path d="M282.4 0h2.35" stroke="#7200d2"/>
<path d="M284.3 0h2.35" stroke="#6300e4"/>
<path d="M286.2 0h2.35" stroke="#001bff"/>
<path d="M288.1 0h2.35" stroke="#00ffbd"/>
<path d="M290.0 0h2.35" stroke="#b4ff00"/>
<path d="M291.9 0h2.35" stroke="#ffab00"/>
<path d="M293.8 0h2.35" stroke="#ff8400"/>
<path d="M295.7 0h2.35" stroke="#ffea00"/>
<path d="M297.6 0h2.35" stroke="#21ff00"/>
<path d="M299.5 0h2.35" stroke="#008aff"/>
<path d="M301.4 0h2.35" stroke="#5400e7"/>
<path d="M303.3 0h2.35" stroke="#7800b1"/>
<path d="M305.2 0h2.35" stroke="#7b00a2"/>
<path d="M307.1 0h2.35" stroke="#7b00a5"/>
<path d="M309.0 0h4.25" stroke="#7800a8"/>
<path d="M312.8 0h2.35" stroke="#7b009f"/>
<path d="M314.7 0h2.35" stroke="#7b0093"/>
<path d="M316.6 0h2.35" stroke="#78008a"/>
<path d="M318.5 0h2.35" stroke="#750084"/>
<path d="M320.4 0h2.35" stroke="#72007e"/>
<path d="M322.3 0h4.25" stroke="#6f007b"/>
<path d="M326.1 0h4.25" stroke="#6f0078"/>
<path d="M329.9 0h8.05" stroke="#6c0075"/>
<path d="M337.5 0h8.05" stroke="#6c0072"/>
<path d="M345.1 0h2.35" stroke="#690072"/>
<path d="M347.0 0h13.75" stroke="#69006f"/>
<path d="M360.3 0h15.65" stroke="#69006c"/>
<path d="M375.5 0h4.25" stroke="#66006c"/>
<path d="M379.3 0h17.55" stroke="#660069"/>
</g>
<g transform="translate(0 205.91)" stroke-width="3.46">
<path d="M246.3 0h4.25" stroke="#660069"/>
<path d="M250.1 0h2.35" stroke="#66006c"/>
<path d="M252.0 0h6.15" stroke="#69006c"/>
<path d="M257.7 0h4.25" stroke="#69006f"/>
<path d="M261.5 0h2.35" stroke="#690072"/>
<path d="M263.4 0h2.35" stroke="#6c0075"/>
<path d="M265.3 0h2.35" stroke="#6f0078"/>
<path d="M267.2 0h2.35" stroke="#72007e"/>
<path d="M269.1 0h2.35" stroke="#750087"/>
<path d="M271.0 0h2.35" stroke="#7b0090"/>
<path d="M272.9 0h2.35" stroke="#7b009f"/>
<path d="M274.8 0h2.35" stroke="#7800b1"/>
<path d="M276.7 0h2.35" stroke="#7500bd"/>
<path d="M278.6 0h4.25" stroke="#7500c3"/>
<path d="M282.4 0h2.35" stroke="#7500ba"/>
<path d="M284.3 0h2.35" stroke="#7800b7"/>
<path d="M286.2 0h2.35" stroke="#7200cc"/>
<path d="M288.1 0h2.35" stroke="#1200f9"/>
<path d="M290.0 0h2.35" stroke="#00f0ff"/>
<path d="M291.9 0h2.35" stroke="#69ff00"/>
<path d="M293.8 0h2.35" stroke="#fff300"/>
<path d="M295.7 0h2.35" stroke="#ffd500"/>
<path d="M297.6 0h2.35" stroke="#d2ff00"/>
<path d="M299.5 0h2.35" stroke="#00ff48"/>
<path d="M301.4 0h2.35" stroke="#0048ff"/>
<path d="M303.3 0h2.35" stroke="#7200d2"/>
<path d="M305.2 0h2.35" stroke="#7e0096"/>
<path d="M307.1 0h2.35" stroke="#78008d"/>
<path d="M309.0 0h2.35" stroke="#7b0090"/>
<path d="M310.9 0h2.35" stroke="#7b0093"/>
<path d="M312.8 0h2.35" stroke="#7b0090"/>
<path d="M314.7 0h2.35" stroke="#78008a"/>
<path d="M316.6 0h2.35" stroke="#720084"/>
<path d="M318.5 0h2.35" stroke="#6f007b"/>
<path d="M320.4 0h2.35" stroke="#6c0075"/>
<path d="M322.3 0h2.35" stroke="#6c0072"/>
<path d="M324.2 0h2.35" stroke="#69006f"/>
<path d="M326.1 0h6.15" stroke="#69006c"/>
<path d="M331.8 0h2.35" stroke="#66006c"/>
<path d="M333.7 0h6.15" stroke="#660069"/>
</g>
<g transform="translate(0 202.85)" stroke-width="3.46">
<path d="M246.3 0h4.25" stroke="#660069"/>
<path d="M250.1 0h2.35" stroke="#66006c"/>
<path d="M252.0 0h8.05" stroke="#69006c"/>
<path d="M259.6 0h4.25" stroke="#69006f"/>
<path d="M263.4 0h2.35" stroke="#6c0072"/>
<path d="M265.3 0h2.35" stroke="#6c0075"/>
<path d="M267.2 0h2.35" stroke="#6f0078"/>
<path d="M269.1 0h2.35" stroke="#72007e"/>
<path d="M271.0 0h2.35" stroke="#750087"/>
<path d="M272.9 0h2.35" stroke="#7b0093"/>
<path d="M274.8 0h2.35" stroke="#7b00a2"/>
<path d="M276.7 0h2.35" stroke="#7800b4"/>
<path d="M278.6 0h2.35" stroke="#7500c0"/>
<path d="M280.5 0h2.35" stroke="#7200c6"/>
<path d="M282.4 0h2.35" stroke="#7500c3"/>
<path d="M284.3 0h2.35" stroke="#7500bd"/>
<path d="M286.2 0h2.35" stroke="#7500b7"/>
<path d="M288.1 0h2.35" stroke="#7200cf"/>
<path d="M290.0 0h2.35" stroke="#0600fc"/>
<path d="M291.9 0h2.35" stroke="#00fff3"/>
<path d="M293.8 0h2.35" stroke="#87ff00"/>
<path d="M295.7 0h2.35" stroke="#ffe100"/>
<path d="M297.6 0h2.35" stroke="#ffc300"/>
<path d="M299.5 0h2.35" stroke="#dbff00"/>
<path d="M301.4 0h2.35" stroke="#00ff3f"/>
<path d="M303.3 0h2.35" stroke="#004bff"/>
<path d="M305.2 0h2.35" stroke="#7200d5"/>
<path d="M307.1 0h2.35" stroke="#7e0096"/>
<path d="M309.0 0h2.35" stroke="#78008d"/>
<path d="M310.9 0h2.35" stroke="#7b0090"/>
<path d="M312.8 0h4.25" stroke="#7b0093"/>
<path d="M316.6 0h2.35" stroke="#78008d"/>
<path d="M318.5 0h2.35" stroke="#750084"/>
<path d="M320.4 0h2.35" stroke="#6f007b"/>
<path d="M322.3 0h2.35" stroke="#6c0075"/>
<path d="M324.2 0h2.35" stroke="#6c0072"/>
<path d="M326.1 0h2.35" stroke="#69006f"/>
<path d="M328.0 0h6.15" stroke="#69006c"/>
<path d="M333.7 0h2.35" stroke="#66006c"/>
<path d="M335.6 0h6.15" stroke="#660069"/>
</g>
<g transform="translate(0 199.80)" stroke-width="3.46">
<path d="M204.5 0h15.65" stroke="#660069"/>
<path d="M219.7 0h4.25" stroke="#66006c"/>
<path d="M223.5 0h13.75" stroke="#69006c"/>
<path d="M236.8 0h9.95" stroke="#69006f"/>
<path d="M246.3 0h6.15" stroke="#6c0072"/>
<path d="M252.0 0h8.05" stroke="#6c0075"/>
<path d="M259.6 0h4.25" stroke="#6f0078"/>
<path d="M263.4 0h2.35" stroke="#6f007b"/>
<path d="M265.3 0h2.35" stroke="#6f007e"/>
<path d="M267.2 0h2.35" stroke="#720081"/>
<path d="M269.1 0h2.35" stroke="#750084"/>
<path d="M271.0 0h2.35" stroke="#78008d"/>
<path d="M272.9 0h2.35" stroke="#7e0096"/>
<path d="M274.8 0h2.35" stroke="#7b00a5"/>
<path d="M276.7 0h2.35" stroke="#7500b7"/>
<path d="M278.6 0h2.35" stroke="#7200c9"/>
<path d="M280.5 0h2.35" stroke="#6f00d8"/>
<path d="M282.4 0h2.35" stroke="#6f00de"/>
<path d="M284.3 0h2.35" stroke="#6f00db"/>
<path d="M286.2 0h2.35" stroke="#7200d2"/>
<path d="M288.1 0h2.35" stroke="#7200cf"/>
<path d="M290.0 0h2.35" stroke="#6300e4"/>
<path d="M291.9 0h2.35" stroke="#0024ff"/>
<path d="M293.8 0h2.35" stroke="#00ffab"/>
<path d="M295.7 0h2.35" stroke="#b7ff00"/>
<path d="M297.6 0h2.35" stroke="#ffb400"/>
<path d="M299.5 0h2.35" stroke="#ff9900"/>
<path d="M301.4 0h2.35" stroke="#fcff00"/>
<path d="M303.3 0h2.35" stroke="#00ff09"/>
<path d="M305.2 0h2.35" stroke="#006cff"/>
<path d="M307.1 0h2.35" stroke="#6000e4"/>
<path d="M309.0 0h2.35" stroke="#7800ae"/>
<path d="M310.9 0h2.35" stroke="#7b00a2"/>
<path d="M312.8 0h2.35" stroke="#7b00a5"/>
<path d="M314.7 0h2.35" stroke="#7800a8"/>
<path d="M316.6 0h2.35" stroke="#7b00a5"/>
<path d="M318.5 0h2.35" stroke="#7b009c"/>
<path d="M320.4 0h2.35" stroke="#7b0093"/>
<path d="M322.3 0h2.35" stroke="#78008a"/>
<path d="M324.2 0h2.35" stroke="#720084"/>
<path d="M326.1 0h2.35" stroke="#72007e"/>
<path d="M328.0 0h2.35" stroke="#6f007b"/>
<path d="M329.9 0h4.25" stroke="#6f0078"/>
<path d="M333.7 0h2.35" stroke="#6c0078"/>
<path d="M335.6 0h6.15" stroke="#6c0075"/>
<path d="M341.3 0h8.05" stroke="#6c0072"/>
<path d="M348.9 0h2.35" stroke="#690072"/>
<path d="M350.8 0h13.75" stroke="#69006f"/>
<path d="M364.1 0h15.65" stroke="#69006c"/>
<path d="M379.3 0h4.25" stroke="#66006c"/>
<path d="M383.1 0h17.55" stroke="#660069"/>
</g>
<g transform="translate(0 196.74)" stroke-width="3.46">
<path d="M250.1 0h8.05" stroke="#660069"/>
<path d="M257.7 0h2.35" stroke="#66006c"/>
<path d="M259.6 0h6.15" stroke="#69006c"/>
<path d="M265.3 0h4.25" stroke="#69006f"/>
<path d="M269.1 0h2.35" stroke="#6c0072"/>
<path d="M271.0 0h2.35" stroke="#6c0078"/>
<path d="M272.9 0h2.35" stroke="#6f007e"/>
<path d="M274.8 0h2.35" stroke="#750084"/>
<path d="M276.7 0h2.35" stroke="#7b0090"/>
<path d="M278.6 0h2.35" stroke="#7b009c"/>
<path d="M280.5 0h2.35" stroke="#7800ab"/>
<path d="M282.4 0h2.35" stroke="#7500b7"/>
<path d="M284.3 0h2.35" stroke="#7500bd"/>
<path d="M286.2 0h2.35" stroke="#7500ba"/>
<path d="M288.1 0h2.35" stroke="#7800b4"/>
<path d="M290.0 0h2.35" stroke="#7800b1"/>
<path d="M291.9 0h2.35" stroke="#7200c9"/>
<path d="M293.8 0h2.35" stroke="#1200f9"/>
<path d="M295.7 0h2.35" stroke="#00edff"/>
<path d="M297.6 0h2.35" stroke="#57ff00"/>
<path d="M299.5 0h2.35" stroke="#f3ff00"/>
<path d="M301.4 0h2.35" stroke="#fff900"/>
<path d="M303.3 0h2.35" stroke="#aeff00"/>
<path d="M305.2 0h2.35" stroke="#00ff8a"/>
<path d="M307.1 0h2.35" stroke="#0027ff"/>
<path d="M309.0 0h2.35" stroke="#7200c6"/>
<path d="M310.9 0h2.35" stroke="#7b0093"/>
<path d="M312.8 0h2.35" stroke="#78008a"/>
<path d="M314.7 0h2.35" stroke="#78008d"/>
<path d="M316.6 0h2.35" stroke="#7b0090"/>
<path d="M318.5 0h2.35" stroke="#78008d"/>
<path d="M320.4 0h2.35" stroke="#750087"/>
<path d="M322.3 0h2.35" stroke="#720081"/>
<path d="M324.2 0h2.35" stroke="#6f007b"/>
<path d="M326.1 0h2.35" stroke="#6c0075"/>
<path d="M328.0 0h4.25" stroke="#69006f"/>
<path d="M331.8 0h4.25" stroke="#69006c"/>
<path d="M335.6 0h2.35" stroke="#66006c"/>
<path d="M337.5 0h6.15" stroke="#660069"/>
</g>
<g transform="translate(0 193.69)" stroke-width="3.46">
<path d="M252.0 0h8.05" stroke="#660069"/>
<path d="M259.6 0h2.35" stroke="#66006c"/>
<path d="M261.5 0h6.15" stroke="#69006c"/>
<path d="M267.2 0h4.25" stroke="#69006f"/>
<path d="M271.0 0h2.35" stroke="#6c0072"/>
<path d="M272.9 0h2.35" stroke="#6c0075"/>
<path d="M274.8 0h2.35" stroke="#6f007b"/>
<path d="M276.7 0h2.35" stroke="#750084"/>
<path d="M278.6 0h2.35" stroke="#78008d"/>
<path d="M280.5 0h2.35" stroke="#7b0099"/>
<path d="M282.4 0h2.35" stroke="#7800a8"/>
<path d="M284.3 0h2.35" stroke="#7800b4"/>
<path d="M286.2 0h2.35" stroke="#7500b7"/>
<path d="M288.1 0h2.35" stroke="#7800b4"/>
<path d="M290.0 0h2.35" stroke="#7800ae"/>
<path d="M291.9 0h2.35" stroke="#7800ab"/>
<path d="M293.8 0h2.35" stroke="#7500c3"/>
<path d="M295.7 0h2.35" stroke="#1b00f9"/>
<path d="M297.6 0h2.35" stroke="#00deff"/>
<path d="M299.5 0h2.35" stroke="#3cff00"/>
<path d="M301.4 0h2.35" stroke="#deff00"/>
<path d="M303.3 0h2.35" stroke="#edff00"/>
<path d="M305.2 0h2.35" stroke="#90ff00"/>
<path d="M307.1 0h2.35" stroke="#00ffb4"/>
<path d="M309.0 0h2.35" stroke="#0012ff"/>
<path d="M310.9 0h2.35" stroke="#7500c0"/>
<path d="M312.8 0h2.35" stroke="#7b0090"/>
<path d="M314.7 0h4.25" stroke="#78008a"/>
<path d="M318.5 0h4.25" stroke="#78008d"/>
<path d="M322.3 0h2.35" stroke="#750087"/>
<path d="M324.2 0h2.35" stroke="#72007e"/>
<path d="M326.1 0h2.35" stroke="#6f0078"/>
<path d="M328.0 0h2.35" stroke="#6c0072"/>
<path d="M329.9 0h4.25" stroke="#69006f"/>
<path d="M333.7 0h4.25" stroke="#69006c"/>
<path d="M337.5 0h2.35" stroke="#66006c"/>
<path d="M339.4 0h6.15" stroke="#660069"/>
</g>
<g transform="translate(0 190.63)" stroke-width="3.46">
<path d="M259.6 0h6.15" stroke="#660069"/>
<path d="M265.3 0h2.35" stroke="#66006c"/>
<path d="M267.2 0h4.25" stroke="#69006c"/>
<path d="M271.0 0h4.25" stroke="#69006f"/>
<path d="M274.8 0h2.35" stroke="#6c0072"/>
<path d="M276.7 0h2.35" stroke="#6f0078"/>
<path d="M278.6 0h2.35" stroke="#72007e"/>
<path d="M280.5 0h2.35" stroke="#750087"/>
<path d="M282.4 0h2.35" stroke="#7b0090"/>
<path d="M284.3 0h2.35" stroke="#7b009c"/>
<path d="M286.2 0h2.35" stroke="#7b00a5"/>
<path d="M288.1 0h2.35" stroke="#7800a8"/>
<path d="M290.0 0h2.35" stroke="#7b00a5"/>
<path d="M291.9 0h4.25" stroke="#7b009f"/>
<path d="M295.7 0h2.35" stroke="#7800b4"/>
<path d="M297.6 0h2.35" stroke="#3f00ed"/>
<path d="M299.5 0h2.35" stroke="#0090ff"/>
<path d="M301.4 0h2.35" stroke="#00ff39"/>
<path d="M303.3 0h2.35" stroke="#81ff00"/>
<path d="M305.2 0h2.35" stroke="#99ff00"/>
<path d="M307.1 0h2.35" stroke="#09ff00"/>
<path d="M309.0 0h2.35" stroke="#00d5ff"/>
<path d="M310.9 0h2.35" stroke="#2100f6"/>
<path d="M312.8 0h2.35" stroke="#7800ab"/>
<path d="M314.7 0h2.35" stroke="#75008a"/>
<path d="M316.6 0h4.25" stroke="#750084"/>
<path d="M320.4 0h4.25" stroke="#750087"/>
<path d="M324.2 0h2.35" stroke="#720081"/>
<path d="M326.1 0h2.35" stroke="#6f007b"/>
<path d="M328.0 0h2.35" stroke="#6c0075"/>
<path d="M329.9 0h2.35" stroke="#690072"/>
<path d="M331.8 0h2.35" stroke="#69006f"/>
<path d="M333.7 0h2.35" stroke="#69006c"/>
<path d="M335.6 0h2.35" stroke="#66006c"/>
<path d="M337.5 0h6.15" stroke="#660069"/>
</g>
<g transform="translate(0 187.58)" stroke-width="3.46">
<path d="M259.6 0h6.15" stroke="#660069"/>
<path d="M265.3 0h2.35" stroke="#66006c"/>
<path d="M267.2 0h6.15" stroke="#69006c"/>
<path d="M272.9 0h2.35" stroke="#69006f"/>
<path d="M274.8 0h2.35" stroke="#6c0072"/>
<path d="M276.7 0h2.35" stroke="#6c0075"/>
<path d="M278.6 0h2.35" stroke="#6f007b"/>
<path d="M280.5 0h2.35" stroke="#720081"/>
<path d="M282.4 0h2.35" stroke="#78008d"/>
<path d="M284.3 0h2.35" stroke="#7e0096"/>
<path d="M286.2 0h2.35" stroke="#7b00a5"/>
<path d="M288.1 0h2.35" stroke="#7800ae"/>
<path d="M290.0 0h2.35" stroke="#7800b4"/>
<path d="M291.9 0h2.35" stroke="#7800b1"/>
<path d="M293.8 0h2.35" stroke="#7800ab"/>
<path d="M295.7 0h2.35" stroke="#7800a8"/>
<path d="M297.6 0h2.35" stroke="#7500c3"/>
<path d="M299.5 0h2.35" stroke="#1b00f9"/>
<path d="M301.4 0h2.35" stroke="#00d8ff"/>
<path d="M303.3 0h2.35" stroke="#2dff00"/>
<path d="M305.2 0h2.35" stroke="#ccff00"/>
<path d="M307.1 0h2.35" stroke="#d8ff00"/>
<path d="M309.0 0h2.35" stroke="#63ff00"/>
<path d="M310.9 0h2.35" stroke="#00ffe1"/>
<path d="M312.8 0h2.35" stroke="#0000ff"/>
<path d="M314.7 0h2.35" stroke="#7500b7"/>
<path d="M316.6 0h2.35" stroke="#78008d"/>
<path d="M318.5 0h2.35" stroke="#750087"/>
<path d="M320.4 0h2.35" stroke="#78008a"/>
<path d="M322.3 0h2.35" stroke="#78008d"/>
<path d="M324.2 0h2.35" stroke="#78008a"/>
<path d="M326.1 0h2.35" stroke="#750084"/>
<path d="M328.0 0h2.35" stroke="#72007e"/>
<path d="M329.9 0h2.35" stroke="#6f0078"/>
<path d="M331.8 0h2.35" stroke="#6c0072"/>
<path d="M333.7 0h2.35" stroke="#69006f"/>
<path d="M335.6 0h4.25" stroke="#69006c"/>
<path d="M339.4 0h2.35" stroke="#66006c"/>
<path d="M341.3 0h6.15" stroke="#660069"/>
</g>
<g transform="translate(0 184.52)" stroke-width="3.46">
<path d="M210.2 0h13.75" stroke="#660069"/>
<path d="M223.5 0h4.25" stroke="#66006c"/>
<path d="M227.3 0h13.75" stroke="#69006c"/>
<path d="M240.6 0h9.95" stroke="#69006f"/>
<path d="M250.1 0h2.35" stroke="#690072"/>
<path d="M252.0 0h8.05" stroke="#6c0072"/>
<path d="M259.6 0h6.15" stroke="#6c0075"/>
<path d="M265.3 0h2.35" stroke="#6c0078"/>
<path d="M267.2 0h4.25" stroke="#6f0078"/>
<path d="M271.0 0h4.25" stroke="#6f007b"/>
<path d="M274.8 0h2.35" stroke="#72007e"/>
<path d="M276.7 0h2.35" stroke="#720081"/>
<path d="M278.6 0h2.35" stroke="#750087"/>
<path d="M280.5 0h2.35" stroke="#7b0090"/>
<path d="M282.4 0h2.35" stroke="#7b009c"/>
<path d="M284.3 0h2.35" stroke="#7800ae"/>
<path d="M286.2 0h2.35" stroke="#7500c0"/>
<path d="M288.1 0h2.35" stroke="#7200d2"/>
<path d="M290.0 0h2.35" stroke="#6c00e1"/>
<path d="M291.9 0h2.35" stroke="#6600e4"/>
<path d="M293.8 0h2.35" stroke="#6900e1"/>
<path d="M295.7 0h4.25" stroke="#6f00db"/>
<path d="M299.5 0h2.35" stroke="#4800ea"/>
<path d="M301.4 0h2.35" stroke="#0057ff"/>
<path d="M303.3 0h2.35" stroke="#00ff3f"/>
<path d="M305.2 0h2.35" stroke="#f3ff00"/>
<path d="M307.1 0h2.35" stroke="#ff6f00"/>
<path d="M309.0 0h2.35" stroke="#ff6000"/>
<path d="M310.9 0h2.35" stroke="#ffea00"/>
<path d="M312.8 0h2.35" stroke="#00ff00"/>
<path d="M314.7 0h2.35" stroke="#0069ff"/>
<path d="M316.6 0h2.35" stroke="#6300e4"/>
<path d="M318.5 0h2.35" stroke="#7800b1"/>
<path d="M320.4 0h2.35" stroke="#7b00a8"/>
<path d="M322.3 0h2.35" stroke="#7800ab"/>
<path d="M324.2 0h2.35" stroke="#7800ae"/>
<path d="M326.1 0h2.35" stroke="#7800ab"/>
<path d="M328.0 0h2.35" stroke="#7b009f"/>
<path d="M329.9 0h2.35" stroke="#7b0093"/>
<path d="M331.8 0h2.35" stroke="#78008a"/>
<path d="M333.7 0h2.35" stroke="#750084"/>
<path d="M335.6 0h2.35" stroke="#720081"/>
<path d="M337.5 0h2.35" stroke="#6f007e"/>
<path d="M339.4 0h2.35" stroke="#6f007b"/>
<path d="M341.3 0h4.25" stroke="#6f0078"/>
<path d="M345.1 0h2.35" stroke="#6c0078"/>
<path d="M347.0 0h8.05" stroke="#6c0075"/>
<path d="M354.6 0h8.05" stroke="#6c0072"/>
<path d="M362.2 0h15.65" stroke="#69006f"/>
<path d="M377.4 0h15.65" stroke="#69006c"/>
<path d="M392.6 0h6.15" stroke="#66006c"/>
<path d="M398.3 0h15.65" stroke="#660069"/>
</g>
<g transform="translate(0 181.80)" stroke-width="2.80">
<path d="M261.5 0h6.15" stroke="#660069"/>
<path d="M267.2 0h2.35" stroke="#66006c"/>
<path d="M269.1 0h6.15" stroke="#69006c"/>
<path d="M274.8 0h4.25" stroke="#69006f"/>
<path d="M278.6 0h2.35" stroke="#6c0072"/>
<path d="M280.5 0h2.35" stroke="#6f0078"/>
<path d="M282.4 0h2.35" stroke="#72007e"/>
<path d="M284.3 0h2.35" stroke="#750087"/>
<path d="M286.2 0h2.35" stroke="#7b0090"/>
<path d="M288.1 0h2.35" stroke="#7b009f"/>
<path d="M290.0 0h2.35" stroke="#7800ae"/>
<path d="M291.9 0h2.35" stroke="#7500ba"/>
<path d="M293.8 0h2.35" stroke="#7500bd"/>
<path d="M295.7 0h2.35" stroke="#7500ba"/>
<path d="M297.6 0h4.25" stroke="#7800b4"/>
<path d="M301.4 0h2.35" stroke="#7200d2"/>
<path d="M303.3 0h2.35" stroke="#000cff"/>
<path d="M305.2 0h2.35" stroke="#00ffd5"/>
<path d="M307.1 0h2.35" stroke="#87ff00"/>
<path d="M309.0 0h2.35" stroke="#fff900"/>
<path d="M310.9 0h2.35" stroke="#fff300"/>
<path d="M312.8 0h2.35" stroke="#a5ff00"/>
<path d="M314.7 0h2.35" stroke="#00ffb1"/>
<path d="M316.6 0h2.35" stroke="#000fff"/>
<path d="M318.5 0h2.35" stroke="#7500bd"/>
<path d="M320.4 0h2.35" stroke="#7b0090"/>
<path d="M322.3 0h2.35" stroke="#78008a"/>
<path d="M324.2 0h2.35" stroke="#78008d"/>
<path d="M326.1 0h2.35" stroke="#7b0090"/>
<path d="M328.0 0h2.35" stroke="#78008d"/>
<path d="M329.9 0h2.35" stroke="#750087"/>
<path d="M331.8 0h2.35" stroke="#720081"/>
<path d="M333.7 0h2.35" stroke="#6f0078"/>
<path d="M335.6 0h2.35" stroke="#6c0075"/>
<path d="M337.5 0h4.25" stroke="#69006f"/>
<path d="M341.3 0h4.25" stroke="#69006c"/>
<path d="M345.1 0h2.35" stroke="#66006c"/>
<path d="M347.0 0h6.15" stroke="#660069"/>
</g>
</g>
<polyline points="69.7,404.7 71.8,405.2 73.9,404.9 76.0,404.1 78.1,405.9 80.2,405.2 82.3,406.6 84.4,403.6 86.5,404.6 88.6,404.1 90.7,402.8 92.8,403.3 94.9,404.6 97.0,403.6 99.1,406.1 101.2,403.9 103.3,404.2 105.4,406.2 107.5,402.8 109.6,405.1 111.7,403.5 113.8,404.8 115.9,403.1 118.0,402.8 120.1,405.2 122.2,406.0 124.3,404.4 126.4,403.3 128.5,404.7 130.6,405.0 132.7,403.8 134.8,407.5 136.9,405.2 139.0,406.0 141.1,404.1 143.2,405.4 145.3,405.8 147.4,405.0 149.5,406.3 151.6,404.7 153.7,405.5 155.8,405.2 157.9,405.6 160.0,403.8 162.1,405.0 164.2,404.3 166.3,404.4 168.4,405.9 170.5,404.4 172.6,404.7 174.7,404.7 176.8,405.6 178.9,405.6 181.0,404.3 183.1,402.7 185.2,406.1 187.3,404.6 189.4,405.6 191.5,404.2 193.6,404.6 195.7,403.9 197.8,408.2 199.9,405.6 202.0,406.0 204.1,404.9 206.2,405.5 208.3,405.3 210.4,403.6 212.5,402.0 214.6,407.2 216.7,403.5 218.8,402.4 220.9,402.4 223.0,402.4 225.1,403.0 227.2,401.8 229.3,399.1 231.4,397.7 233.5,397.5 235.6,396.8 237.7,393.3 239.8,390.2 241.9,384.1 244.0,376.2 246.1,363.1 248.2,340.2 250.3,320.6 252.4,323.5 254.5,346.9 256.6,368.7 258.7,378.5 260.8,387.2 262.9,389.2 265.0,392.4 267.1,395.7 269.2,395.9 271.3,398.6 273.4,399.8 275.5,400.4 277.6,400.4 279.7,401.1 281.8,400.9 283.9,402.1 286.0,400.7 288.1,400.2 290.2,402.1 292.3,403.3 294.4,401.0 296.5,400.7 298.6,402.3 300.7,403.6 302.8,402.0 304.9,400.6 307.0,404.6 309.1,402.0 311.2,402.9 313.3,403.6 315.4,402.1 317.5,404.3 319.6,402.5 321.7,401.4 323.8,402.8 325.9,404.1 328.0,405.2 330.1,404.7 332.2,405.4 334.3,401.5 336.4,403.7 338.5,404.7 340.6,405.1 342.7,404.9 344.8,404.1 346.9,405.3 349.0,402.0 351.1,404.8 353.2,404.9 355.3,403.8 357.4,402.5 359.5,402.7 361.6,404.9 363.7,404.1 365.8,404.3 367.9,403.9 370.0,404.3 372.1,405.7 374.2,406.1 376.3,404.5 378.4,406.1 380.5,403.2 382.6,404.8 384.7,406.0 386.8,405.3 388.9,405.5 391.0,405.1 393.1,403.9 395.2,406.6 397.3,407.1 399.4,404.6 401.5,405.2 403.6,404.8 405.7,404.5 407.8,405.2 409.9,404.0 412.0,405.9 414.1,404.8 416.2,405.8 418.3,406.1 420.4,404.1 422.5,404.1 424.6,406.9 426.7,405.9 428.8,404.3 430.9,403.3 433.0,405.3 435.1,404.7 437.2,406.0 439.3,401.5 441.4,403.7 443.5,403.2 445.6,403.4 447.7,403.0 449.8,403.4 451.9,404.4 454.0,403.1 456.1,403.8 458.2,402.3 460.3,404.6 462.4,404.4 464.5,402.9 466.6,402.2" fill="none" stroke="#fff" stroke-width="3.2" stroke-linejoin="round" stroke-linecap="round"/>
<path d="M69.7 404.7h0M71.8 405.2h0M73.9 404.9h0M76.0 404.1h0M78.1 405.9h0M80.2 405.2h0M82.3 406.6h0M84.4 403.6h0M86.5 404.6h0M88.6 404.1h0M90.7 402.8h0M92.8 403.3h0M94.9 404.6h0M97.0 403.6h0M99.1 406.1h0M101.2 403.9h0M103.3 404.2h0M105.4 406.2h0M107.5 402.8h0M109.6 405.1h0M111.7 403.5h0M113.8 404.8h0M115.9 403.1h0M118.0 402.8h0M120.1 405.2h0M122.2 406.0h0M124.3 404.4h0M126.4 403.3h0M128.5 404.7h0M130.6 405.0h0M132.7 403.8h0M134.8 407.5h0M136.9 405.2h0M139.0 406.0h0M141.1 404.1h0M143.2 405.4h0M145.3 405.8h0M147.4 405.0h0M149.5 406.3h0M151.6 404.7h0M153.7 405.5h0M155.8 405.2h0M157.9 405.6h0M160.0 403.8h0M162.1 405.0h0M164.2 404.3h0M166.3 404.4h0M168.4 405.9h0M170.5 404.4h0M172.6 404.7h0M174.7 404.7h0M176.8 405.6h0M178.9 405.6h0M181.0 404.3h0M183.1 402.7h0M185.2 406.1h0M187.3 404.6h0M189.4 405.6h0M191.5 404.2h0M193.6 404.6h0M195.7 403.9h0M197.8 408.2h0M199.9 405.6h0M202.0 406.0h0M204.1 404.9h0M206.2 405.5h0M208.3 405.3h0M210.4 403.6h0M212.5 402.0h0M214.6 407.2h0M216.7 403.5h0M218.8 402.4h0M220.9 402.4h0M223.0 402.4h0M225.1 403.0h0M227.2 401.8h0M229.3 399.1h0M231.4 397.7h0M233.5 397.5h0M235.6 396.8h0M267.1 395.7h0M269.2 395.9h0M271.3 398.6h0M273.4 399.8h0M275.5 400.4h0M277.6 400.4h0M279.7 401.1h0M281.8 400.9h0M283.9 402.1h0M286.0 400.7h0M288.1 400.2h0M290.2 402.1h0M292.3 403.3h0M294.4 401.0h0M296.5 400.7h0M298.6 402.3h0M300.7 403.6h0M302.8 402.0h0M304.9 400.6h0M307.0 404.6h0M309.1 402.0h0M311.2 402.9h0M313.3 403.6h0M315.4 402.1h0M317.5 404.3h0M319.6 402.5h0M321.7 401.4h0M323.8 402.8h0M325.9 404.1h0M328.0 405.2h0M330.1 404.7h0M332.2 405.4h0M334.3 401.5h0M336.4 403.7h0M338.5 404.7h0M340.6 405.1h0M342.7 404.9h0M344.8 404.1h0M346.9 405.3h0M349.0 402.0h0M351.1 404.8h0M353.2 404.9h0M355.3 403.8h0M357.4 402.5h0M359.5 402.7h0M361.6 404.9h0M363.7 404.1h0M365.8 404.3h0M367.9 403.9h0M370.0 404.3h0M372.1 405.7h0M374.2 406.1h0M376.3 404.5h0M378.4 406.1h0M380.5 403.2h0M382.6 404.8h0M384.7 406.0h0M386.8 405.3h0M388.9 405.5h0M391.0 405.1h0M393.1 403.9h0M395.2 406.6h0M397.3 407.1h0M399.4 404.6h0M401.5 405.2h0M403.6 404.8h0M405.7 404.5h0M407.8 405.2h0M409.9 404.0h0M412.0 405.9h0M414.1 404.8h0M416.2 405.8h0M418.3 406.1h0M420.4 404.1h0M422.5 404.1h0M424.6 406.9h0M426.7 405.9h0M428.8 404.3h0M430.9 403.3h0M433.0 405.3h0M435.1 404.7h0M437.2 406.0h0M439.3 401.5h0M441.4 403.7h0M443.5 403.2h0M445.6 403.4h0M447.7 403.0h0M449.8 403.4h0M451.9 404.4h0M454.0 403.1h0M456.1 403.8h0M458.2 402.3h0M460.3 404.6h0M462.4 404.4h0M464.5 402.9h0M466.6 402.2h0" stroke="#fff" stroke-width="4.3" stroke-linecap="round" fill="none"/>
<path d="M262 354.2H277L272 348.8H286" stroke="#fff" stroke-width="2.4" fill="none" stroke-linejoin="miter"/>
<path d="M283 344L296.5 348.6L283 353.2Z" fill="#fff"/>
<rect x="66.5" y="179.6" width="402.8" height="236.6" fill="none" stroke="#000" stroke-width="2.4"/>
<path d="M66.5 413.6h-10.8M66.5 383.1h-10.8M66.5 352.5h-10.8M66.5 322.0h-10.8M66.5 291.4h-10.8M66.5 260.9h-10.8M66.5 230.3h-10.8M66.5 199.8h-10.8M469.3 409.6h10.3M469.3 352.3h10.3M469.3 295.1h10.3M469.3 237.8h10.3M469.3 180.5h10.3M68.0 416.2v11M134.7 416.2v11M201.3 416.2v11M268.0 416.2v11M334.7 416.2v11M401.3 416.2v11M468.0 416.2v11" stroke="#000" stroke-width="2.4" fill="none"/>
<text x="53.6" y="418.2" text-anchor="end" fill="#000" stroke="#000" stroke-width="0.65">940</text>
<text x="53.6" y="387.7" text-anchor="end" fill="#000" stroke="#000" stroke-width="0.65">942</text>
<text x="53.6" y="357.1" text-anchor="end" fill="#000" stroke="#000" stroke-width="0.65">944</text>
<text x="53.6" y="326.6" text-anchor="end" fill="#000" stroke="#000" stroke-width="0.65">946</text>
<text x="53.6" y="296.1" text-anchor="end" fill="#000" stroke="#000" stroke-width="0.65">948</text>
<text x="53.6" y="265.5" text-anchor="end" fill="#000" stroke="#000" stroke-width="0.65">950</text>
<text x="53.6" y="234.9" text-anchor="end" fill="#000" stroke="#000" stroke-width="0.65">952</text>
<text x="53.6" y="204.4" text-anchor="end" fill="#000" stroke="#000" stroke-width="0.65">954</text>
<text x="482" y="414.8" fill="#000" stroke="#000" stroke-width="0.65">0</text>
<text x="482" y="357.5" fill="#000" stroke="#000" stroke-width="0.65">10</text>
<text x="482" y="300.3" fill="#000" stroke="#000" stroke-width="0.65">20</text>
<text x="482" y="243.0" fill="#000" stroke="#000" stroke-width="0.65">30</text>
<text x="482" y="185.7" fill="#000" stroke="#000" stroke-width="0.65">40</text>
<text x="67.0" y="443.3" text-anchor="middle" fill="#000" stroke="#000" stroke-width="0.65">1090</text>
<text x="133.7" y="443.3" text-anchor="middle" fill="#000" stroke="#000" stroke-width="0.65">1100</text>
<text x="200.3" y="443.3" text-anchor="middle" fill="#000" stroke="#000" stroke-width="0.65">1110</text>
<text x="267.0" y="443.3" text-anchor="middle" fill="#000" stroke="#000" stroke-width="0.65">1120</text>
<text x="333.7" y="443.3" text-anchor="middle" fill="#000" stroke="#000" stroke-width="0.65">1130</text>
<text x="400.3" y="443.3" text-anchor="middle" fill="#000" stroke="#000" stroke-width="0.65">1140</text>
<text x="467.0" y="443.3" text-anchor="middle" fill="#000" stroke="#000" stroke-width="0.65">1150</text>
<text x="264.6" y="461" text-anchor="middle" fill="#000" stroke="#000" stroke-width="0.65">Emission wavelength (nm)</text>
<text transform="translate(11.3,299.2) rotate(-90)" text-anchor="middle" fill="#000" stroke="#000" stroke-width="0.65">Excitation wavelength (nm)</text>
<text transform="translate(515.4,304.8) rotate(-90)" text-anchor="middle" fill="#000" stroke="#000" stroke-width="0.65">PL intensity (arb. unit)</text>
<text x="86" y="206.5" fill="#fff" stroke="#fff" stroke-width="0.95">(b)</text>
<defs><linearGradient id="cb" x1="0" y1="1" x2="0" y2="0">
<stop offset="0.000" stop-color="rgb(100,0,100)"/>
<stop offset="0.025" stop-color="rgb(100,0,100)"/>
<stop offset="0.050" stop-color="rgb(112,0,124)"/>
<stop offset="0.075" stop-color="rgb(122,0,165)"/>
<stop offset="0.100" stop-color="rgb(112,0,214)"/>
<stop offset="0.125" stop-color="rgb(61,0,238)"/>
<stop offset="0.150" stop-color="rgb(0,2,255)"/>
<stop offset="0.175" stop-color="rgb(0,59,255)"/>
<stop offset="0.200" stop-color="rgb(0,115,255)"/>
<stop offset="0.225" stop-color="rgb(0,178,255)"/>
<stop offset="0.250" stop-color="rgb(0,243,255)"/>
<stop offset="0.275" stop-color="rgb(0,255,197)"/>
<stop offset="0.300" stop-color="rgb(0,255,127)"/>
<stop offset="0.325" stop-color="rgb(0,255,64)"/>
<stop offset="0.350" stop-color="rgb(0,255,1)"/>
<stop offset="0.375" stop-color="rgb(51,255,0)"/>
<stop offset="0.400" stop-color="rgb(103,255,0)"/>
<stop offset="0.425" stop-color="rgb(155,255,0)"/>
<stop offset="0.450" stop-color="rgb(185,255,0)"/>
<stop offset="0.475" stop-color="rgb(212,255,0)"/>
<stop offset="0.500" stop-color="rgb(240,255,0)"/>
<stop offset="0.525" stop-color="rgb(255,241,0)"/>
<stop offset="0.550" stop-color="rgb(255,211,0)"/>
<stop offset="0.575" stop-color="rgb(255,181,0)"/>
<stop offset="0.600" stop-color="rgb(255,151,0)"/>
<stop offset="0.625" stop-color="rgb(255,118,0)"/>
<stop offset="0.650" stop-color="rgb(255,81,0)"/>
<stop offset="0.675" stop-color="rgb(255,45,0)"/>
<stop offset="0.700" stop-color="rgb(255,8,0)"/>
<stop offset="0.725" stop-color="rgb(255,0,0)"/>
<stop offset="0.750" stop-color="rgb(255,0,0)"/>
<stop offset="0.775" stop-color="rgb(255,0,0)"/>
<stop offset="0.800" stop-color="rgb(255,0,0)"/>
<stop offset="0.825" stop-color="rgb(238,0,0)"/>
<stop offset="0.850" stop-color="rgb(220,0,0)"/>
<stop offset="0.875" stop-color="rgb(201,0,0)"/>
<stop offset="0.900" stop-color="rgb(183,0,0)"/>
<stop offset="0.925" stop-color="rgb(160,0,0)"/>
<stop offset="0.950" stop-color="rgb(138,0,0)"/>
<stop offset="0.975" stop-color="rgb(115,0,0)"/>
<stop offset="1.000" stop-color="rgb(93,0,0)"/>
</linearGradient></defs>
<rect x="404.0" y="211.5" width="13.199999999999989" height="106.30000000000001" fill="url(#cb)" stroke="#fff" stroke-width="1.9"/>
<text x="423.3" y="308.7" font-size="13.6px" fill="#fff" stroke="#fff" stroke-width="0.95">2</text>
<text x="423.3" y="288.3" font-size="13.6px" fill="#fff" stroke="#fff" stroke-width="0.95">4</text>
<text x="423.3" y="267.9" font-size="13.6px" fill="#fff" stroke="#fff" stroke-width="0.95">6</text>
<text x="423.3" y="247.5" font-size="13.6px" fill="#fff" stroke="#fff" stroke-width="0.95">8</text>
<text x="423.3" y="227.1" font-size="13.6px" fill="#fff" stroke="#fff" stroke-width="0.95">10</text>
<path d="M417.2 304.0h5M417.2 283.6h5M417.2 263.2h5M417.2 242.8h5M417.2 222.4h5" stroke="#fff" stroke-width="1.6" fill="none"/>
<text x="410" y="208.5" font-size="13.6px" fill="#fff" stroke="#fff" stroke-width="0.95">x10<tspan dy="-6" font-size="10px">3</tspan></text>
<text transform="translate(450.8,257.3) rotate(-90)" text-anchor="middle" font-size="13.6px" fill="#fff" stroke="#fff" stroke-width="0.95">Raman intensity (a. u.)</text>
</svg></body></html>
